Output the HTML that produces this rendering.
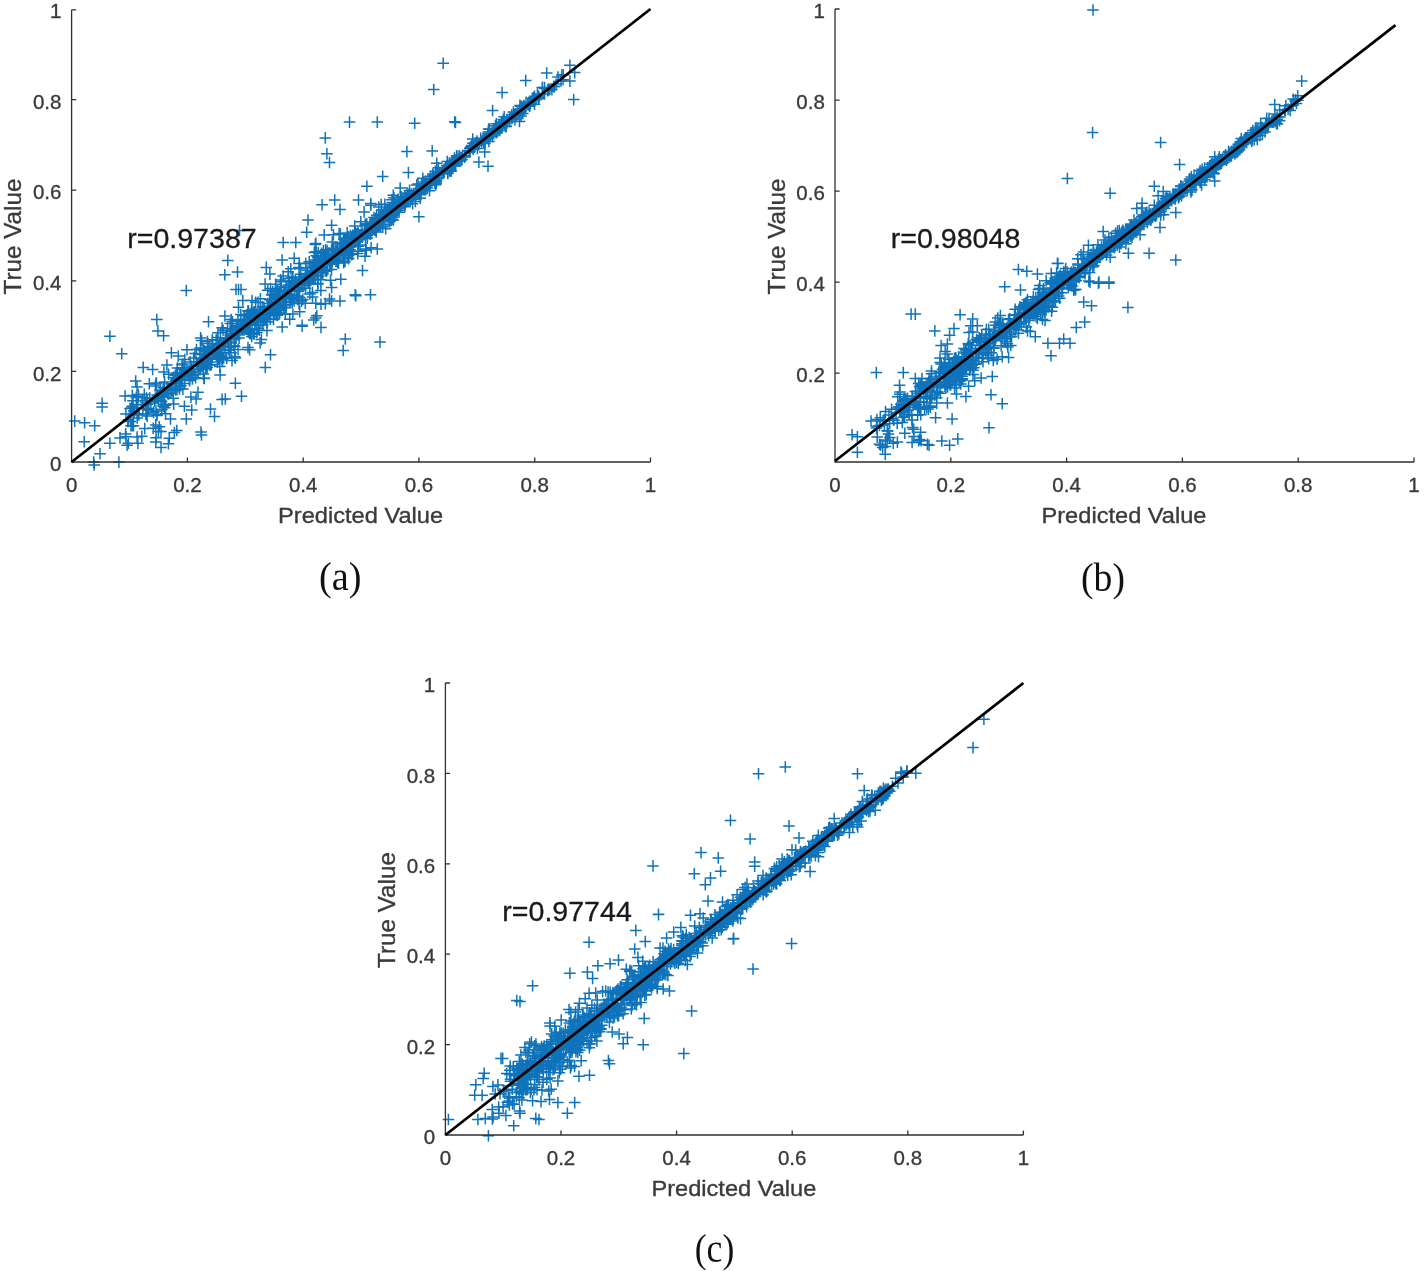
<!DOCTYPE html>
<html lang="en"><head><meta charset="utf-8"><title>Predicted vs True Value</title>
<style>
html,body{margin:0;padding:0;background:#fff}
body{width:1425px;height:1271px;overflow:hidden}
svg{display:block}
.t{font-family:"Liberation Sans",Arial,sans-serif;fill:#3a3a3a;stroke:#3a3a3a;stroke-width:0.35px}
.tk{font-size:20.5px}
.lb{font-size:22.6px}
.r{font-family:"Liberation Sans",Arial,sans-serif;font-size:28.5px;fill:#1a1a1a;stroke:#1a1a1a;stroke-width:0.3px}
.cap{font-family:"Liberation Serif","DejaVu Serif",serif;font-size:40px;fill:#111}
.ax{stroke:#303030;stroke-width:1.3;fill:none}
.mk{stroke:#0f73bb;stroke-width:1.5;fill:none}
.ln{stroke:#000;stroke-width:2.7;stroke-linecap:butt}
</style></head><body>
<svg width="1425" height="1271" viewBox="0 0 1425 1271">
<g id="plot-a">
<path class="mk" d="M192.2 392.3h11.6M198.0 386.5v11.6M328.0 248.2h11.6M333.8 242.4v11.6M344.7 247.1h11.6M350.5 241.3v11.6M122.0 421.4h11.6M127.8 415.6v11.6M213.2 352.6h11.6M219.0 346.8v11.6M479.4 139.1h11.6M485.2 133.3v11.6M182.2 372.3h11.6M188.0 366.5v11.6M185.5 372.4h11.6M191.3 366.6v11.6M479.2 143.4h11.6M485.0 137.6v11.6M337.2 244.1h11.6M343.0 238.3v11.6M285.1 294.9h11.6M290.9 289.1v11.6M310.3 251.7h11.6M316.1 245.9v11.6M385.6 212.2h11.6M391.4 206.4v11.6M225.2 352.7h11.6M231.0 346.9v11.6M237.6 324.0h11.6M243.4 318.2v11.6M465.3 146.9h11.6M471.1 141.1v11.6M393.2 212.3h11.6M399.0 206.5v11.6M270.8 304.0h11.6M276.6 298.2v11.6M451.1 156.5h11.6M456.9 150.7v11.6M386.0 219.1h11.6M391.8 213.3v11.6M555.2 80.9h11.6M561.0 75.1v11.6M222.2 338.7h11.6M228.0 332.9v11.6M342.9 258.8h11.6M348.7 253.0v11.6M295.6 301.1h11.6M301.4 295.3v11.6M288.3 301.0h11.6M294.1 295.2v11.6M359.4 230.1h11.6M365.2 224.3v11.6M248.9 313.1h11.6M254.7 307.3v11.6M446.8 162.1h11.6M452.6 156.3v11.6M448.8 161.1h11.6M454.6 155.3v11.6M177.1 389.1h11.6M182.9 383.3v11.6M272.5 294.6h11.6M278.3 288.8v11.6M197.2 348.5h11.6M203.0 342.7v11.6M165.1 393.0h11.6M170.9 387.2v11.6M520.2 102.4h11.6M526.0 96.6v11.6M307.7 275.1h11.6M313.5 269.3v11.6M248.2 317.8h11.6M254.0 312.0v11.6M375.3 218.0h11.6M381.1 212.2v11.6M247.6 333.6h11.6M253.4 327.8v11.6M528.7 96.2h11.6M534.5 90.4v11.6M242.7 331.9h11.6M248.5 326.1v11.6M142.9 408.5h11.6M148.7 402.7v11.6M260.7 318.5h11.6M266.5 312.7v11.6M314.1 264.1h11.6M319.9 258.3v11.6M319.1 257.6h11.6M324.9 251.8v11.6M475.6 141.0h11.6M481.4 135.2v11.6M334.6 234.0h11.6M340.4 228.2v11.6M326.8 255.6h11.6M332.6 249.8v11.6M124.8 421.4h11.6M130.6 415.6v11.6M214.3 374.9h11.6M220.1 369.1v11.6M532.9 97.5h11.6M538.7 91.7v11.6M306.7 276.9h11.6M312.5 271.1v11.6M334.2 257.3h11.6M340.0 251.5v11.6M183.8 379.7h11.6M189.6 373.9v11.6M126.5 406.6h11.6M132.3 400.8v11.6M453.3 155.9h11.6M459.1 150.1v11.6M395.4 196.7h11.6M401.2 190.9v11.6M241.1 314.7h11.6M246.9 308.9v11.6M222.6 346.8h11.6M228.4 341.0v11.6M175.8 375.3h11.6M181.6 369.5v11.6M252.6 328.4h11.6M258.4 322.6v11.6M138.5 394.4h11.6M144.3 388.6v11.6M419.1 184.3h11.6M424.9 178.5v11.6M263.1 313.0h11.6M268.9 307.2v11.6M187.6 368.9h11.6M193.4 363.1v11.6M444.9 165.9h11.6M450.7 160.1v11.6M197.6 366.3h11.6M203.4 360.5v11.6M172.4 356.1h11.6M178.2 350.3v11.6M373.0 207.1h11.6M378.8 201.3v11.6M488.0 129.4h11.6M493.8 123.6v11.6M143.5 383.7h11.6M149.3 377.9v11.6M418.2 185.6h11.6M424.0 179.8v11.6M203.2 364.8h11.6M209.0 359.0v11.6M161.1 365.0h11.6M166.9 359.2v11.6M127.7 425.8h11.6M133.5 420.0v11.6M254.6 309.1h11.6M260.4 303.3v11.6M377.7 218.2h11.6M383.5 212.4v11.6M271.1 296.3h11.6M276.9 290.5v11.6M428.9 177.9h11.6M434.7 172.1v11.6M200.3 351.7h11.6M206.1 345.9v11.6M242.2 347.5h11.6M248.0 341.7v11.6M252.6 317.0h11.6M258.4 311.2v11.6M531.6 94.1h11.6M537.4 88.3v11.6M500.0 126.6h11.6M505.8 120.8v11.6M279.6 305.1h11.6M285.4 299.3v11.6M282.4 271.7h11.6M288.2 265.9v11.6M245.0 316.6h11.6M250.8 310.8v11.6M469.4 143.3h11.6M475.2 137.5v11.6M159.8 413.7h11.6M165.6 407.9v11.6M172.0 378.6h11.6M177.8 372.8v11.6M284.2 301.3h11.6M290.0 295.5v11.6M197.5 374.1h11.6M203.3 368.3v11.6M443.4 164.2h11.6M449.2 158.4v11.6M412.3 184.0h11.6M418.1 178.2v11.6M379.9 228.7h11.6M385.7 222.9v11.6M384.0 221.7h11.6M389.8 215.9v11.6M342.0 252.3h11.6M347.8 246.5v11.6M443.0 167.1h11.6M448.8 161.3v11.6M483.1 141.4h11.6M488.9 135.6v11.6M246.2 300.6h11.6M252.0 294.8v11.6M352.0 234.5h11.6M357.8 228.7v11.6M241.0 328.6h11.6M246.8 322.8v11.6M307.6 279.4h11.6M313.4 273.6v11.6M441.5 161.5h11.6M447.3 155.7v11.6M483.7 129.2h11.6M489.5 123.4v11.6M459.5 156.1h11.6M465.3 150.3v11.6M128.1 410.7h11.6M133.9 404.9v11.6M316.2 256.9h11.6M322.0 251.1v11.6M226.2 360.6h11.6M232.0 354.8v11.6M541.9 90.8h11.6M547.7 85.0v11.6M242.7 311.6h11.6M248.5 305.8v11.6M216.8 359.8h11.6M222.6 354.0v11.6M315.7 269.3h11.6M321.5 263.5v11.6M167.5 398.2h11.6M173.3 392.4v11.6M453.0 161.0h11.6M458.8 155.2v11.6M380.5 212.7h11.6M386.3 206.9v11.6M258.8 318.5h11.6M264.6 312.7v11.6M291.0 296.0h11.6M296.8 290.2v11.6M163.0 394.1h11.6M168.8 388.2v11.6M401.2 192.9h11.6M407.0 187.1v11.6M229.0 333.9h11.6M234.8 328.1v11.6M166.2 390.8h11.6M172.0 385.0v11.6M179.3 373.0h11.6M185.1 367.2v11.6M349.5 237.4h11.6M355.3 231.6v11.6M398.6 201.0h11.6M404.4 195.2v11.6M315.0 279.8h11.6M320.8 274.0v11.6M377.2 216.9h11.6M383.0 211.1v11.6M282.9 293.9h11.6M288.7 288.1v11.6M184.3 361.9h11.6M190.1 356.1v11.6M257.0 324.9h11.6M262.8 319.1v11.6M317.6 250.9h11.6M323.4 245.1v11.6M523.8 105.5h11.6M529.6 99.7v11.6M151.1 415.4h11.6M156.9 409.6v11.6M181.2 349.7h11.6M187.0 343.9v11.6M392.3 210.3h11.6M398.1 204.5v11.6M498.6 122.4h11.6M504.4 116.6v11.6M475.7 141.7h11.6M481.5 135.9v11.6M369.8 218.9h11.6M375.6 213.1v11.6M158.1 372.1h11.6M163.9 366.3v11.6M403.8 190.4h11.6M409.6 184.6v11.6M397.1 200.0h11.6M402.9 194.2v11.6M251.0 332.4h11.6M256.8 326.6v11.6M306.7 297.0h11.6M312.5 291.2v11.6M181.5 372.8h11.6M187.3 367.0v11.6M448.2 165.3h11.6M454.0 159.5v11.6M364.2 226.1h11.6M370.0 220.3v11.6M410.0 192.1h11.6M415.8 186.3v11.6M421.6 188.1h11.6M427.4 182.3v11.6M228.3 345.8h11.6M234.1 340.0v11.6M442.0 173.4h11.6M447.8 167.6v11.6M214.1 356.0h11.6M219.9 350.2v11.6M202.0 358.9h11.6M207.8 353.1v11.6M286.4 284.0h11.6M292.2 278.2v11.6M275.5 286.9h11.6M281.3 281.1v11.6M257.8 321.0h11.6M263.6 315.2v11.6M347.4 244.9h11.6M353.2 239.1v11.6M359.5 224.0h11.6M365.3 218.2v11.6M230.8 325.3h11.6M236.6 319.5v11.6M349.6 238.6h11.6M355.4 232.8v11.6M297.0 299.4h11.6M302.8 293.6v11.6M370.5 228.4h11.6M376.3 222.6v11.6M196.6 359.5h11.6M202.4 353.7v11.6M467.4 149.3h11.6M473.2 143.5v11.6M300.0 263.5h11.6M305.8 257.7v11.6M342.2 245.1h11.6M348.0 239.3v11.6M400.3 199.2h11.6M406.1 193.4v11.6M274.3 308.5h11.6M280.1 302.7v11.6M243.7 333.3h11.6M249.5 327.5v11.6M542.9 90.2h11.6M548.7 84.4v11.6M158.8 407.8h11.6M164.6 402.0v11.6M289.0 289.4h11.6M294.8 283.6v11.6M365.5 223.8h11.6M371.3 218.0v11.6M128.6 411.9h11.6M134.4 406.1v11.6M210.3 340.1h11.6M216.1 334.3v11.6M430.4 180.7h11.6M436.2 174.9v11.6M431.8 174.9h11.6M437.6 169.1v11.6M379.9 215.2h11.6M385.7 209.4v11.6M482.5 131.9h11.6M488.3 126.1v11.6M404.7 197.6h11.6M410.5 191.8v11.6M251.1 314.7h11.6M256.9 308.9v11.6M336.9 255.1h11.6M342.7 249.3v11.6M306.5 267.8h11.6M312.3 262.0v11.6M439.7 167.4h11.6M445.5 161.6v11.6M330.4 259.2h11.6M336.2 253.4v11.6M206.4 357.8h11.6M212.2 352.0v11.6M522.4 104.9h11.6M528.2 99.1v11.6M341.1 239.7h11.6M346.9 233.9v11.6M413.5 193.9h11.6M419.3 188.1v11.6M377.5 214.2h11.6M383.3 208.4v11.6M413.1 191.4h11.6M418.9 185.6v11.6M303.4 261.7h11.6M309.2 255.9v11.6M379.0 204.2h11.6M384.8 198.4v11.6M152.6 400.2h11.6M158.4 394.4v11.6M387.0 215.7h11.6M392.8 209.9v11.6M431.0 163.3h11.6M436.8 157.5v11.6M399.2 198.7h11.6M405.0 192.9v11.6M402.4 196.5h11.6M408.2 190.7v11.6M268.1 311.9h11.6M273.9 306.1v11.6M506.9 117.4h11.6M512.7 111.6v11.6M158.8 382.1h11.6M164.6 376.3v11.6M494.4 125.1h11.6M500.2 119.3v11.6"/>
<path class="mk" d="M325.8 264.3h11.6M331.6 258.5v11.6M162.8 374.3h11.6M168.6 368.5v11.6M335.6 247.1h11.6M341.4 241.3v11.6M272.6 308.7h11.6M278.4 302.9v11.6M301.2 270.2h11.6M307.0 264.4v11.6M455.4 157.6h11.6M461.2 151.8v11.6M245.8 310.2h11.6M251.6 304.4v11.6M364.9 230.8h11.6M370.7 225.0v11.6M279.3 292.2h11.6M285.1 286.4v11.6M271.5 315.3h11.6M277.3 309.5v11.6M278.1 291.0h11.6M283.9 285.2v11.6M156.1 409.6h11.6M161.9 403.8v11.6M325.7 257.6h11.6M331.5 251.8v11.6M429.9 184.8h11.6M435.7 179.0v11.6M201.3 361.8h11.6M207.1 356.0v11.6M136.4 400.5h11.6M142.2 394.7v11.6M168.0 377.4h11.6M173.8 371.6v11.6M264.7 288.6h11.6M270.5 282.8v11.6M557.3 79.8h11.6M563.1 74.0v11.6M190.7 349.5h11.6M196.5 343.7v11.6M536.5 87.4h11.6M542.3 81.6v11.6M320.5 271.2h11.6M326.3 265.4v11.6M167.9 404.1h11.6M173.7 398.3v11.6M309.4 275.6h11.6M315.2 269.8v11.6M238.5 330.0h11.6M244.3 324.2v11.6M382.9 213.1h11.6M388.7 207.3v11.6M293.2 303.6h11.6M299.0 297.8v11.6M203.3 347.3h11.6M209.1 341.5v11.6M249.0 325.2h11.6M254.8 319.4v11.6M432.2 178.4h11.6M438.0 172.6v11.6M432.2 172.4h11.6M438.0 166.6v11.6M315.4 271.4h11.6M321.2 265.6v11.6M310.2 262.4h11.6M316.0 256.6v11.6M470.3 143.0h11.6M476.1 137.2v11.6M493.5 128.1h11.6M499.3 122.3v11.6M176.3 364.8h11.6M182.1 359.0v11.6M199.0 351.0h11.6M204.8 345.2v11.6M270.4 306.6h11.6M276.2 300.8v11.6M280.3 307.8h11.6M286.1 302.0v11.6M159.8 405.3h11.6M165.6 399.5v11.6M167.5 377.5h11.6M173.3 371.7v11.6M209.1 353.6h11.6M214.9 347.8v11.6M327.6 234.7h11.6M333.4 228.9v11.6M431.3 175.2h11.6M437.1 169.4v11.6M358.7 230.8h11.6M364.5 225.0v11.6M144.0 398.0h11.6M149.8 392.2v11.6M183.7 380.6h11.6M189.5 374.8v11.6M316.1 267.0h11.6M321.9 261.2v11.6M523.9 106.2h11.6M529.7 100.4v11.6M513.7 121.4h11.6M519.5 115.6v11.6M283.9 319.2h11.6M289.7 313.4v11.6M526.7 98.4h11.6M532.5 92.6v11.6M472.6 144.9h11.6M478.4 139.1v11.6M325.0 260.1h11.6M330.8 254.3v11.6M430.7 180.9h11.6M436.5 175.1v11.6M286.1 299.1h11.6M291.9 293.3v11.6M226.1 330.0h11.6M231.9 324.2v11.6M359.9 231.4h11.6M365.7 225.6v11.6M186.7 374.4h11.6M192.5 368.6v11.6M388.1 197.8h11.6M393.9 192.0v11.6M453.4 159.0h11.6M459.2 153.2v11.6M484.5 136.0h11.6M490.3 130.2v11.6M293.2 267.4h11.6M299.0 261.6v11.6M150.3 437.7h11.6M156.1 431.9v11.6M514.0 109.9h11.6M519.8 104.1v11.6M404.5 201.0h11.6M410.3 195.2v11.6M494.0 130.5h11.6M499.8 124.7v11.6M342.6 249.6h11.6M348.4 243.8v11.6M391.3 206.8h11.6M397.1 201.0v11.6M326.4 257.3h11.6M332.2 251.5v11.6M213.2 344.9h11.6M219.0 339.1v11.6M253.8 313.7h11.6M259.6 307.9v11.6M344.5 235.6h11.6M350.3 229.8v11.6M312.0 257.0h11.6M317.8 251.2v11.6M349.5 232.0h11.6M355.3 226.2v11.6M293.6 277.9h11.6M299.4 272.1v11.6M305.1 280.1h11.6M310.9 274.3v11.6M491.3 131.8h11.6M497.1 126.0v11.6M206.9 346.9h11.6M212.7 341.1v11.6M303.4 275.8h11.6M309.2 270.0v11.6M248.3 312.1h11.6M254.1 306.3v11.6M528.7 104.2h11.6M534.5 98.4v11.6M285.0 268.8h11.6M290.8 263.0v11.6M280.5 304.8h11.6M286.3 299.0v11.6M198.5 359.3h11.6M204.3 353.5v11.6M346.3 236.7h11.6M352.1 230.9v11.6M264.4 319.2h11.6M270.2 313.4v11.6M158.4 397.2h11.6M164.2 391.4v11.6M138.9 428.6h11.6M144.7 422.8v11.6M270.6 314.5h11.6M276.4 308.7v11.6M377.0 227.1h11.6M382.8 221.3v11.6M283.1 291.1h11.6M288.9 285.3v11.6M484.3 133.8h11.6M490.1 128.0v11.6M499.0 123.8h11.6M504.8 118.0v11.6M496.3 121.9h11.6M502.1 116.1v11.6M432.6 167.7h11.6M438.4 161.9v11.6M270.8 303.0h11.6M276.6 297.2v11.6M301.9 279.0h11.6M307.7 273.2v11.6M325.3 262.5h11.6M331.1 256.7v11.6M263.3 312.0h11.6M269.1 306.2v11.6M150.6 383.0h11.6M156.4 377.2v11.6M442.3 166.8h11.6M448.1 161.0v11.6M215.3 349.5h11.6M221.1 343.7v11.6M125.2 425.8h11.6M131.0 420.0v11.6M331.3 250.7h11.6M337.1 244.9v11.6M353.5 239.1h11.6M359.3 233.3v11.6M326.6 253.9h11.6M332.4 248.1v11.6M305.5 275.0h11.6M311.3 269.2v11.6M334.2 243.2h11.6M340.0 237.4v11.6M211.6 337.5h11.6M217.4 331.7v11.6M120.1 436.7h11.6M125.9 430.9v11.6M369.5 225.1h11.6M375.3 219.3v11.6M325.7 253.7h11.6M331.5 247.9v11.6M405.2 199.2h11.6M411.0 193.4v11.6M264.6 299.8h11.6M270.4 294.0v11.6M403.6 195.5h11.6M409.4 189.7v11.6M125.8 407.9h11.6M131.6 402.1v11.6M122.7 419.8h11.6M128.5 414.0v11.6M399.4 198.9h11.6M405.2 193.1v11.6M247.0 313.6h11.6M252.8 307.8v11.6M190.3 399.0h11.6M196.1 393.2v11.6M173.7 388.9h11.6M179.5 383.1v11.6M319.6 270.5h11.6M325.4 264.7v11.6M311.9 257.2h11.6M317.7 251.4v11.6M352.4 234.4h11.6M358.2 228.6v11.6M508.8 114.4h11.6M514.6 108.6v11.6M282.7 290.3h11.6M288.5 284.5v11.6M225.4 343.1h11.6M231.2 337.3v11.6M389.2 211.9h11.6M395.0 206.1v11.6M124.3 408.5h11.6M130.1 402.7v11.6M274.8 305.4h11.6M280.6 299.6v11.6M252.3 302.4h11.6M258.1 296.6v11.6M294.8 280.0h11.6M300.6 274.2v11.6M154.9 392.9h11.6M160.7 387.1v11.6M354.2 237.5h11.6M360.0 231.7v11.6M351.6 239.2h11.6M357.4 233.4v11.6M463.8 150.4h11.6M469.6 144.6v11.6M498.4 116.8h11.6M504.2 111.0v11.6M326.5 242.0h11.6M332.3 236.2v11.6M364.7 233.8h11.6M370.5 228.0v11.6M327.9 255.2h11.6M333.7 249.4v11.6M256.8 306.7h11.6M262.6 300.9v11.6M503.9 121.4h11.6M509.7 115.6v11.6M456.2 159.6h11.6M462.0 153.8v11.6M487.6 133.0h11.6M493.4 127.2v11.6M409.6 201.4h11.6M415.4 195.6v11.6M506.0 114.7h11.6M511.8 108.9v11.6M149.4 398.6h11.6M155.2 392.8v11.6M131.4 417.9h11.6M137.2 412.1v11.6M236.2 328.6h11.6M242.0 322.8v11.6M315.9 262.8h11.6M321.7 257.0v11.6M394.4 188.1h11.6M400.2 182.3v11.6M276.8 295.6h11.6M282.6 289.8v11.6M322.8 255.1h11.6M328.6 249.3v11.6M436.1 173.8h11.6M441.9 168.0v11.6M175.7 373.8h11.6M181.5 368.0v11.6M364.2 230.1h11.6M370.0 224.3v11.6M186.1 375.9h11.6M191.9 370.1v11.6M214.0 366.6h11.6M219.8 360.8v11.6M332.7 263.1h11.6M338.5 257.3v11.6M389.7 206.7h11.6M395.5 200.9v11.6M308.6 266.4h11.6M314.4 260.6v11.6M242.9 317.9h11.6M248.7 312.1v11.6M410.2 194.8h11.6M416.0 189.0v11.6M207.5 349.1h11.6M213.3 343.3v11.6M136.0 436.2h11.6M141.8 430.4v11.6M245.1 313.7h11.6M250.9 307.9v11.6M137.1 408.1h11.6M142.9 402.3v11.6M443.0 166.1h11.6M448.8 160.3v11.6M177.2 364.1h11.6M183.0 358.3v11.6M533.2 97.2h11.6M539.0 91.4v11.6M224.5 323.6h11.6M230.3 317.8v11.6M216.0 349.7h11.6M221.8 343.9v11.6M383.2 211.3h11.6M389.0 205.5v11.6M229.1 338.9h11.6M234.9 333.1v11.6M312.6 266.5h11.6M318.4 260.7v11.6M179.0 359.6h11.6M184.8 353.8v11.6M325.5 263.1h11.6M331.3 257.3v11.6M142.7 409.9h11.6M148.5 404.1v11.6M196.7 364.1h11.6M202.5 358.3v11.6M509.7 113.9h11.6M515.5 108.1v11.6M219.1 316.0h11.6M224.9 310.2v11.6M200.2 363.9h11.6M206.0 358.1v11.6M365.3 247.7h11.6M371.1 241.9v11.6M519.8 108.2h11.6M525.6 102.4v11.6M248.5 333.9h11.6M254.3 328.1v11.6M270.0 307.2h11.6M275.8 301.4v11.6M346.2 242.3h11.6M352.0 236.5v11.6M449.8 166.1h11.6M455.6 160.3v11.6M399.4 203.4h11.6M405.2 197.6v11.6M198.5 378.3h11.6M204.3 372.5v11.6M199.3 356.8h11.6M205.1 351.0v11.6M449.9 165.1h11.6M455.7 159.3v11.6M374.9 215.1h11.6M380.7 209.3v11.6M518.0 105.5h11.6M523.8 99.7v11.6M415.3 193.1h11.6M421.1 187.3v11.6M297.0 283.7h11.6M302.8 277.9v11.6M184.0 373.1h11.6M189.8 367.3v11.6M493.1 125.6h11.6M498.9 119.8v11.6M359.9 249.0h11.6M365.7 243.2v11.6"/>
<path class="mk" d="M334.4 252.3h11.6M340.2 246.5v11.6M387.5 195.3h11.6M393.3 189.5v11.6M293.7 284.2h11.6M299.5 278.4v11.6M288.9 285.5h11.6M294.7 279.7v11.6M377.6 217.8h11.6M383.4 212.0v11.6M321.9 269.7h11.6M327.7 263.9v11.6M392.3 199.2h11.6M398.1 193.4v11.6M490.8 128.0h11.6M496.6 122.2v11.6M443.8 165.6h11.6M449.6 159.8v11.6M289.5 280.9h11.6M295.3 275.1v11.6M320.9 256.6h11.6M326.7 250.8v11.6M517.0 113.5h11.6M522.8 107.7v11.6M308.6 264.8h11.6M314.4 259.0v11.6M458.8 157.1h11.6M464.6 151.3v11.6M170.5 379.6h11.6M176.3 373.8v11.6M302.3 282.0h11.6M308.1 276.2v11.6M273.9 313.1h11.6M279.7 307.3v11.6M450.8 155.8h11.6M456.6 150.0v11.6M487.7 131.8h11.6M493.5 126.0v11.6M232.2 335.0h11.6M238.0 329.2v11.6M332.2 255.1h11.6M338.0 249.3v11.6M359.7 231.3h11.6M365.5 225.5v11.6M235.9 329.4h11.6M241.7 323.6v11.6M445.4 171.3h11.6M451.2 165.5v11.6M371.2 226.8h11.6M377.0 221.0v11.6M485.6 133.9h11.6M491.4 128.1v11.6M238.6 315.7h11.6M244.4 309.9v11.6M308.5 252.4h11.6M314.3 246.6v11.6M303.6 282.5h11.6M309.4 276.7v11.6M358.3 211.9h11.6M364.1 206.1v11.6M342.7 244.4h11.6M348.5 238.6v11.6M301.3 273.6h11.6M307.1 267.8v11.6M266.2 309.7h11.6M272.0 303.9v11.6M326.2 261.9h11.6M332.0 256.1v11.6M287.1 276.9h11.6M292.9 271.1v11.6M487.4 132.8h11.6M493.2 127.0v11.6M293.9 284.1h11.6M299.7 278.3v11.6M269.9 284.2h11.6M275.7 278.4v11.6M254.6 298.8h11.6M260.4 293.0v11.6M261.2 322.1h11.6M267.0 316.3v11.6M518.7 107.9h11.6M524.5 102.1v11.6M233.0 331.4h11.6M238.8 325.6v11.6M466.9 139.1h11.6M472.7 133.3v11.6M355.0 221.8h11.6M360.8 216.0v11.6M542.4 89.0h11.6M548.2 83.2v11.6M205.1 348.6h11.6M210.9 342.8v11.6M495.6 123.2h11.6M501.4 117.4v11.6M466.0 145.6h11.6M471.8 139.8v11.6M378.2 218.6h11.6M384.0 212.8v11.6M370.0 219.5h11.6M375.8 213.7v11.6M369.3 230.3h11.6M375.1 224.5v11.6M306.7 292.6h11.6M312.5 286.8v11.6M374.5 226.3h11.6M380.3 220.5v11.6M224.6 335.7h11.6M230.4 329.9v11.6M132.7 396.6h11.6M138.5 390.8v11.6M339.2 261.5h11.6M345.0 255.7v11.6M293.4 297.3h11.6M299.2 291.5v11.6M510.1 114.1h11.6M515.9 108.3v11.6M208.7 416.4h11.6M214.5 410.6v11.6M420.8 182.0h11.6M426.6 176.2v11.6M552.2 77.1h11.6M558.0 71.3v11.6M478.9 152.0h11.6M484.7 146.2v11.6M482.3 133.8h11.6M488.1 128.0v11.6M250.0 321.4h11.6M255.8 315.6v11.6M201.6 341.5h11.6M207.4 335.7v11.6M214.1 343.2h11.6M219.9 337.4v11.6M325.8 260.0h11.6M331.6 254.2v11.6M165.9 384.0h11.6M171.7 378.2v11.6M249.9 302.3h11.6M255.7 296.5v11.6M140.0 402.1h11.6M145.8 396.3v11.6M472.2 143.5h11.6M478.0 137.7v11.6M277.9 307.3h11.6M283.7 301.5v11.6M395.4 201.7h11.6M401.2 195.9v11.6M285.0 289.4h11.6M290.8 283.6v11.6M429.6 171.4h11.6M435.4 165.6v11.6M466.5 147.8h11.6M472.3 142.0v11.6M270.3 302.5h11.6M276.1 296.7v11.6M330.1 261.3h11.6M335.9 255.5v11.6M176.8 367.7h11.6M182.6 361.9v11.6M236.8 329.6h11.6M242.6 323.8v11.6M193.2 369.5h11.6M199.0 363.7v11.6M237.0 300.6h11.6M242.8 294.8v11.6M319.8 249.8h11.6M325.6 244.0v11.6M359.5 233.8h11.6M365.3 228.0v11.6M267.7 319.4h11.6M273.5 313.6v11.6M271.8 290.3h11.6M277.6 284.5v11.6M406.9 199.2h11.6M412.7 193.4v11.6M129.9 381.1h11.6M135.7 375.3v11.6M141.6 404.2h11.6M147.4 398.4v11.6M149.6 386.0h11.6M155.4 380.2v11.6M429.8 183.2h11.6M435.6 177.4v11.6M359.9 231.2h11.6M365.7 225.4v11.6M359.8 225.5h11.6M365.6 219.7v11.6M501.5 119.6h11.6M507.3 113.8v11.6M230.3 337.9h11.6M236.1 332.1v11.6M482.8 129.0h11.6M488.6 123.2v11.6M248.3 311.7h11.6M254.1 305.9v11.6M298.5 281.0h11.6M304.3 275.2v11.6M356.5 236.9h11.6M362.3 231.1v11.6M468.5 147.2h11.6M474.3 141.4v11.6M242.2 310.8h11.6M248.0 305.0v11.6M274.0 304.7h11.6M279.8 298.9v11.6M191.7 364.7h11.6M197.5 358.9v11.6M233.3 338.1h11.6M239.1 332.3v11.6M538.8 88.6h11.6M544.6 82.8v11.6M484.7 134.2h11.6M490.5 128.4v11.6M336.8 243.5h11.6M342.6 237.7v11.6M418.5 182.1h11.6M424.3 176.3v11.6M487.8 133.8h11.6M493.6 128.0v11.6M286.5 276.9h11.6M292.3 271.1v11.6M557.5 74.7h11.6M563.3 68.9v11.6M303.8 283.2h11.6M309.6 277.4v11.6M206.5 339.8h11.6M212.3 334.0v11.6M288.4 258.2h11.6M294.2 252.4v11.6M362.1 230.8h11.6M367.9 225.0v11.6M337.9 239.6h11.6M343.7 233.8v11.6M364.6 234.1h11.6M370.4 228.3v11.6M170.4 372.9h11.6M176.2 367.1v11.6M395.3 205.8h11.6M401.1 200.0v11.6M496.1 122.9h11.6M501.9 117.1v11.6M379.9 215.3h11.6M385.7 209.5v11.6M548.6 86.6h11.6M554.4 80.8v11.6M274.8 279.9h11.6M280.6 274.1v11.6M441.0 168.7h11.6M446.8 162.9v11.6M224.4 347.3h11.6M230.2 341.5v11.6M480.5 137.0h11.6M486.3 131.2v11.6M264.3 314.3h11.6M270.1 308.5v11.6M528.7 98.5h11.6M534.5 92.7v11.6M268.9 302.7h11.6M274.7 296.9v11.6M393.7 206.3h11.6M399.5 200.5v11.6M427.0 175.0h11.6M432.8 169.2v11.6M337.8 262.7h11.6M343.6 256.9v11.6M399.1 196.9h11.6M404.9 191.1v11.6M509.2 119.6h11.6M515.0 113.8v11.6M165.6 352.8h11.6M171.4 347.0v11.6M185.6 366.3h11.6M191.4 360.5v11.6M381.2 215.6h11.6M387.0 209.8v11.6M495.1 127.6h11.6M500.9 121.8v11.6M381.9 211.6h11.6M387.7 205.8v11.6M244.4 323.0h11.6M250.2 317.2v11.6M154.8 394.2h11.6M160.6 388.4v11.6M312.4 252.8h11.6M318.2 247.0v11.6M326.3 260.1h11.6M332.1 254.3v11.6M310.4 271.2h11.6M316.2 265.4v11.6M387.6 207.8h11.6M393.4 202.0v11.6M261.9 290.2h11.6M267.7 284.4v11.6M517.1 108.8h11.6M522.9 103.0v11.6M225.8 334.8h11.6M231.6 329.0v11.6M172.9 377.7h11.6M178.7 371.9v11.6M315.9 259.8h11.6M321.7 254.0v11.6M507.6 112.1h11.6M513.4 106.3v11.6M198.1 378.5h11.6M203.9 372.7v11.6M197.3 360.3h11.6M203.1 354.5v11.6M486.8 132.3h11.6M492.6 126.5v11.6M319.5 258.2h11.6M325.3 252.4v11.6M417.0 178.2h11.6M422.8 172.4v11.6M161.6 387.2h11.6M167.4 381.4v11.6M518.7 106.7h11.6M524.5 100.9v11.6M202.1 343.5h11.6M207.9 337.7v11.6M212.6 359.3h11.6M218.4 353.5v11.6M419.4 188.7h11.6M425.2 182.9v11.6M530.3 99.7h11.6M536.1 93.9v11.6M514.0 110.9h11.6M519.8 105.1v11.6M423.8 179.8h11.6M429.6 174.0v11.6M494.6 128.0h11.6M500.4 122.2v11.6M538.6 87.6h11.6M544.4 81.8v11.6M336.7 253.6h11.6M342.5 247.8v11.6M251.9 319.4h11.6M257.7 313.6v11.6M410.9 184.9h11.6M416.7 179.1v11.6M282.5 285.0h11.6M288.3 279.2v11.6M243.2 322.7h11.6M249.0 316.9v11.6M286.8 284.9h11.6M292.6 279.1v11.6M132.5 394.6h11.6M138.3 388.8v11.6M127.5 413.9h11.6M133.3 408.1v11.6M232.1 320.7h11.6M237.9 314.9v11.6M354.2 244.9h11.6M360.0 239.1v11.6M433.3 173.8h11.6M439.1 168.0v11.6M471.6 148.4h11.6M477.4 142.6v11.6M402.6 201.2h11.6M408.4 195.4v11.6M500.4 126.3h11.6M506.2 120.5v11.6M388.8 203.6h11.6M394.6 197.8v11.6M401.4 200.5h11.6M407.2 194.7v11.6M387.9 208.2h11.6M393.7 202.4v11.6M171.2 389.7h11.6M177.0 383.9v11.6M176.7 377.6h11.6M182.5 371.8v11.6M448.2 163.2h11.6M454.0 157.4v11.6M243.9 330.1h11.6M249.7 324.3v11.6M470.5 142.7h11.6M476.3 136.9v11.6M286.5 301.9h11.6M292.3 296.1v11.6M130.8 404.4h11.6M136.6 398.6v11.6M386.2 199.8h11.6M392.0 194.0v11.6M277.6 302.4h11.6M283.4 296.6v11.6M151.3 395.0h11.6M157.1 389.2v11.6M255.6 339.4h11.6M261.4 333.6v11.6M194.3 361.9h11.6M200.1 356.1v11.6M324.7 280.3h11.6M330.5 274.5v11.6M395.7 201.0h11.6M401.5 195.2v11.6M204.7 365.1h11.6M210.5 359.3v11.6M315.1 290.5h11.6M320.9 284.7v11.6M352.2 251.3h11.6M358.0 245.5v11.6"/>
<path class="mk" d="M486.7 136.5h11.6M492.5 130.7v11.6M192.4 371.6h11.6M198.2 365.8v11.6M187.9 358.0h11.6M193.7 352.2v11.6M246.2 324.3h11.6M252.0 318.5v11.6M223.4 350.3h11.6M229.2 344.5v11.6M261.6 315.9h11.6M267.4 310.1v11.6M173.2 377.4h11.6M179.0 371.6v11.6M261.2 330.6h11.6M267.0 324.8v11.6M243.3 314.2h11.6M249.1 308.4v11.6M265.9 301.6h11.6M271.7 295.8v11.6M387.6 220.0h11.6M393.4 214.2v11.6M320.9 253.6h11.6M326.7 247.8v11.6M254.3 342.9h11.6M260.1 337.1v11.6M175.7 379.3h11.6M181.5 373.5v11.6M195.8 340.4h11.6M201.6 334.6v11.6M253.4 330.3h11.6M259.2 324.5v11.6M291.9 299.5h11.6M297.7 293.7v11.6M415.2 194.5h11.6M421.0 188.7v11.6M346.6 254.3h11.6M352.4 248.5v11.6M207.2 353.6h11.6M213.0 347.8v11.6M141.5 409.7h11.6M147.3 403.9v11.6M150.2 411.0h11.6M156.0 405.2v11.6M326.4 261.1h11.6M332.2 255.3v11.6M263.8 311.0h11.6M269.6 305.2v11.6M382.3 221.3h11.6M388.1 215.5v11.6M157.5 387.8h11.6M163.3 382.0v11.6M228.9 336.9h11.6M234.7 331.1v11.6M344.4 249.9h11.6M350.2 244.1v11.6M394.6 197.4h11.6M400.4 191.6v11.6M273.5 310.5h11.6M279.3 304.7v11.6M498.1 121.8h11.6M503.9 116.0v11.6M175.0 385.7h11.6M180.8 379.9v11.6M224.7 334.8h11.6M230.5 329.0v11.6M347.1 238.5h11.6M352.9 232.7v11.6M352.2 232.7h11.6M358.0 226.9v11.6M556.0 75.0h11.6M561.8 69.2v11.6M532.6 98.7h11.6M538.4 92.9v11.6M333.3 233.5h11.6M339.1 227.7v11.6M464.7 147.6h11.6M470.5 141.8v11.6M393.6 208.4h11.6M399.4 202.6v11.6M178.6 406.3h11.6M184.4 400.5v11.6M364.9 203.5h11.6M370.7 197.7v11.6M259.3 284.0h11.6M265.1 278.2v11.6M291.3 285.1h11.6M297.1 279.3v11.6M194.1 354.5h11.6M199.9 348.7v11.6M130.5 397.6h11.6M136.3 391.8v11.6M438.3 170.0h11.6M444.1 164.2v11.6M370.2 227.3h11.6M376.0 221.5v11.6M463.3 150.8h11.6M469.1 145.0v11.6M197.8 350.6h11.6M203.6 344.8v11.6M322.0 260.9h11.6M327.8 255.1v11.6M229.5 358.1h11.6M235.3 352.3v11.6M383.0 210.3h11.6M388.8 204.5v11.6M430.3 181.8h11.6M436.1 176.0v11.6M422.1 185.4h11.6M427.9 179.6v11.6M490.5 123.7h11.6M496.3 117.9v11.6M212.2 345.4h11.6M218.0 339.6v11.6M363.6 227.4h11.6M369.4 221.6v11.6M174.5 376.6h11.6M180.3 370.8v11.6M320.3 254.9h11.6M326.1 249.1v11.6M155.0 393.6h11.6M160.8 387.8v11.6M293.9 311.8h11.6M299.7 306.0v11.6M299.6 276.5h11.6M305.4 270.7v11.6M319.5 303.6h11.6M325.3 297.8v11.6M311.9 284.0h11.6M317.7 278.2v11.6M375.4 204.5h11.6M381.2 198.7v11.6M309.5 263.0h11.6M315.3 257.2v11.6M293.8 289.6h11.6M299.6 283.8v11.6M184.2 371.0h11.6M190.0 365.2v11.6M251.3 316.0h11.6M257.1 310.2v11.6M440.9 165.5h11.6M446.7 159.7v11.6M477.8 142.9h11.6M483.6 137.1v11.6M292.2 291.4h11.6M298.0 285.6v11.6M420.0 186.7h11.6M425.8 180.9v11.6M482.1 135.7h11.6M487.9 129.9v11.6M213.8 344.0h11.6M219.6 338.2v11.6M250.1 321.5h11.6M255.9 315.7v11.6M356.2 230.2h11.6M362.0 224.4v11.6M223.0 349.5h11.6M228.8 343.7v11.6M493.2 127.6h11.6M499.0 121.8v11.6M275.5 308.8h11.6M281.3 303.0v11.6M371.8 227.0h11.6M377.6 221.2v11.6M361.0 224.1h11.6M366.8 218.3v11.6M258.2 314.2h11.6M264.0 308.4v11.6M444.5 168.2h11.6M450.3 162.4v11.6M330.6 253.4h11.6M336.4 247.6v11.6M186.6 378.9h11.6M192.4 373.1v11.6M169.6 375.2h11.6M175.4 369.4v11.6M263.8 299.4h11.6M269.6 293.6v11.6M346.9 235.5h11.6M352.7 229.7v11.6M201.4 367.4h11.6M207.2 361.6v11.6M452.8 159.5h11.6M458.6 153.7v11.6M202.7 321.7h11.6M208.5 315.9v11.6M446.4 164.6h11.6M452.2 158.8v11.6M127.2 400.7h11.6M133.0 394.9v11.6M226.6 321.6h11.6M232.4 315.8v11.6M245.7 334.2h11.6M251.5 328.4v11.6M283.4 281.3h11.6M289.2 275.5v11.6M274.6 286.6h11.6M280.4 280.8v11.6M282.7 278.3h11.6M288.5 272.5v11.6M467.1 143.2h11.6M472.9 137.4v11.6M370.5 221.0h11.6M376.3 215.2v11.6M352.1 237.1h11.6M357.9 231.3v11.6M272.8 294.5h11.6M278.6 288.7v11.6M406.3 196.5h11.6M412.1 190.7v11.6M285.8 285.3h11.6M291.6 279.5v11.6M444.2 171.3h11.6M450.0 165.5v11.6M497.5 119.6h11.6M503.3 113.8v11.6M388.5 213.1h11.6M394.3 207.3v11.6M331.7 249.8h11.6M337.5 244.0v11.6M232.8 327.5h11.6M238.6 321.7v11.6M491.0 128.8h11.6M496.8 123.0v11.6M456.8 155.5h11.6M462.6 149.7v11.6M407.7 193.6h11.6M413.5 187.8v11.6M245.9 336.4h11.6M251.7 330.6v11.6M323.9 263.4h11.6M329.7 257.6v11.6M516.0 106.6h11.6M521.8 100.8v11.6M200.0 368.2h11.6M205.8 362.4v11.6M441.9 172.8h11.6M447.7 167.0v11.6M318.4 234.9h11.6M324.2 229.1v11.6M221.8 328.4h11.6M227.6 322.6v11.6M321.3 250.5h11.6M327.1 244.7v11.6M154.5 396.8h11.6M160.3 391.0v11.6M368.8 223.2h11.6M374.6 217.4v11.6M370.9 215.3h11.6M376.7 209.5v11.6M140.7 398.0h11.6M146.5 392.2v11.6M221.8 341.2h11.6M227.6 335.4v11.6M419.5 189.8h11.6M425.3 184.0v11.6M242.7 330.7h11.6M248.5 324.9v11.6M270.6 314.7h11.6M276.4 308.9v11.6M427.1 174.1h11.6M432.9 168.3v11.6M364.6 229.9h11.6M370.4 224.1v11.6M183.3 372.9h11.6M189.1 367.1v11.6M495.6 124.8h11.6M501.4 119.0v11.6M440.6 168.5h11.6M446.4 162.7v11.6M379.2 211.6h11.6M385.0 205.8v11.6M309.6 279.2h11.6M315.4 273.4v11.6M399.0 206.8h11.6M404.8 201.0v11.6M294.8 268.5h11.6M300.6 262.7v11.6M173.3 386.6h11.6M179.1 380.8v11.6M147.8 412.4h11.6M153.6 406.6v11.6M155.7 401.5h11.6M161.5 395.7v11.6M210.5 355.1h11.6M216.3 349.3v11.6M207.8 351.5h11.6M213.6 345.7v11.6M368.2 217.6h11.6M374.0 211.8v11.6M345.9 254.6h11.6M351.7 248.8v11.6M371.7 221.0h11.6M377.5 215.2v11.6M458.9 156.1h11.6M464.7 150.3v11.6M150.2 383.9h11.6M156.0 378.1v11.6M279.5 314.2h11.6M285.3 308.4v11.6M169.8 380.7h11.6M175.6 374.9v11.6M265.8 294.8h11.6M271.6 289.0v11.6M153.5 426.7h11.6M159.3 420.9v11.6M173.5 377.8h11.6M179.3 372.0v11.6M165.4 383.8h11.6M171.2 378.0v11.6M325.4 264.2h11.6M331.2 258.4v11.6M441.2 168.8h11.6M447.0 163.0v11.6M245.8 312.4h11.6M251.6 306.6v11.6M425.6 179.0h11.6M431.4 173.2v11.6M219.3 352.6h11.6M225.1 346.8v11.6M252.4 318.2h11.6M258.2 312.4v11.6M305.3 270.9h11.6M311.1 265.1v11.6M189.2 353.4h11.6M195.0 347.6v11.6M280.2 287.6h11.6M286.0 281.8v11.6M340.1 238.3h11.6M345.9 232.5v11.6M448.6 158.1h11.6M454.4 152.3v11.6M152.6 431.4h11.6M158.4 425.6v11.6M406.8 203.7h11.6M412.6 197.9v11.6M359.2 256.3h11.6M365.0 250.5v11.6M379.8 212.6h11.6M385.6 206.8v11.6M163.5 438.2h11.6M169.3 432.4v11.6M514.6 110.8h11.6M520.4 105.0v11.6M224.8 331.1h11.6M230.6 325.3v11.6M351.9 253.6h11.6M357.7 247.8v11.6M299.7 288.3h11.6M305.5 282.5v11.6M506.1 118.6h11.6M511.9 112.8v11.6M342.5 236.7h11.6M348.3 230.9v11.6M546.1 89.7h11.6M551.9 83.9v11.6M204.9 351.1h11.6M210.7 345.3v11.6M399.4 198.3h11.6M405.2 192.5v11.6M369.0 224.0h11.6M374.8 218.2v11.6M276.9 295.7h11.6M282.7 289.9v11.6M335.0 243.2h11.6M340.8 237.4v11.6M347.0 240.6h11.6M352.8 234.8v11.6M284.7 290.9h11.6M290.5 285.1v11.6M371.9 224.0h11.6M377.7 218.2v11.6M177.6 369.2h11.6M183.4 363.4v11.6M312.1 271.3h11.6M317.9 265.5v11.6M293.2 278.9h11.6M299.0 273.1v11.6M236.9 327.9h11.6M242.7 322.1v11.6M370.5 218.2h11.6M376.3 212.4v11.6M352.7 246.2h11.6M358.5 240.4v11.6M157.0 391.4h11.6M162.8 385.6v11.6M220.9 337.7h11.6M226.7 331.9v11.6M178.8 370.4h11.6M184.6 364.6v11.6M341.4 232.9h11.6M347.2 227.1v11.6M176.3 372.9h11.6M182.1 367.1v11.6M194.6 348.1h11.6M200.4 342.3v11.6M275.4 281.8h11.6M281.2 276.0v11.6M309.2 259.9h11.6M315.0 254.1v11.6"/>
<path class="mk" d="M141.3 416.1h11.6M147.1 410.3v11.6M515.4 116.1h11.6M521.2 110.3v11.6M240.6 319.7h11.6M246.4 313.9v11.6M349.8 241.9h11.6M355.6 236.1v11.6M261.8 306.5h11.6M267.6 300.7v11.6M373.8 221.7h11.6M379.6 215.9v11.6M325.8 249.5h11.6M331.6 243.7v11.6M327.7 249.0h11.6M333.5 243.2v11.6M279.2 304.6h11.6M285.0 298.8v11.6M399.5 199.0h11.6M405.3 193.2v11.6M337.7 251.1h11.6M343.5 245.3v11.6M376.4 224.8h11.6M382.2 219.0v11.6M211.0 340.2h11.6M216.8 334.4v11.6M151.2 398.4h11.6M157.0 392.6v11.6M232.7 326.6h11.6M238.5 320.8v11.6M277.4 276.0h11.6M283.2 270.2v11.6M386.7 205.5h11.6M392.5 199.7v11.6M294.7 274.3h11.6M300.5 268.5v11.6M211.9 352.9h11.6M217.7 347.1v11.6M147.4 428.2h11.6M153.2 422.4v11.6M380.1 210.7h11.6M385.9 204.9v11.6M176.3 380.3h11.6M182.1 374.5v11.6M318.5 263.9h11.6M324.3 258.1v11.6M358.7 234.8h11.6M364.5 229.0v11.6M395.7 203.5h11.6M401.5 197.7v11.6M194.8 337.9h11.6M200.6 332.1v11.6M326.5 260.1h11.6M332.3 254.3v11.6M515.3 110.9h11.6M521.1 105.1v11.6M151.6 396.1h11.6M157.4 390.3v11.6M400.7 198.1h11.6M406.5 192.3v11.6M268.9 313.8h11.6M274.7 308.0v11.6M384.3 220.1h11.6M390.1 214.3v11.6M279.6 304.5h11.6M285.4 298.7v11.6M178.9 383.4h11.6M184.7 377.6v11.6M390.2 211.2h11.6M396.0 205.4v11.6M121.3 445.3h11.6M127.1 439.5v11.6M424.1 184.6h11.6M429.9 178.8v11.6M463.7 151.6h11.6M469.5 145.8v11.6M295.8 283.1h11.6M301.6 277.3v11.6M273.3 313.9h11.6M279.1 308.1v11.6M268.6 308.5h11.6M274.4 302.7v11.6M532.5 96.0h11.6M538.3 90.2v11.6M151.8 397.9h11.6M157.6 392.1v11.6M217.9 357.6h11.6M223.7 351.8v11.6M316.6 270.8h11.6M322.4 265.0v11.6M433.1 174.8h11.6M438.9 169.0v11.6M338.9 239.4h11.6M344.7 233.6v11.6M287.1 314.0h11.6M292.9 308.2v11.6M131.9 404.7h11.6M137.7 398.9v11.6M363.2 231.7h11.6M369.0 225.9v11.6M307.2 271.8h11.6M313.0 266.0v11.6M178.3 368.7h11.6M184.1 362.9v11.6M384.0 216.7h11.6M389.8 210.9v11.6M299.8 285.2h11.6M305.6 279.4v11.6M195.2 363.6h11.6M201.0 357.8v11.6M246.6 314.9h11.6M252.4 309.1v11.6M317.0 273.1h11.6M322.8 267.3v11.6M243.8 349.8h11.6M249.6 344.0v11.6M293.0 290.0h11.6M298.8 284.2v11.6M522.4 103.9h11.6M528.2 98.1v11.6M269.3 293.5h11.6M275.1 287.7v11.6M244.6 333.8h11.6M250.4 328.0v11.6M304.1 278.3h11.6M309.9 272.5v11.6M511.6 114.1h11.6M517.4 108.3v11.6M406.3 196.2h11.6M412.1 190.4v11.6M399.4 204.7h11.6M405.2 198.9v11.6M472.8 144.8h11.6M478.6 139.0v11.6M413.8 188.7h11.6M419.6 182.9v11.6M368.0 225.3h11.6M373.8 219.5v11.6M302.4 277.1h11.6M308.2 271.3v11.6M205.5 364.5h11.6M211.3 358.7v11.6M352.1 241.3h11.6M357.9 235.5v11.6M395.7 206.7h11.6M401.5 200.9v11.6M489.6 125.8h11.6M495.4 120.0v11.6M293.5 263.4h11.6M299.3 257.6v11.6M477.5 138.5h11.6M483.3 132.7v11.6M232.7 307.3h11.6M238.5 301.5v11.6M511.6 114.5h11.6M517.4 108.7v11.6M550.3 84.1h11.6M556.1 78.3v11.6M157.6 406.2h11.6M163.4 400.4v11.6M288.3 285.5h11.6M294.1 279.7v11.6M547.9 86.6h11.6M553.7 80.8v11.6M527.4 100.6h11.6M533.2 94.8v11.6M385.6 210.0h11.6M391.4 204.2v11.6M157.0 395.3h11.6M162.8 389.5v11.6M119.8 433.9h11.6M125.6 428.1v11.6M216.0 346.5h11.6M221.8 340.7v11.6M501.7 121.2h11.6M507.5 115.4v11.6M420.4 184.5h11.6M426.2 178.7v11.6M317.5 260.6h11.6M323.3 254.8v11.6M419.4 186.7h11.6M425.2 180.9v11.6M478.2 140.1h11.6M484.0 134.3v11.6M235.0 314.6h11.6M240.8 308.8v11.6M515.0 106.2h11.6M520.8 100.4v11.6M207.4 353.7h11.6M213.2 347.9v11.6M285.8 297.7h11.6M291.6 291.9v11.6M158.9 404.3h11.6M164.7 398.5v11.6M195.2 358.7h11.6M201.0 352.9v11.6M379.5 213.0h11.6M385.3 207.2v11.6M119.3 396.0h11.6M125.1 390.2v11.6M374.6 221.5h11.6M380.4 215.7v11.6M236.7 327.9h11.6M242.5 322.1v11.6M438.4 172.4h11.6M444.2 166.6v11.6M148.8 401.2h11.6M154.6 395.4v11.6M195.8 365.8h11.6M201.6 360.0v11.6M228.9 356.7h11.6M234.7 350.9v11.6M366.2 222.0h11.6M372.0 216.2v11.6M402.7 197.7h11.6M408.5 191.9v11.6M402.3 194.1h11.6M408.1 188.3v11.6M455.3 159.7h11.6M461.1 153.9v11.6M354.6 234.6h11.6M360.4 228.8v11.6M312.4 260.3h11.6M318.2 254.5v11.6M276.4 327.0h11.6M282.2 321.2v11.6M211.6 362.1h11.6M217.4 356.3v11.6M464.0 148.5h11.6M469.8 142.7v11.6M276.3 296.7h11.6M282.1 290.9v11.6M360.5 250.3h11.6M366.3 244.5v11.6M169.9 389.9h11.6M175.7 384.1v11.6M312.1 283.4h11.6M317.9 277.6v11.6M161.7 393.7h11.6M167.5 387.9v11.6M307.7 261.4h11.6M313.5 255.6v11.6M347.6 244.8h11.6M353.4 239.0v11.6M310.0 243.4h11.6M315.8 237.6v11.6M333.5 254.0h11.6M339.3 248.2v11.6M155.5 401.2h11.6M161.3 395.4v11.6M266.9 291.6h11.6M272.7 285.8v11.6M269.7 288.8h11.6M275.5 283.0v11.6M314.6 257.5h11.6M320.4 251.7v11.6M225.4 319.5h11.6M231.2 313.7v11.6M386.5 202.6h11.6M392.3 196.8v11.6M527.5 97.8h11.6M533.3 92.0v11.6M414.5 198.2h11.6M420.3 192.4v11.6M140.1 414.1h11.6M145.9 408.3v11.6M330.1 249.4h11.6M335.9 243.6v11.6M284.1 289.5h11.6M289.9 283.7v11.6M337.5 244.8h11.6M343.3 239.0v11.6M168.2 388.2h11.6M174.0 382.4v11.6M369.8 218.7h11.6M375.6 212.9v11.6M310.4 255.8h11.6M316.2 250.0v11.6M504.1 117.5h11.6M509.9 111.7v11.6M126.6 406.6h11.6M132.4 400.8v11.6M273.9 294.9h11.6M279.7 289.1v11.6M286.2 281.9h11.6M292.0 276.1v11.6M434.2 173.0h11.6M440.0 167.2v11.6M414.5 190.7h11.6M420.3 184.9v11.6M213.9 344.9h11.6M219.7 339.1v11.6M254.6 313.7h11.6M260.4 307.9v11.6M361.5 238.1h11.6M367.3 232.3v11.6M271.3 299.1h11.6M277.1 293.3v11.6M239.4 326.3h11.6M245.2 320.5v11.6M491.6 127.7h11.6M497.4 121.9v11.6M437.3 172.7h11.6M443.1 166.9v11.6M289.9 282.6h11.6M295.7 276.8v11.6M340.1 243.3h11.6M345.9 237.5v11.6M513.7 114.2h11.6M519.5 108.4v11.6M232.7 328.9h11.6M238.5 323.1v11.6M528.3 98.2h11.6M534.1 92.4v11.6M471.3 141.0h11.6M477.1 135.2v11.6M372.2 226.3h11.6M378.0 220.5v11.6M361.7 235.5h11.6M367.5 229.7v11.6M362.3 229.7h11.6M368.1 223.9v11.6M312.8 275.9h11.6M318.6 270.1v11.6M348.9 226.1h11.6M354.7 220.3v11.6M220.9 358.3h11.6M226.7 352.5v11.6M341.4 255.3h11.6M347.2 249.5v11.6M371.5 219.7h11.6M377.3 213.9v11.6M293.0 287.8h11.6M298.8 282.0v11.6M335.0 279.3h11.6M340.8 273.5v11.6M278.6 296.8h11.6M284.4 291.0v11.6M429.0 182.9h11.6M434.8 177.1v11.6M369.0 229.7h11.6M374.8 223.9v11.6M151.1 414.2h11.6M156.9 408.4v11.6M444.6 170.1h11.6M450.4 164.3v11.6M249.9 320.1h11.6M255.7 314.3v11.6M162.2 389.2h11.6M168.0 383.4v11.6M149.9 424.9h11.6M155.7 419.1v11.6M272.8 306.6h11.6M278.6 300.8v11.6M315.7 272.7h11.6M321.5 266.9v11.6M299.6 278.3h11.6M305.4 272.5v11.6M202.6 358.1h11.6M208.4 352.3v11.6M413.2 194.5h11.6M419.0 188.7v11.6M320.5 255.0h11.6M326.3 249.2v11.6M510.3 115.9h11.6M516.1 110.1v11.6M241.5 322.2h11.6M247.3 316.4v11.6M341.8 257.2h11.6M347.6 251.4v11.6M331.5 252.5h11.6M337.3 246.7v11.6M419.2 186.0h11.6M425.0 180.2v11.6M356.7 234.4h11.6M362.5 228.6v11.6M348.4 238.4h11.6M354.2 232.6v11.6M190.5 362.1h11.6M196.3 356.3v11.6M445.4 164.7h11.6M451.2 158.9v11.6M301.1 277.1h11.6M306.9 271.3v11.6M430.3 183.6h11.6M436.1 177.8v11.6M451.4 160.6h11.6M457.2 154.8v11.6M168.6 432.6h11.6M174.4 426.8v11.6M131.3 437.1h11.6M137.1 431.3v11.6M412.1 192.2h11.6M417.9 186.4v11.6M518.7 108.3h11.6M524.5 102.5v11.6M474.9 138.2h11.6M480.7 132.4v11.6M325.7 254.6h11.6M331.5 248.8v11.6"/>
<path class="mk" d="M465.2 146.7h11.6M471.0 140.9v11.6M133.1 414.9h11.6M138.9 409.1v11.6M154.4 390.2h11.6M160.2 384.4v11.6M347.2 235.4h11.6M353.0 229.6v11.6M272.4 296.7h11.6M278.2 290.9v11.6M450.2 159.7h11.6M456.0 153.9v11.6M218.3 345.3h11.6M224.1 339.5v11.6M330.9 260.9h11.6M336.7 255.1v11.6M538.8 94.0h11.6M544.6 88.2v11.6M216.1 359.8h11.6M221.9 354.0v11.6M309.6 268.5h11.6M315.4 262.7v11.6M393.1 207.1h11.6M398.9 201.3v11.6M544.1 89.3h11.6M549.9 83.5v11.6M201.7 353.9h11.6M207.5 348.1v11.6M344.0 251.3h11.6M349.8 245.5v11.6M312.3 261.9h11.6M318.1 256.1v11.6M315.8 253.2h11.6M321.6 247.4v11.6M261.9 303.5h11.6M267.7 297.7v11.6M302.5 282.2h11.6M308.3 276.4v11.6M386.4 217.2h11.6M392.2 211.4v11.6M309.5 244.4h11.6M315.3 238.6v11.6M300.8 274.9h11.6M306.6 269.1v11.6M388.2 214.4h11.6M394.0 208.6v11.6M415.7 184.7h11.6M421.5 178.9v11.6M342.7 255.3h11.6M348.5 249.5v11.6M284.2 298.7h11.6M290.0 292.9v11.6M493.3 128.1h11.6M499.1 122.3v11.6M259.1 318.7h11.6M264.9 312.9v11.6M185.1 397.1h11.6M190.9 391.3v11.6M514.1 105.4h11.6M519.9 99.6v11.6M255.1 322.7h11.6M260.9 316.9v11.6M219.8 339.1h11.6M225.6 333.3v11.6M331.1 254.3h11.6M336.9 248.5v11.6M325.7 269.6h11.6M331.5 263.8v11.6M275.5 307.7h11.6M281.3 301.9v11.6M427.8 178.2h11.6M433.6 172.4v11.6M214.6 332.7h11.6M220.4 326.9v11.6M155.8 397.1h11.6M161.6 391.3v11.6M258.3 307.6h11.6M264.1 301.8v11.6M493.7 128.1h11.6M499.5 122.3v11.6M323.0 253.4h11.6M328.8 247.6v11.6M304.1 294.0h11.6M309.9 288.2v11.6M405.7 194.0h11.6M411.5 188.2v11.6M496.2 128.0h11.6M502.0 122.2v11.6M316.8 269.7h11.6M322.6 263.9v11.6M423.7 190.8h11.6M429.5 185.0v11.6M213.5 358.2h11.6M219.3 352.4v11.6M269.1 298.2h11.6M274.9 292.4v11.6M365.0 205.2h11.6M370.8 199.4v11.6M258.6 317.9h11.6M264.4 312.1v11.6M194.4 369.6h11.6M200.2 363.8v11.6M254.8 310.5h11.6M260.6 304.7v11.6M234.8 327.9h11.6M240.6 322.1v11.6M421.0 185.9h11.6M426.8 180.1v11.6M464.0 151.3h11.6M469.8 145.5v11.6M189.8 377.8h11.6M195.6 372.0v11.6M330.2 251.1h11.6M336.0 245.3v11.6M364.2 224.6h11.6M370.0 218.8v11.6M430.3 171.5h11.6M436.1 165.7v11.6M378.3 213.6h11.6M384.1 207.8v11.6M393.9 202.8h11.6M399.7 197.0v11.6M217.5 343.0h11.6M223.3 337.2v11.6M424.6 176.3h11.6M430.4 170.5v11.6M429.9 180.0h11.6M435.7 174.2v11.6M264.1 274.1h11.6M269.9 268.3v11.6M251.5 314.9h11.6M257.3 309.1v11.6M131.2 386.9h11.6M137.0 381.1v11.6M364.5 232.2h11.6M370.3 226.4v11.6M376.0 210.1h11.6M381.8 204.3v11.6M141.3 400.3h11.6M147.1 394.5v11.6M311.7 272.2h11.6M317.5 266.4v11.6M490.4 132.8h11.6M496.2 127.0v11.6M126.4 425.7h11.6M132.2 419.9v11.6M216.3 327.8h11.6M222.1 322.0v11.6M171.5 368.1h11.6M177.3 362.3v11.6M319.0 262.4h11.6M324.8 256.6v11.6M263.2 306.3h11.6M269.0 300.5v11.6M443.6 170.0h11.6M449.4 164.2v11.6M185.9 410.0h11.6M191.7 404.2v11.6M232.2 349.6h11.6M238.0 343.8v11.6M493.1 130.3h11.6M498.9 124.5v11.6M131.6 413.8h11.6M137.4 408.0v11.6M228.9 346.4h11.6M234.7 340.6v11.6M306.2 268.0h11.6M312.0 262.2v11.6M120.1 414.1h11.6M125.9 408.3v11.6M248.2 318.5h11.6M254.0 312.7v11.6M370.4 231.9h11.6M376.2 226.1v11.6M351.4 240.9h11.6M357.2 235.1v11.6M395.7 204.1h11.6M401.5 198.3v11.6M359.8 238.5h11.6M365.6 232.7v11.6M385.9 220.3h11.6M391.7 214.5v11.6M126.5 395.4h11.6M132.3 389.6v11.6M370.2 220.9h11.6M376.0 215.1v11.6M345.3 245.6h11.6M351.1 239.8v11.6M212.1 332.8h11.6M217.9 327.0v11.6M285.5 281.3h11.6M291.3 275.5v11.6M203.1 351.4h11.6M208.9 345.6v11.6M454.4 157.3h11.6M460.2 151.5v11.6M224.5 331.4h11.6M230.3 325.6v11.6M217.3 330.3h11.6M223.1 324.5v11.6M442.2 167.3h11.6M448.0 161.5v11.6M417.5 187.5h11.6M423.3 181.7v11.6M432.0 173.8h11.6M437.8 168.0v11.6M371.5 249.0h11.6M377.3 243.2v11.6M305.4 273.8h11.6M311.2 268.0v11.6M292.0 291.3h11.6M297.8 285.5v11.6M383.7 213.3h11.6M389.5 207.5v11.6M392.3 207.9h11.6M398.1 202.1v11.6M526.8 99.9h11.6M532.6 94.1v11.6M232.1 333.1h11.6M237.9 327.3v11.6M468.6 146.6h11.6M474.4 140.8v11.6M145.1 403.1h11.6M150.9 397.3v11.6M238.7 321.7h11.6M244.5 315.9v11.6M478.8 140.1h11.6M484.6 134.3v11.6M237.7 319.2h11.6M243.5 313.4v11.6M299.5 303.3h11.6M305.3 297.5v11.6M511.7 112.2h11.6M517.5 106.4v11.6M350.9 233.9h11.6M356.7 228.1v11.6M331.6 262.3h11.6M337.4 256.5v11.6M356.2 237.1h11.6M362.0 231.3v11.6M437.4 63.2h11.6M443.2 57.4v11.6M427.9 89.5h11.6M433.7 83.7v11.6M343.7 122.1h11.6M349.5 116.3v11.6M371.5 122.1h11.6M377.3 116.3v11.6M408.9 123.2h11.6M414.7 117.4v11.6M448.9 121.7h11.6M454.7 115.9v11.6M449.7 122.5h11.6M455.5 116.7v11.6M319.5 137.9h11.6M325.3 132.1v11.6M321.1 153.7h11.6M326.9 147.9v11.6M323.7 162.5h11.6M329.5 156.7v11.6M401.1 151.6h11.6M406.9 145.8v11.6M426.4 150.9h11.6M432.2 145.1v11.6M376.9 176.4h11.6M382.7 170.6v11.6M402.6 172.6h11.6M408.4 166.8v11.6M361.1 186.3h11.6M366.9 180.5v11.6M352.7 200.0h11.6M358.5 194.2v11.6M316.3 204.8h11.6M322.1 199.0v11.6M328.9 200.0h11.6M334.7 194.2v11.6M334.2 209.5h11.6M340.0 203.7v11.6M302.2 220.0h11.6M308.0 214.2v11.6M325.8 225.3h11.6M331.6 219.5v11.6M300.9 232.2h11.6M306.7 226.4v11.6M413.1 216.8h11.6M418.9 211.0v11.6M482.2 166.3h11.6M488.0 160.5v11.6M473.1 162.1h11.6M478.9 156.3v11.6M496.3 92.6h11.6M502.1 86.8v11.6M519.9 80.6h11.6M525.7 74.8v11.6M540.9 73.1h11.6M546.7 67.3v11.6M564.1 65.3h11.6M569.9 59.5v11.6M568.9 72.6h11.6M574.7 66.8v11.6M564.1 81.1h11.6M569.9 75.3v11.6M567.9 99.6h11.6M573.7 93.8v11.6M486.8 110.5h11.6M492.6 104.7v11.6M356.7 270.5h11.6M362.5 264.7v11.6M325.8 287.4h11.6M331.6 281.6v11.6M349.4 294.7h11.6M355.2 288.9v11.6M364.7 294.7h11.6M370.5 288.9v11.6M222.0 260.4h11.6M227.8 254.6v11.6M219.0 274.7h11.6M224.8 268.9v11.6M231.7 272.0h11.6M237.5 266.2v11.6M180.5 290.5h11.6M186.3 284.7v11.6M232.7 289.5h11.6M238.5 283.7v11.6M230.2 289.5h11.6M236.0 283.7v11.6M235.2 289.5h11.6M241.0 283.7v11.6M276.3 260.0h11.6M282.1 254.2v11.6M260.5 267.4h11.6M266.3 261.6v11.6M277.4 242.5h11.6M283.2 236.7v11.6M290.0 242.5h11.6M295.8 236.7v11.6M151.0 319.6h11.6M156.8 313.8v11.6M152.1 330.9h11.6M157.9 325.1v11.6M157.8 335.8h11.6M163.6 330.0v11.6M104.1 336.2h11.6M109.9 330.4v11.6M115.9 353.7h11.6M121.7 347.9v11.6M137.4 367.4h11.6M143.2 361.6v11.6M146.8 369.5h11.6M152.6 363.7v11.6M96.3 403.2h11.6M102.1 397.4v11.6M96.3 407.0h11.6M102.1 401.2v11.6M68.9 421.1h11.6M74.7 415.3v11.6M78.8 422.7h11.6M84.6 416.9v11.6M88.9 425.7h11.6M94.7 419.9v11.6M78.4 441.7h11.6M84.2 435.9v11.6M94.2 453.7h11.6M100.0 447.9v11.6M87.9 462.1h11.6M93.7 456.3v11.6M88.4 465.0h11.6M94.2 459.2v11.6M113.1 462.1h11.6M118.9 456.3v11.6M104.1 443.2h11.6M109.9 437.4v11.6M114.2 437.9h11.6M120.0 432.1v11.6M122.6 443.2h11.6M128.4 437.4v11.6M132.1 443.2h11.6M137.9 437.4v11.6M150.0 442.1h11.6M155.8 436.3v11.6M155.2 447.4h11.6M161.0 441.6v11.6M162.6 443.8h11.6M168.4 438.0v11.6M155.2 431.6h11.6M161.0 425.8v11.6M171.0 430.5h11.6M176.8 424.7v11.6M195.2 432.0h11.6M201.0 426.2v11.6M195.7 435.0h11.6M201.5 429.2v11.6M180.5 418.9h11.6M186.3 413.1v11.6M164.7 418.9h11.6M170.5 413.1v11.6M204.7 409.0h11.6M210.5 403.2v11.6M216.3 399.4h11.6M222.1 393.6v11.6"/>
<path class="mk" d="M219.5 399.0h11.6M225.3 393.2v11.6M235.7 396.2h11.6M241.5 390.4v11.6M229.6 383.2h11.6M235.4 377.4v11.6M259.5 367.4h11.6M265.3 361.6v11.6M264.7 354.7h11.6M270.5 348.9v11.6M296.3 325.3h11.6M302.1 319.5v11.6M315.2 327.4h11.6M321.0 321.6v11.6M310.0 317.9h11.6M315.8 312.1v11.6M339.5 339.0h11.6M345.3 333.2v11.6M337.4 350.5h11.6M343.2 344.7v11.6M350.0 295.8h11.6M355.8 290.0v11.6M334.2 301.0h11.6M340.0 295.2v11.6M325.8 301.0h11.6M331.6 295.2v11.6M323.7 299.0h11.6M329.5 293.2v11.6M310.0 303.2h11.6M315.8 297.4v11.6M315.2 304.2h11.6M321.0 298.4v11.6M311.0 315.8h11.6M316.8 310.0v11.6M307.9 320.0h11.6M313.7 314.2v11.6M296.3 326.3h11.6M302.1 320.5v11.6M374.2 342.1h11.6M380.0 336.3v11.6M233.7 230.5h11.6M239.5 224.7v11.6"/>
<path class="ax" d="M71.6 9.8V462.0H650.5M71.6 462.0v-4.6M71.6 462.0h4.6M187.4 462.0v-4.6M71.6 371.4h4.6M303.2 462.0v-4.6M71.6 280.8h4.6M418.9 462.0v-4.6M71.6 190.2h4.6M534.7 462.0v-4.6M71.6 99.6h4.6M650.5 462.0v-4.6M71.6 9.8h4.6"/>
<line class="ln" x1="71.6" y1="462.0" x2="650.5" y2="9.0"/>
<text class="t tk" text-anchor="middle" x="71.6" y="492.2">0</text>
<text class="t tk" text-anchor="end" x="61.4" y="471.2">0</text>
<text class="t tk" text-anchor="middle" x="187.4" y="492.2">0.2</text>
<text class="t tk" text-anchor="end" x="61.4" y="380.6">0.2</text>
<text class="t tk" text-anchor="middle" x="303.2" y="492.2">0.4</text>
<text class="t tk" text-anchor="end" x="61.4" y="290.0">0.4</text>
<text class="t tk" text-anchor="middle" x="418.9" y="492.2">0.6</text>
<text class="t tk" text-anchor="end" x="61.4" y="199.4">0.6</text>
<text class="t tk" text-anchor="middle" x="534.7" y="492.2">0.8</text>
<text class="t tk" text-anchor="end" x="61.4" y="108.8">0.8</text>
<text class="t tk" text-anchor="middle" x="650.5" y="492.2">1</text>
<text class="t tk" text-anchor="end" x="61.4" y="18.2">1</text>
<text class="t lb" text-anchor="middle" textLength="165" lengthAdjust="spacingAndGlyphs" x="360.6" y="523.3">Predicted Value</text>
<text class="t lb" text-anchor="middle" textLength="116" lengthAdjust="spacingAndGlyphs" style="font-size:24.5px" transform="translate(21.3 236.5) rotate(-90)">True Value</text>
<text class="r" textLength="129.5" lengthAdjust="spacingAndGlyphs" x="127.2" y="247.9">r=0.97387</text>
<text class="cap" text-anchor="middle" textLength="42.5" lengthAdjust="spacingAndGlyphs" x="340.3" y="589.9">(a)</text>
</g>
<g id="plot-b">
<path class="mk" d="M1149.6 214.6h11.6M1155.4 208.8v11.6M1158.7 208.5h11.6M1164.5 202.7v11.6M966.0 348.6h11.6M971.8 342.8v11.6M915.4 440.8h11.6M921.2 435.0v11.6M1125.8 225.0h11.6M1131.6 219.2v11.6M1204.0 171.1h11.6M1209.8 165.3v11.6M941.8 386.9h11.6M947.6 381.1v11.6M942.6 381.8h11.6M948.4 376.0v11.6M1133.5 223.8h11.6M1139.3 218.0v11.6M1053.7 287.4h11.6M1059.5 281.6v11.6M1027.7 315.6h11.6M1033.5 309.8v11.6M1018.5 308.1h11.6M1024.3 302.3v11.6M896.5 422.5h11.6M902.3 416.7v11.6M1001.5 343.8h11.6M1007.3 338.0v11.6M984.5 334.2h11.6M990.3 328.4v11.6M999.8 338.3h11.6M1005.6 332.5v11.6M1067.9 279.3h11.6M1073.7 273.5v11.6M1133.9 221.9h11.6M1139.7 216.1v11.6M1157.7 201.9h11.6M1163.5 196.1v11.6M1123.2 230.0h11.6M1129.0 224.2v11.6M890.9 408.1h11.6M896.7 402.3v11.6M1149.4 211.7h11.6M1155.2 205.9v11.6M1050.4 288.4h11.6M1056.2 282.6v11.6M1194.0 175.9h11.6M1199.8 170.1v11.6M1261.2 124.6h11.6M1267.0 118.8v11.6M879.7 411.6h11.6M885.5 405.8v11.6M1210.2 164.3h11.6M1216.0 158.5v11.6M930.1 376.9h11.6M935.9 371.1v11.6M1114.2 238.3h11.6M1120.0 232.5v11.6M1206.5 163.0h11.6M1212.3 157.2v11.6M1195.8 184.9h11.6M1201.6 179.1v11.6M1250.2 128.0h11.6M1256.0 122.2v11.6M1125.5 233.2h11.6M1131.3 227.4v11.6M1209.1 166.2h11.6M1214.9 160.4v11.6M1084.9 264.2h11.6M1090.7 258.4v11.6M935.4 363.9h11.6M941.2 358.1v11.6M950.8 380.0h11.6M956.6 374.2v11.6M1100.0 251.5h11.6M1105.8 245.7v11.6M1160.6 203.5h11.6M1166.4 197.7v11.6M1033.8 288.6h11.6M1039.6 282.8v11.6M1109.8 233.2h11.6M1115.6 227.4v11.6M930.7 391.5h11.6M936.5 385.7v11.6M1252.2 132.5h11.6M1258.0 126.7v11.6M1098.0 251.3h11.6M1103.8 245.5v11.6M1200.9 174.4h11.6M1206.7 168.6v11.6M1103.1 238.0h11.6M1108.9 232.2v11.6M1184.0 183.8h11.6M1189.8 178.0v11.6M975.3 378.0h11.6M981.1 372.2v11.6M918.1 397.2h11.6M923.9 391.4v11.6M998.4 330.7h11.6M1004.2 324.9v11.6M1004.3 334.7h11.6M1010.1 328.9v11.6M983.7 340.2h11.6M989.5 334.4v11.6M1289.4 101.1h11.6M1295.2 95.3v11.6M1003.4 328.1h11.6M1009.2 322.3v11.6M1197.8 176.2h11.6M1203.6 170.4v11.6M944.2 372.3h11.6M950.0 366.5v11.6M1047.6 300.9h11.6M1053.4 295.1v11.6M990.1 325.3h11.6M995.9 319.5v11.6M941.6 403.0h11.6M947.4 397.2v11.6M1014.5 316.7h11.6M1020.3 310.9v11.6M1248.3 135.3h11.6M1254.1 129.5v11.6M1067.7 271.3h11.6M1073.5 265.5v11.6M1088.9 261.4h11.6M1094.7 255.6v11.6M1209.7 163.7h11.6M1215.5 157.9v11.6M1069.9 289.6h11.6M1075.7 283.8v11.6M915.2 383.5h11.6M921.0 377.7v11.6M966.0 351.8h11.6M971.8 346.0v11.6M1125.0 224.7h11.6M1130.8 218.9v11.6M1072.3 277.3h11.6M1078.1 271.5v11.6M962.7 359.2h11.6M968.5 353.4v11.6M1230.8 149.6h11.6M1236.6 143.8v11.6M988.0 338.9h11.6M993.8 333.1v11.6M1181.6 189.9h11.6M1187.4 184.1v11.6M983.0 343.2h11.6M988.8 337.4v11.6M1120.1 243.8h11.6M1125.9 238.0v11.6M1044.4 282.8h11.6M1050.2 277.0v11.6M907.8 429.2h11.6M913.6 423.4v11.6M1157.3 202.8h11.6M1163.1 197.0v11.6M974.6 338.8h11.6M980.4 333.0v11.6M1014.5 313.2h11.6M1020.3 307.4v11.6M1150.0 214.8h11.6M1155.8 209.0v11.6M1285.2 105.4h11.6M1291.0 99.6v11.6M1011.9 315.0h11.6M1017.7 309.2v11.6M1102.4 245.3h11.6M1108.2 239.5v11.6M1091.5 255.3h11.6M1097.3 249.5v11.6M1137.5 220.6h11.6M1143.3 214.8v11.6M955.1 374.4h11.6M960.9 368.6v11.6M1282.3 109.1h11.6M1288.1 103.3v11.6M970.6 353.6h11.6M976.4 347.8v11.6M1109.9 242.7h11.6M1115.7 236.9v11.6M904.1 407.5h11.6M909.9 401.7v11.6M909.0 404.1h11.6M914.8 398.3v11.6M1213.0 161.6h11.6M1218.8 155.8v11.6M1118.5 238.4h11.6M1124.3 232.6v11.6M899.8 399.5h11.6M905.6 393.7v11.6M991.2 335.7h11.6M997.0 329.9v11.6M915.9 384.8h11.6M921.7 379.0v11.6M1262.5 126.1h11.6M1268.3 120.3v11.6M1188.8 183.7h11.6M1194.6 177.9v11.6M1196.2 176.9h11.6M1202.0 171.1v11.6M1117.1 237.2h11.6M1122.9 231.4v11.6M1157.6 205.3h11.6M1163.4 199.5v11.6M925.3 379.4h11.6M931.1 373.6v11.6M913.9 439.5h11.6M919.7 433.7v11.6M1019.0 312.6h11.6M1024.8 306.8v11.6M1052.9 296.0h11.6M1058.7 290.2v11.6M1195.3 178.8h11.6M1201.1 173.0v11.6M1040.3 298.4h11.6M1046.1 292.6v11.6M927.7 386.0h11.6M933.5 380.2v11.6M1143.3 212.1h11.6M1149.1 206.3v11.6M1245.4 137.7h11.6M1251.2 131.9v11.6M1058.1 271.6h11.6M1063.9 265.8v11.6M1050.6 283.4h11.6M1056.4 277.6v11.6M998.7 331.5h11.6M1004.5 325.7v11.6M1160.2 198.5h11.6M1166.0 192.7v11.6M944.8 385.3h11.6M950.6 379.5v11.6M1129.7 223.2h11.6M1135.5 217.4v11.6M962.5 343.7h11.6M968.3 337.9v11.6M1105.3 243.3h11.6M1111.1 237.5v11.6M1080.8 266.0h11.6M1086.6 260.2v11.6M1204.8 170.9h11.6M1210.6 165.1v11.6M1052.8 288.9h11.6M1058.6 283.1v11.6M1229.2 151.4h11.6M1235.0 145.6v11.6M983.0 329.3h11.6M988.8 323.5v11.6M871.1 419.5h11.6M876.9 413.7v11.6M1236.5 143.5h11.6M1242.3 137.7v11.6M1192.8 176.5h11.6M1198.6 170.7v11.6M1183.8 178.9h11.6M1189.6 173.1v11.6M1186.9 182.8h11.6M1192.7 177.0v11.6M944.2 375.9h11.6M950.0 370.1v11.6M1209.0 160.7h11.6M1214.8 154.9v11.6M924.9 381.6h11.6M930.7 375.8v11.6M977.6 354.3h11.6M983.4 348.5v11.6M939.3 371.5h11.6M945.1 365.7v11.6M1064.3 278.2h11.6M1070.1 272.4v11.6M954.8 366.6h11.6M960.6 360.8v11.6M943.8 384.0h11.6M949.6 378.2v11.6M1091.5 258.7h11.6M1097.3 252.9v11.6M931.8 384.3h11.6M937.6 378.5v11.6M1083.8 259.2h11.6M1089.6 253.4v11.6M1130.7 229.1h11.6M1136.5 223.3v11.6M877.3 420.9h11.6M883.1 415.1v11.6M1254.2 135.5h11.6M1260.0 129.7v11.6M1151.5 210.3h11.6M1157.3 204.5v11.6M1139.8 215.6h11.6M1145.6 209.8v11.6M1155.9 205.8h11.6M1161.7 200.0v11.6M1248.2 135.6h11.6M1254.0 129.8v11.6M964.2 345.3h11.6M970.0 339.5v11.6M906.4 396.2h11.6M912.2 390.4v11.6M1122.8 231.0h11.6M1128.6 225.2v11.6M883.2 414.9h11.6M889.0 409.1v11.6M1149.9 216.2h11.6M1155.7 210.4v11.6M1116.2 238.2h11.6M1122.0 232.4v11.6M1269.1 113.9h11.6M1274.9 108.1v11.6M922.4 383.0h11.6M928.2 377.2v11.6M1014.1 306.8h11.6M1019.9 301.0v11.6M1169.6 198.9h11.6M1175.4 193.1v11.6M1023.3 312.5h11.6M1029.1 306.7v11.6M993.5 323.6h11.6M999.3 317.8v11.6M960.6 352.5h11.6M966.4 346.7v11.6M884.0 437.6h11.6M889.8 431.8v11.6M1046.7 291.7h11.6M1052.5 285.9v11.6M898.0 417.3h11.6M903.8 411.5v11.6M1091.2 259.4h11.6M1097.0 253.6v11.6M1133.6 222.4h11.6M1139.4 216.6v11.6M1010.3 326.6h11.6M1016.1 320.8v11.6M1088.6 256.6h11.6M1094.4 250.8v11.6M1230.2 147.3h11.6M1236.0 141.5v11.6M957.0 368.5h11.6M962.8 362.7v11.6M1130.9 226.3h11.6M1136.7 220.5v11.6M1154.9 215.1h11.6M1160.7 209.3v11.6M1051.0 287.1h11.6M1056.8 281.3v11.6M1024.1 314.1h11.6M1029.9 308.3v11.6M956.7 378.8h11.6M962.5 373.0v11.6M1030.2 316.6h11.6M1036.0 310.8v11.6M1084.4 263.8h11.6M1090.2 258.0v11.6M1247.1 130.5h11.6M1252.9 124.7v11.6M992.2 335.3h11.6M998.0 329.5v11.6M1172.7 197.6h11.6M1178.5 191.8v11.6M1216.5 161.0h11.6M1222.3 155.2v11.6M986.5 376.5h11.6M992.3 370.7v11.6M1083.7 266.5h11.6M1089.5 260.7v11.6M903.3 414.5h11.6M909.1 408.7v11.6M1266.2 121.2h11.6M1272.0 115.4v11.6M1065.5 272.7h11.6M1071.3 266.9v11.6M956.3 376.2h11.6M962.1 370.4v11.6M1198.8 168.0h11.6M1204.6 162.2v11.6M1173.0 194.1h11.6M1178.8 188.3v11.6M1144.8 214.2h11.6M1150.6 208.4v11.6M1227.8 151.8h11.6M1233.6 146.0v11.6M1023.9 317.8h11.6M1029.7 312.0v11.6M1048.7 295.3h11.6M1054.5 289.5v11.6M983.4 347.0h11.6M989.2 341.2v11.6M1125.0 225.9h11.6M1130.8 220.1v11.6M1033.6 308.2h11.6M1039.4 302.4v11.6M1126.3 235.2h11.6M1132.1 229.4v11.6M1073.9 270.1h11.6M1079.7 264.3v11.6M1031.2 303.5h11.6M1037.0 297.7v11.6M1120.4 238.6h11.6M1126.2 232.8v11.6M1018.8 312.6h11.6M1024.6 306.8v11.6"/>
<path class="mk" d="M1031.4 305.2h11.6M1037.2 299.4v11.6M1284.4 110.4h11.6M1290.2 104.6v11.6M980.8 338.5h11.6M986.6 332.7v11.6M1023.1 320.3h11.6M1028.9 314.5v11.6M1271.6 119.3h11.6M1277.4 113.5v11.6M1245.4 135.7h11.6M1251.2 129.9v11.6M1246.1 141.1h11.6M1251.9 135.3v11.6M921.6 444.4h11.6M927.4 438.6v11.6M1213.0 165.0h11.6M1218.8 159.2v11.6M939.6 377.0h11.6M945.4 371.2v11.6M1150.3 211.3h11.6M1156.1 205.5v11.6M1177.1 191.9h11.6M1182.9 186.1v11.6M1141.6 222.5h11.6M1147.4 216.7v11.6M925.5 379.5h11.6M931.3 373.7v11.6M1077.6 264.3h11.6M1083.4 258.5v11.6M945.0 372.4h11.6M950.8 366.6v11.6M1215.2 159.5h11.6M1221.0 153.7v11.6M967.2 370.3h11.6M973.0 364.5v11.6M974.0 345.5h11.6M979.8 339.7v11.6M989.5 322.0h11.6M995.3 316.2v11.6M1059.7 278.5h11.6M1065.5 272.7v11.6M1223.0 152.2h11.6M1228.8 146.4v11.6M969.7 352.1h11.6M975.5 346.3v11.6M1198.3 173.4h11.6M1204.1 167.6v11.6M1020.4 327.1h11.6M1026.2 321.3v11.6M1290.7 103.5h11.6M1296.5 97.7v11.6M1111.9 239.6h11.6M1117.7 233.8v11.6M932.0 391.9h11.6M937.8 386.1v11.6M1065.4 285.2h11.6M1071.2 279.4v11.6M1104.5 249.5h11.6M1110.3 243.7v11.6M1173.3 196.8h11.6M1179.1 191.0v11.6M1054.4 275.2h11.6M1060.2 269.4v11.6M974.0 353.3h11.6M979.8 347.5v11.6M1124.6 231.6h11.6M1130.4 225.8v11.6M923.3 378.4h11.6M929.1 372.6v11.6M1150.7 214.2h11.6M1156.5 208.4v11.6M1002.4 325.7h11.6M1008.2 319.9v11.6M1139.4 214.4h11.6M1145.2 208.6v11.6M917.8 402.3h11.6M923.6 396.5v11.6M930.9 387.8h11.6M936.7 382.0v11.6M1018.5 303.9h11.6M1024.3 298.1v11.6M1014.8 307.9h11.6M1020.6 302.1v11.6M1269.1 120.3h11.6M1274.9 114.5v11.6M1207.7 168.3h11.6M1213.5 162.5v11.6M918.8 408.8h11.6M924.6 403.0v11.6M1079.2 273.8h11.6M1085.0 268.0v11.6M1234.2 142.7h11.6M1240.0 136.9v11.6M1210.8 165.0h11.6M1216.6 159.2v11.6M915.0 414.8h11.6M920.8 409.0v11.6M1152.5 211.6h11.6M1158.3 205.8v11.6M1186.9 180.0h11.6M1192.7 174.2v11.6M1271.6 124.0h11.6M1277.4 118.2v11.6M1093.5 257.2h11.6M1099.3 251.4v11.6M1025.6 307.6h11.6M1031.4 301.8v11.6M940.5 382.4h11.6M946.3 376.6v11.6M1053.9 298.2h11.6M1059.7 292.4v11.6M1020.3 310.1h11.6M1026.1 304.3v11.6M1001.1 327.7h11.6M1006.9 321.9v11.6M1077.8 252.1h11.6M1083.6 246.3v11.6M906.1 419.9h11.6M911.9 414.1v11.6M1100.2 248.5h11.6M1106.0 242.7v11.6M948.7 378.6h11.6M954.5 372.8v11.6M1083.0 258.6h11.6M1088.8 252.8v11.6M938.5 366.1h11.6M944.3 360.3v11.6M1140.9 214.7h11.6M1146.7 208.9v11.6M1167.4 194.5h11.6M1173.2 188.7v11.6M1156.3 202.5h11.6M1162.1 196.7v11.6M1237.1 142.3h11.6M1242.9 136.5v11.6M1233.1 146.7h11.6M1238.9 140.9v11.6M1091.5 253.2h11.6M1097.3 247.4v11.6M1130.4 224.5h11.6M1136.2 218.7v11.6M962.5 361.5h11.6M968.3 355.7v11.6M1074.9 270.2h11.6M1080.7 264.4v11.6M1235.1 144.6h11.6M1240.9 138.8v11.6M1111.7 231.1h11.6M1117.5 225.3v11.6M1237.2 143.3h11.6M1243.0 137.5v11.6M1027.8 307.9h11.6M1033.6 302.1v11.6M966.5 365.3h11.6M972.3 359.5v11.6M899.0 401.3h11.6M904.8 395.5v11.6M870.8 428.1h11.6M876.6 422.3v11.6M1088.8 258.2h11.6M1094.6 252.4v11.6M1120.8 233.0h11.6M1126.6 227.2v11.6M948.0 365.7h11.6M953.8 359.9v11.6M1259.3 132.0h11.6M1265.1 126.2v11.6M1013.7 323.9h11.6M1019.5 318.1v11.6M941.2 377.9h11.6M947.0 372.1v11.6M1107.7 241.1h11.6M1113.5 235.3v11.6M878.8 420.1h11.6M884.6 414.3v11.6M1089.9 254.5h11.6M1095.7 248.7v11.6M1138.3 217.8h11.6M1144.1 212.0v11.6M1091.3 254.6h11.6M1097.1 248.8v11.6M965.8 361.4h11.6M971.6 355.6v11.6M1189.4 182.2h11.6M1195.2 176.4v11.6M1087.1 261.9h11.6M1092.9 256.1v11.6M1091.7 257.8h11.6M1097.5 252.0v11.6M1019.6 309.3h11.6M1025.4 303.5v11.6M1234.3 145.6h11.6M1240.1 139.8v11.6M922.1 390.2h11.6M927.9 384.4v11.6M959.6 365.9h11.6M965.4 360.1v11.6M1148.5 205.3h11.6M1154.3 199.5v11.6M987.8 348.1h11.6M993.6 342.3v11.6M1127.0 226.8h11.6M1132.8 221.0v11.6M1160.4 204.6h11.6M1166.2 198.8v11.6M1040.9 294.8h11.6M1046.7 289.0v11.6M1211.2 161.7h11.6M1217.0 155.9v11.6M1117.0 237.5h11.6M1122.8 231.7v11.6M1144.8 218.4h11.6M1150.6 212.6v11.6M1093.1 254.3h11.6M1098.9 248.5v11.6M1087.1 259.5h11.6M1092.9 253.7v11.6M1239.0 142.7h11.6M1244.8 136.9v11.6M1175.6 191.3h11.6M1181.4 185.5v11.6M962.1 361.5h11.6M967.9 355.7v11.6M1235.5 138.5h11.6M1241.3 132.7v11.6M1067.9 277.5h11.6M1073.7 271.7v11.6M1045.8 311.2h11.6M1051.6 305.4v11.6M1062.6 287.5h11.6M1068.4 281.7v11.6M1101.3 246.5h11.6M1107.1 240.7v11.6M1048.1 300.5h11.6M1053.9 294.7v11.6M1260.3 124.1h11.6M1266.1 118.3v11.6M1107.3 246.4h11.6M1113.1 240.6v11.6M914.2 398.0h11.6M920.0 392.2v11.6M997.9 330.8h11.6M1003.7 325.0v11.6M1018.0 305.5h11.6M1023.8 299.7v11.6M1254.6 131.3h11.6M1260.4 125.5v11.6M1062.4 280.5h11.6M1068.2 274.7v11.6M1127.3 231.9h11.6M1133.1 226.1v11.6M1270.5 123.1h11.6M1276.3 117.3v11.6M1173.2 189.5h11.6M1179.0 183.7v11.6M969.6 364.3h11.6M975.4 358.5v11.6M948.2 366.3h11.6M954.0 360.5v11.6M1049.0 281.6h11.6M1054.8 275.8v11.6M1073.7 269.4h11.6M1079.5 263.6v11.6M881.5 430.8h11.6M887.3 425.0v11.6M1046.4 283.9h11.6M1052.2 278.1v11.6M1231.2 152.5h11.6M1237.0 146.7v11.6M1117.1 230.4h11.6M1122.9 224.6v11.6M952.8 356.8h11.6M958.6 351.0v11.6M1127.3 233.4h11.6M1133.1 227.6v11.6M951.6 360.9h11.6M957.4 355.1v11.6M1274.0 117.0h11.6M1279.8 111.2v11.6M1086.8 258.4h11.6M1092.6 252.6v11.6M1251.5 139.4h11.6M1257.3 133.6v11.6M1175.1 186.1h11.6M1180.9 180.3v11.6M1234.4 142.1h11.6M1240.2 136.3v11.6M1073.6 270.1h11.6M1079.4 264.3v11.6M1043.8 298.7h11.6M1049.6 292.9v11.6M913.0 383.5h11.6M918.8 377.7v11.6M1140.7 214.8h11.6M1146.5 209.0v11.6M946.7 367.2h11.6M952.5 361.4v11.6M941.8 377.6h11.6M947.6 371.8v11.6M1073.0 272.4h11.6M1078.8 266.6v11.6M1161.4 202.2h11.6M1167.2 196.4v11.6M959.6 366.8h11.6M965.4 361.0v11.6M1081.5 263.3h11.6M1087.3 257.5v11.6M891.9 396.7h11.6M897.7 390.9v11.6M893.2 406.7h11.6M899.0 400.9v11.6M1085.3 254.3h11.6M1091.1 248.5v11.6M1108.2 241.3h11.6M1114.0 235.5v11.6M994.6 315.6h11.6M1000.4 309.8v11.6M1130.4 227.4h11.6M1136.2 221.6v11.6M1199.8 177.2h11.6M1205.6 171.4v11.6M1046.6 307.2h11.6M1052.4 301.4v11.6M1247.5 136.2h11.6M1253.3 130.4v11.6M1066.6 274.2h11.6M1072.4 268.4v11.6M1208.9 161.8h11.6M1214.7 156.0v11.6M1149.0 215.8h11.6M1154.8 210.0v11.6M1148.0 213.8h11.6M1153.8 208.0v11.6M1072.2 264.1h11.6M1078.0 258.3v11.6M1201.2 176.7h11.6M1207.0 170.9v11.6M1107.9 246.7h11.6M1113.7 240.9v11.6M1192.5 178.5h11.6M1198.3 172.7v11.6M1176.1 193.4h11.6M1181.9 187.6v11.6M1136.9 220.8h11.6M1142.7 215.0v11.6M999.5 341.6h11.6M1005.3 335.8v11.6M1246.4 137.8h11.6M1252.2 132.0v11.6M1119.0 237.0h11.6M1124.8 231.2v11.6M1008.7 314.8h11.6M1014.5 309.0v11.6M1177.1 186.8h11.6M1182.9 181.0v11.6M940.8 370.2h11.6M946.6 364.4v11.6M891.4 423.3h11.6M897.2 417.5v11.6M1239.7 137.8h11.6M1245.5 132.0v11.6M938.1 379.1h11.6M943.9 373.3v11.6M992.0 318.1h11.6M997.8 312.3v11.6M1087.0 266.9h11.6M1092.8 261.1v11.6M926.1 397.2h11.6M931.9 391.4v11.6M1068.7 281.3h11.6M1074.5 275.5v11.6M1033.9 285.5h11.6M1039.7 279.7v11.6M912.3 407.6h11.6M918.1 401.8v11.6M1019.2 314.1h11.6M1025.0 308.3v11.6M1114.6 240.4h11.6M1120.4 234.6v11.6M1244.8 135.0h11.6M1250.6 129.2v11.6M1079.2 267.1h11.6M1085.0 261.3v11.6M1245.2 132.7h11.6M1251.0 126.9v11.6M1066.2 286.2h11.6M1072.0 280.4v11.6M1014.7 289.9h11.6M1020.5 284.1v11.6M1138.3 220.1h11.6M1144.1 214.3v11.6M1138.0 224.4h11.6M1143.8 218.6v11.6M1190.8 177.2h11.6M1196.6 171.4v11.6M1055.9 285.2h11.6M1061.7 279.4v11.6M1214.2 163.7h11.6M1220.0 157.9v11.6"/>
<path class="mk" d="M960.1 349.6h11.6M965.9 343.8v11.6M1000.2 332.0h11.6M1006.0 326.2v11.6M981.7 352.3h11.6M987.5 346.5v11.6M944.7 372.0h11.6M950.5 366.2v11.6M993.2 325.4h11.6M999.0 319.6v11.6M1036.8 292.2h11.6M1042.6 286.4v11.6M1194.4 182.4h11.6M1200.2 176.6v11.6M1095.7 247.1h11.6M1101.5 241.3v11.6M954.9 362.8h11.6M960.7 357.0v11.6M906.6 396.3h11.6M912.4 390.5v11.6M1200.1 175.4h11.6M1205.9 169.6v11.6M1109.2 246.1h11.6M1115.0 240.3v11.6M1135.9 224.3h11.6M1141.7 218.5v11.6M894.8 411.6h11.6M900.6 405.8v11.6M894.2 392.1h11.6M900.0 386.3v11.6M986.9 337.8h11.6M992.7 332.0v11.6M899.3 407.0h11.6M905.1 401.2v11.6M948.7 358.2h11.6M954.5 352.4v11.6M1254.8 123.2h11.6M1260.6 117.4v11.6M980.1 333.9h11.6M985.9 328.1v11.6M1158.7 205.7h11.6M1164.5 199.9v11.6M1273.8 120.8h11.6M1279.6 115.0v11.6M1049.7 302.0h11.6M1055.5 296.2v11.6M1186.8 183.6h11.6M1192.6 177.8v11.6M1068.4 278.4h11.6M1074.2 272.6v11.6M975.4 342.1h11.6M981.2 336.3v11.6M1194.3 170.8h11.6M1200.1 165.0v11.6M949.1 381.5h11.6M954.9 375.7v11.6M952.0 368.9h11.6M957.8 363.1v11.6M1070.5 273.2h11.6M1076.3 267.4v11.6M956.2 379.2h11.6M962.0 373.4v11.6M957.3 362.2h11.6M963.1 356.4v11.6M1090.9 253.2h11.6M1096.7 247.4v11.6M1152.3 195.7h11.6M1158.1 189.9v11.6M1032.3 311.3h11.6M1038.1 305.5v11.6M992.7 327.6h11.6M998.5 321.8v11.6M1057.9 274.2h11.6M1063.7 268.4v11.6M1040.1 310.3h11.6M1045.9 304.5v11.6M1003.5 329.0h11.6M1009.3 323.2v11.6M934.2 358.0h11.6M940.0 352.2v11.6M1129.8 228.4h11.6M1135.6 222.6v11.6M1085.2 262.4h11.6M1091.0 256.6v11.6M1210.8 161.3h11.6M1216.6 155.5v11.6M1099.2 240.1h11.6M1105.0 234.3v11.6M1197.5 172.3h11.6M1203.3 166.5v11.6M1161.2 202.9h11.6M1167.0 197.1v11.6M1061.6 272.0h11.6M1067.4 266.2v11.6M1111.4 245.3h11.6M1117.2 239.5v11.6M1108.6 247.8h11.6M1114.4 242.0v11.6M962.6 364.7h11.6M968.4 358.9v11.6M1010.6 320.6h11.6M1016.4 314.8v11.6M949.6 366.3h11.6M955.4 360.5v11.6M1125.7 228.5h11.6M1131.5 222.7v11.6M1091.0 258.7h11.6M1096.8 252.9v11.6M1186.2 190.1h11.6M1192.0 184.3v11.6M985.5 352.8h11.6M991.3 347.0v11.6M1175.5 191.7h11.6M1181.3 185.9v11.6M909.6 391.5h11.6M915.4 385.7v11.6M922.4 409.1h11.6M928.2 403.3v11.6M1039.8 300.0h11.6M1045.6 294.2v11.6M946.7 362.7h11.6M952.5 356.9v11.6M1074.1 275.9h11.6M1079.9 270.1v11.6M1033.0 297.9h11.6M1038.8 292.1v11.6M1132.3 226.0h11.6M1138.1 220.2v11.6M1176.5 191.7h11.6M1182.3 185.9v11.6M1181.5 184.3h11.6M1187.3 178.5v11.6M1168.3 198.4h11.6M1174.1 192.6v11.6M936.8 369.3h11.6M942.6 363.5v11.6M973.0 358.0h11.6M978.8 352.2v11.6M1219.9 158.9h11.6M1225.7 153.1v11.6M1244.6 138.7h11.6M1250.4 132.9v11.6M1240.2 138.7h11.6M1246.0 132.9v11.6M1223.2 157.3h11.6M1229.0 151.5v11.6M1045.2 289.8h11.6M1051.0 284.0v11.6M982.8 337.7h11.6M988.6 331.9v11.6M893.9 394.3h11.6M899.7 388.5v11.6M1093.5 257.2h11.6M1099.3 251.4v11.6M897.1 405.2h11.6M902.9 399.4v11.6M1059.5 276.9h11.6M1065.3 271.1v11.6M941.6 344.0h11.6M947.4 338.2v11.6M946.7 370.5h11.6M952.5 364.7v11.6M948.2 365.4h11.6M954.0 359.6v11.6M1072.4 270.6h11.6M1078.2 264.8v11.6M936.0 441.0h11.6M941.8 435.2v11.6M1009.2 320.5h11.6M1015.0 314.7v11.6M1262.8 123.8h11.6M1268.6 118.0v11.6M1018.1 322.0h11.6M1023.9 316.2v11.6M1214.4 163.7h11.6M1220.2 157.9v11.6M1032.4 304.6h11.6M1038.2 298.8v11.6M959.7 363.4h11.6M965.5 357.6v11.6M979.2 349.7h11.6M985.0 343.9v11.6M1204.0 170.7h11.6M1209.8 164.9v11.6M1057.7 283.8h11.6M1063.5 278.0v11.6M1027.6 296.8h11.6M1033.4 291.0v11.6M952.5 373.3h11.6M958.3 367.5v11.6M1160.6 196.4h11.6M1166.4 190.6v11.6M976.0 335.7h11.6M981.8 329.9v11.6M1167.2 194.4h11.6M1173.0 188.6v11.6M955.9 367.5h11.6M961.7 361.7v11.6M1267.3 120.5h11.6M1273.1 114.7v11.6M1185.2 191.9h11.6M1191.0 186.1v11.6M1215.5 161.0h11.6M1221.3 155.2v11.6M1087.5 261.8h11.6M1093.3 256.0v11.6M1132.5 229.0h11.6M1138.3 223.2v11.6M967.2 374.5h11.6M973.0 368.7v11.6M1090.3 254.8h11.6M1096.1 249.0v11.6M1057.5 278.6h11.6M1063.3 272.8v11.6M1036.7 305.2h11.6M1042.5 299.4v11.6M1054.2 278.9h11.6M1060.0 273.1v11.6M1223.8 155.2h11.6M1229.6 149.4v11.6M982.8 358.8h11.6M988.6 353.0v11.6M1020.0 314.4h11.6M1025.8 308.6v11.6M1024.4 313.4h11.6M1030.2 307.6v11.6M1237.5 144.4h11.6M1243.3 138.6v11.6M931.2 392.4h11.6M937.0 386.6v11.6M987.5 360.5h11.6M993.3 354.7v11.6M1122.6 238.8h11.6M1128.4 233.0v11.6M1009.6 315.2h11.6M1015.4 309.4v11.6M1097.5 251.9h11.6M1103.3 246.1v11.6M1239.6 140.7h11.6M1245.4 134.9v11.6M1010.0 329.6h11.6M1015.8 323.8v11.6M1002.0 346.9h11.6M1007.8 341.1v11.6M908.1 436.5h11.6M913.9 430.7v11.6M1124.2 227.0h11.6M1130.0 221.2v11.6M922.4 386.6h11.6M928.2 380.8v11.6M930.9 403.1h11.6M936.7 397.3v11.6M1124.4 234.1h11.6M1130.2 228.3v11.6M1073.4 277.5h11.6M1079.2 271.7v11.6M1199.0 173.3h11.6M1204.8 167.5v11.6M943.0 359.6h11.6M948.8 353.8v11.6M874.8 444.9h11.6M880.6 439.1v11.6M1216.8 158.3h11.6M1222.6 152.5v11.6M1196.5 175.8h11.6M1202.3 170.0v11.6M981.8 354.9h11.6M987.6 349.1v11.6M946.7 380.6h11.6M952.5 374.8v11.6M1137.0 223.7h11.6M1142.8 217.9v11.6M1045.5 287.9h11.6M1051.3 282.1v11.6M1056.5 280.9h11.6M1062.3 275.1v11.6M923.1 381.7h11.6M928.9 375.9v11.6M948.8 387.9h11.6M954.6 382.1v11.6M995.3 345.7h11.6M1001.1 339.9v11.6M990.2 337.8h11.6M996.0 332.0v11.6M1197.1 174.9h11.6M1202.9 169.1v11.6M960.5 368.0h11.6M966.3 362.2v11.6M1198.4 175.3h11.6M1204.2 169.5v11.6M970.8 339.5h11.6M976.6 333.7v11.6M1062.8 280.4h11.6M1068.6 274.6v11.6M1256.1 127.2h11.6M1261.9 121.4v11.6M898.0 400.6h11.6M903.8 394.8v11.6M1193.6 177.7h11.6M1199.4 171.9v11.6M1137.2 215.0h11.6M1143.0 209.2v11.6M1133.7 222.7h11.6M1139.5 216.9v11.6M1083.8 259.3h11.6M1089.6 253.5v11.6M907.4 405.5h11.6M913.2 399.7v11.6M1205.4 164.3h11.6M1211.2 158.5v11.6M1251.3 132.5h11.6M1257.1 126.7v11.6M901.7 398.6h11.6M907.5 392.8v11.6M1045.2 301.1h11.6M1051.0 295.3v11.6M966.7 359.9h11.6M972.5 354.1v11.6M1191.6 178.5h11.6M1197.4 172.7v11.6M951.6 360.8h11.6M957.4 355.0v11.6M998.7 339.1h11.6M1004.5 333.3v11.6M1151.8 209.3h11.6M1157.6 203.5v11.6M992.1 335.4h11.6M997.9 329.6v11.6M913.7 386.4h11.6M919.5 380.6v11.6M1038.5 311.7h11.6M1044.3 305.9v11.6M1036.7 319.5h11.6M1042.5 313.7v11.6M911.3 391.2h11.6M917.1 385.4v11.6M1179.9 186.7h11.6M1185.7 180.9v11.6M983.4 337.8h11.6M989.2 332.0v11.6M1004.2 325.0h11.6M1010.0 319.2v11.6M1142.6 215.6h11.6M1148.4 209.8v11.6M979.2 340.7h11.6M985.0 334.9v11.6M1094.6 250.5h11.6M1100.4 244.7v11.6M1145.0 220.2h11.6M1150.8 214.4v11.6M1061.4 284.4h11.6M1067.2 278.6v11.6M915.2 385.0h11.6M921.0 379.2v11.6M1235.9 141.2h11.6M1241.7 135.4v11.6M1262.3 126.3h11.6M1268.1 120.5v11.6M1045.4 273.6h11.6M1051.2 267.8v11.6M1027.3 300.9h11.6M1033.1 295.1v11.6M1159.6 198.7h11.6M1165.4 192.9v11.6M1021.3 313.3h11.6M1027.1 307.5v11.6M1026.1 313.3h11.6M1031.9 307.5v11.6M989.4 336.8h11.6M995.2 331.0v11.6M907.5 402.0h11.6M913.3 396.2v11.6M1220.7 160.2h11.6M1226.5 154.4v11.6M911.2 397.7h11.6M917.0 391.9v11.6M988.9 337.3h11.6M994.7 331.5v11.6M1198.9 179.5h11.6M1204.7 173.7v11.6M1184.6 186.7h11.6M1190.4 180.9v11.6M1167.5 197.8h11.6M1173.3 192.0v11.6M871.4 437.1h11.6M877.2 431.3v11.6M1033.1 298.8h11.6M1038.9 293.0v11.6M1076.1 258.9h11.6M1081.9 253.1v11.6M1130.0 230.3h11.6M1135.8 224.5v11.6M1012.9 317.3h11.6M1018.7 311.5v11.6M1058.3 280.9h11.6M1064.1 275.1v11.6M1241.7 137.5h11.6M1247.5 131.7v11.6M996.4 356.8h11.6M1002.2 351.0v11.6"/>
<path class="mk" d="M1190.2 183.7h11.6M1196.0 177.9v11.6M1088.2 256.8h11.6M1094.0 251.0v11.6M1239.4 138.6h11.6M1245.2 132.8v11.6M1123.5 230.6h11.6M1129.3 224.8v11.6M898.9 416.5h11.6M904.7 410.7v11.6M1151.3 208.6h11.6M1157.1 202.8v11.6M1146.8 216.4h11.6M1152.6 210.6v11.6M1210.4 168.5h11.6M1216.2 162.7v11.6M1072.1 271.4h11.6M1077.9 265.6v11.6M947.7 362.9h11.6M953.5 357.1v11.6M1238.3 139.8h11.6M1244.1 134.0v11.6M934.5 381.9h11.6M940.3 376.1v11.6M1020.0 317.9h11.6M1025.8 312.1v11.6M1037.1 306.6h11.6M1042.9 300.8v11.6M1003.9 318.8h11.6M1009.7 313.0v11.6M999.3 336.5h11.6M1005.1 330.7v11.6M980.4 342.6h11.6M986.2 336.8v11.6M1069.5 272.5h11.6M1075.3 266.7v11.6M1210.9 165.9h11.6M1216.7 160.1v11.6M1262.0 124.5h11.6M1267.8 118.7v11.6M1025.4 311.7h11.6M1031.2 305.9v11.6M1038.8 294.4h11.6M1044.6 288.6v11.6M953.4 381.5h11.6M959.2 375.7v11.6M1127.6 228.6h11.6M1133.4 222.8v11.6M1175.2 191.0h11.6M1181.0 185.2v11.6M1064.8 283.9h11.6M1070.6 278.1v11.6M1218.9 159.0h11.6M1224.7 153.2v11.6M1031.3 312.4h11.6M1037.1 306.6v11.6M1130.0 225.1h11.6M1135.8 219.3v11.6M914.5 406.9h11.6M920.3 401.1v11.6M1021.2 314.9h11.6M1027.0 309.1v11.6M1036.7 297.8h11.6M1042.5 292.0v11.6M1059.9 268.6h11.6M1065.7 262.8v11.6M1013.9 317.8h11.6M1019.7 312.0v11.6M1050.8 273.1h11.6M1056.6 267.3v11.6M1039.1 295.6h11.6M1044.9 289.8v11.6M950.6 362.6h11.6M956.4 356.8v11.6M941.9 381.1h11.6M947.7 375.3v11.6M944.6 378.0h11.6M950.4 372.2v11.6M1209.0 162.8h11.6M1214.8 157.0v11.6M1039.2 301.6h11.6M1045.0 295.8v11.6M973.4 337.7h11.6M979.2 331.9v11.6M1108.8 242.6h11.6M1114.6 236.8v11.6M1135.8 208.0h11.6M1141.6 202.2v11.6M1050.5 292.2h11.6M1056.3 286.4v11.6M1227.8 149.0h11.6M1233.6 143.2v11.6M1078.0 265.2h11.6M1083.8 259.4v11.6M1160.9 202.1h11.6M1166.7 196.3v11.6M1067.5 273.8h11.6M1073.3 268.0v11.6M924.6 407.2h11.6M930.4 401.4v11.6M988.7 337.3h11.6M994.5 331.5v11.6M1212.5 159.6h11.6M1218.3 153.8v11.6M1271.4 117.0h11.6M1277.2 111.2v11.6M1021.7 330.9h11.6M1027.5 325.1v11.6M963.6 361.1h11.6M969.4 355.3v11.6M1068.5 275.2h11.6M1074.3 269.4v11.6M1136.7 216.3h11.6M1142.5 210.5v11.6M1261.2 127.0h11.6M1267.0 121.2v11.6M958.1 348.5h11.6M963.9 342.7v11.6M1229.5 152.0h11.6M1235.3 146.2v11.6M1232.4 144.6h11.6M1238.2 138.8v11.6M1225.8 151.6h11.6M1231.6 145.8v11.6M935.3 345.6h11.6M941.1 339.8v11.6M1087.1 257.6h11.6M1092.9 251.8v11.6M980.6 329.5h11.6M986.4 323.7v11.6M1162.7 202.2h11.6M1168.5 196.4v11.6M960.1 396.6h11.6M965.9 390.8v11.6M1187.4 182.1h11.6M1193.2 176.3v11.6M958.8 361.4h11.6M964.6 355.6v11.6M921.3 397.8h11.6M927.1 392.0v11.6M896.2 411.3h11.6M902.0 405.5v11.6M924.2 405.9h11.6M930.0 400.1v11.6M1037.1 301.7h11.6M1042.9 295.9v11.6M1040.4 300.9h11.6M1046.2 295.1v11.6M1183.7 180.9h11.6M1189.5 175.1v11.6M1020.1 313.3h11.6M1025.9 307.5v11.6M1110.4 242.1h11.6M1116.2 236.3v11.6M947.6 371.2h11.6M953.4 365.4v11.6M1002.8 357.4h11.6M1008.6 351.6v11.6M1134.8 226.6h11.6M1140.6 220.8v11.6M944.1 363.8h11.6M949.9 358.0v11.6M1279.0 109.7h11.6M1284.8 103.9v11.6M962.8 386.2h11.6M968.6 380.4v11.6M1185.7 182.3h11.6M1191.5 176.5v11.6M1255.7 130.5h11.6M1261.5 124.7v11.6M1023.5 308.1h11.6M1029.3 302.3v11.6M1022.2 311.7h11.6M1028.0 305.9v11.6M1097.6 253.1h11.6M1103.4 247.3v11.6M1126.1 237.1h11.6M1131.9 231.3v11.6M1256.8 129.4h11.6M1262.6 123.6v11.6M955.5 372.5h11.6M961.3 366.7v11.6M1220.5 157.6h11.6M1226.3 151.8v11.6M1252.2 129.7h11.6M1258.0 123.9v11.6M895.1 409.5h11.6M900.9 403.7v11.6M957.9 359.2h11.6M963.7 353.4v11.6M989.2 331.2h11.6M995.0 325.4v11.6M1225.1 156.5h11.6M1230.9 150.7v11.6M906.0 415.3h11.6M911.8 409.5v11.6M1039.3 293.1h11.6M1045.1 287.3v11.6M1122.2 228.9h11.6M1128.0 223.1v11.6M1134.3 234.7h11.6M1140.1 228.9v11.6M1083.8 272.4h11.6M1089.6 266.6v11.6M1292.0 100.3h11.6M1297.8 94.5v11.6M1040.4 280.8h11.6M1046.2 275.0v11.6M956.3 370.8h11.6M962.1 365.0v11.6M984.1 344.0h11.6M989.9 338.2v11.6M902.3 409.9h11.6M908.1 404.1v11.6M901.4 398.5h11.6M907.2 392.7v11.6M1037.5 308.4h11.6M1043.3 302.6v11.6M1101.9 251.8h11.6M1107.7 246.0v11.6M911.8 415.2h11.6M917.6 409.4v11.6M1152.7 212.2h11.6M1158.5 206.4v11.6M1070.5 280.5h11.6M1076.3 274.7v11.6M1024.3 307.2h11.6M1030.1 301.4v11.6M1201.8 167.7h11.6M1207.6 161.9v11.6M1098.2 248.4h11.6M1104.0 242.6v11.6M883.9 423.5h11.6M889.7 417.7v11.6M1215.3 161.1h11.6M1221.1 155.3v11.6M1206.9 169.4h11.6M1212.7 163.6v11.6M934.5 393.2h11.6M940.3 387.4v11.6M1100.7 255.0h11.6M1106.5 249.2v11.6M1037.7 288.9h11.6M1043.5 283.1v11.6M1065.8 272.0h11.6M1071.6 266.2v11.6M1285.6 104.9h11.6M1291.4 99.1v11.6M1100.1 249.5h11.6M1105.9 243.7v11.6M887.0 418.7h11.6M892.8 412.9v11.6M956.3 361.1h11.6M962.1 355.3v11.6M1233.9 147.5h11.6M1239.7 141.7v11.6M1269.8 120.9h11.6M1275.6 115.1v11.6M1067.9 290.3h11.6M1073.7 284.5v11.6M1267.3 119.8h11.6M1273.1 114.0v11.6M899.0 433.3h11.6M904.8 427.5v11.6M1208.4 173.7h11.6M1214.2 167.9v11.6M1266.8 122.2h11.6M1272.6 116.4v11.6M1221.9 158.1h11.6M1227.7 152.3v11.6M1036.5 296.5h11.6M1042.3 290.7v11.6M1188.3 175.1h11.6M1194.1 169.3v11.6M1144.1 214.2h11.6M1149.9 208.4v11.6M1055.8 277.7h11.6M1061.6 271.9v11.6M1009.4 309.2h11.6M1015.2 303.4v11.6M1246.2 140.2h11.6M1252.0 134.4v11.6M1064.0 284.9h11.6M1069.8 279.1v11.6M908.5 401.6h11.6M914.3 395.8v11.6M1127.8 229.9h11.6M1133.6 224.1v11.6M1164.2 199.5h11.6M1170.0 193.7v11.6M939.0 368.1h11.6M944.8 362.3v11.6M1057.2 284.3h11.6M1063.0 278.5v11.6M1005.8 336.6h11.6M1011.6 330.8v11.6M948.2 328.6h11.6M954.0 322.8v11.6M906.7 427.4h11.6M912.5 421.6v11.6M914.0 409.0h11.6M919.8 403.2v11.6M925.7 373.7h11.6M931.5 367.9v11.6M1039.3 320.4h11.6M1045.1 314.6v11.6M1175.7 196.0h11.6M1181.5 190.2v11.6M958.2 366.9h11.6M964.0 361.1v11.6M1029.6 310.8h11.6M1035.4 305.0v11.6M973.9 348.9h11.6M979.7 343.1v11.6M1175.0 186.4h11.6M1180.8 180.6v11.6M1030.0 305.1h11.6M1035.8 299.3v11.6M951.0 371.7h11.6M956.8 365.9v11.6M1158.4 203.0h11.6M1164.2 197.2v11.6M1110.4 239.8h11.6M1116.2 234.0v11.6M1092.1 244.8h11.6M1097.9 239.0v11.6M881.9 431.0h11.6M887.7 425.2v11.6M993.4 325.2h11.6M999.2 319.4v11.6M972.8 353.1h11.6M978.6 347.3v11.6M930.6 381.9h11.6M936.4 376.1v11.6M1043.5 306.2h11.6M1049.3 300.4v11.6M1145.0 218.7h11.6M1150.8 212.9v11.6M940.1 387.7h11.6M945.9 381.9v11.6M920.8 407.7h11.6M926.6 401.9v11.6M1240.9 142.5h11.6M1246.7 136.7v11.6M1115.8 232.3h11.6M1121.6 226.5v11.6M1256.6 133.1h11.6M1262.4 127.3v11.6M1087.4 250.3h11.6M1093.2 244.5v11.6M1018.4 316.2h11.6M1024.2 310.4v11.6M1066.1 277.4h11.6M1071.9 271.6v11.6M1229.2 154.0h11.6M1235.0 148.2v11.6M893.9 411.7h11.6M899.7 405.9v11.6M972.3 340.7h11.6M978.1 334.9v11.6M1026.8 312.3h11.6M1032.6 306.5v11.6M878.6 424.8h11.6M884.4 419.0v11.6M1071.6 273.2h11.6M1077.4 267.4v11.6M952.6 371.3h11.6M958.4 365.5v11.6M1063.3 284.8h11.6M1069.1 279.0v11.6M885.8 409.2h11.6M891.6 403.4v11.6M1168.8 194.5h11.6M1174.6 188.7v11.6M1030.8 309.6h11.6M1036.6 303.8v11.6M959.0 352.9h11.6M964.8 347.1v11.6M1015.6 323.1h11.6M1021.4 317.3v11.6M914.8 401.7h11.6M920.6 395.9v11.6M1004.8 337.1h11.6M1010.6 331.3v11.6M1207.2 172.8h11.6M1213.0 167.0v11.6M1012.6 329.9h11.6M1018.4 324.1v11.6M1260.9 118.4h11.6M1266.7 112.6v11.6M1108.4 243.0h11.6M1114.2 237.2v11.6M1032.3 297.6h11.6M1038.1 291.8v11.6M966.7 342.2h11.6M972.5 336.4v11.6M1189.1 180.0h11.6M1194.9 174.2v11.6M1034.9 314.3h11.6M1040.7 308.5v11.6"/>
<path class="mk" d="M934.5 385.1h11.6M940.3 379.3v11.6M1245.3 138.8h11.6M1251.1 133.0v11.6M1219.7 154.7h11.6M1225.5 148.9v11.6M1024.9 313.4h11.6M1030.7 307.6v11.6M949.9 357.9h11.6M955.7 352.1v11.6M996.2 324.6h11.6M1002.0 318.8v11.6M1157.3 204.1h11.6M1163.1 198.3v11.6M994.4 333.1h11.6M1000.2 327.3v11.6M913.1 393.6h11.6M918.9 387.8v11.6M956.2 364.7h11.6M962.0 358.9v11.6M931.7 381.7h11.6M937.5 375.9v11.6M988.2 331.6h11.6M994.0 325.8v11.6M1143.7 218.8h11.6M1149.5 213.0v11.6M989.5 340.6h11.6M995.3 334.8v11.6M1101.0 250.8h11.6M1106.8 245.0v11.6M1157.8 214.7h11.6M1163.6 208.9v11.6M1099.8 245.2h11.6M1105.6 239.4v11.6M1173.7 193.8h11.6M1179.5 188.0v11.6M1019.3 304.5h11.6M1025.1 298.7v11.6M1113.7 247.1h11.6M1119.5 241.3v11.6M1012.7 333.2h11.6M1018.5 327.4v11.6M1246.1 137.7h11.6M1251.9 131.9v11.6M1048.1 291.0h11.6M1053.9 285.2v11.6M1097.8 245.2h11.6M1103.6 239.4v11.6M950.4 360.0h11.6M956.2 354.2v11.6M1128.2 220.1h11.6M1134.0 214.3v11.6M931.5 382.9h11.6M937.3 377.1v11.6M941.4 354.0h11.6M947.2 348.2v11.6M994.6 327.5h11.6M1000.4 321.7v11.6M1184.7 189.7h11.6M1190.5 183.9v11.6M959.2 368.4h11.6M965.0 362.6v11.6M1056.7 288.8h11.6M1062.5 283.0v11.6M1155.4 207.1h11.6M1161.2 201.3v11.6M956.0 380.5h11.6M961.8 374.7v11.6M1225.8 151.7h11.6M1231.6 145.9v11.6M1263.2 118.2h11.6M1269.0 112.4v11.6M1195.0 180.9h11.6M1200.8 175.1v11.6M1143.3 218.6h11.6M1149.1 212.8v11.6M939.4 351.4h11.6M945.2 345.6v11.6M1140.9 212.4h11.6M1146.7 206.6v11.6M925.7 371.1h11.6M931.5 365.3v11.6M919.9 390.1h11.6M925.7 384.3v11.6M1164.0 196.3h11.6M1169.8 190.5v11.6M923.2 386.1h11.6M929.0 380.3v11.6M914.8 432.2h11.6M920.6 426.4v11.6M967.7 360.3h11.6M973.5 354.5v11.6M1156.7 203.8h11.6M1162.5 198.0v11.6M981.3 346.1h11.6M987.1 340.3v11.6M1200.9 174.5h11.6M1206.7 168.7v11.6M913.6 406.9h11.6M919.4 401.1v11.6M896.4 408.2h11.6M902.2 402.4v11.6M1110.1 241.4h11.6M1115.9 235.6v11.6M1112.4 242.7h11.6M1118.2 236.9v11.6M1072.3 264.9h11.6M1078.1 259.1v11.6M1174.1 194.1h11.6M1179.9 188.3v11.6M1165.9 200.5h11.6M1171.7 194.7v11.6M1080.9 265.3h11.6M1086.7 259.5v11.6M1140.5 218.9h11.6M1146.3 213.1v11.6M1043.6 298.0h11.6M1049.4 292.2v11.6M912.8 440.7h11.6M918.6 434.9v11.6M1113.5 230.6h11.6M1119.3 224.8v11.6M1213.2 159.2h11.6M1219.0 153.4v11.6M931.5 382.1h11.6M937.3 376.3v11.6M1153.6 210.4h11.6M1159.4 204.6v11.6M1005.5 325.9h11.6M1011.3 320.1v11.6M1047.5 289.3h11.6M1053.3 283.5v11.6M1117.3 239.1h11.6M1123.1 233.3v11.6M964.9 350.6h11.6M970.7 344.8v11.6M1260.0 124.1h11.6M1265.8 118.3v11.6M888.1 420.3h11.6M893.9 414.5v11.6M1268.1 122.0h11.6M1273.9 116.2v11.6M1053.2 280.3h11.6M1059.0 274.5v11.6M1032.7 289.6h11.6M1038.5 283.8v11.6M1153.2 208.0h11.6M1159.0 202.2v11.6M1058.4 278.1h11.6M1064.2 272.3v11.6M975.9 349.5h11.6M981.7 343.7v11.6M1215.6 162.7h11.6M1221.4 156.9v11.6M898.6 398.4h11.6M904.4 392.6v11.6M897.5 412.8h11.6M903.3 407.0v11.6M965.0 325.8h11.6M970.8 320.0v11.6M1056.2 292.7h11.6M1062.0 286.9v11.6M930.8 397.7h11.6M936.6 391.9v11.6M890.2 412.8h11.6M896.0 407.0v11.6M1081.7 261.1h11.6M1087.5 255.3v11.6M1133.8 220.9h11.6M1139.6 215.1v11.6M1048.4 290.5h11.6M1054.2 284.7v11.6M950.7 393.9h11.6M956.5 388.1v11.6M1161.8 198.5h11.6M1167.6 192.7v11.6M1052.2 293.5h11.6M1058.0 287.7v11.6M1105.6 237.1h11.6M1111.4 231.3v11.6M910.7 404.8h11.6M916.5 399.0v11.6M1237.5 143.7h11.6M1243.3 137.9v11.6M1008.1 329.1h11.6M1013.9 323.3v11.6M1287.4 99.1h11.6M1293.2 93.3v11.6M1021.7 299.7h11.6M1027.5 293.9v11.6M920.2 388.6h11.6M926.0 382.8v11.6M1064.0 276.2h11.6M1069.8 270.4v11.6M879.6 446.6h11.6M885.4 440.8v11.6M1091.2 253.2h11.6M1097.0 247.4v11.6M1031.6 318.4h11.6M1037.4 312.6v11.6M1131.1 221.9h11.6M1136.9 216.1v11.6M914.2 393.6h11.6M920.0 387.8v11.6M1079.3 270.5h11.6M1085.1 264.7v11.6M874.5 417.8h11.6M880.3 412.0v11.6M1117.3 231.4h11.6M1123.1 225.6v11.6M971.5 325.7h11.6M977.3 319.9v11.6M1082.1 257.0h11.6M1087.9 251.2v11.6M1148.1 212.1h11.6M1153.9 206.3v11.6M940.2 373.7h11.6M946.0 367.9v11.6M1005.0 345.5h11.6M1010.8 339.7v11.6M937.9 371.4h11.6M943.7 365.6v11.6M1133.0 228.7h11.6M1138.8 222.9v11.6M1224.4 155.1h11.6M1230.2 149.3v11.6M969.0 380.8h11.6M974.8 375.0v11.6M1121.5 235.4h11.6M1127.3 229.6v11.6M941.4 371.4h11.6M947.2 365.6v11.6M1232.4 150.4h11.6M1238.2 144.6v11.6M1254.2 130.2h11.6M1260.0 124.4v11.6M957.0 373.8h11.6M962.8 368.0v11.6M949.7 365.3h11.6M955.5 359.5v11.6M1203.7 166.8h11.6M1209.5 161.0v11.6M1233.1 146.5h11.6M1238.9 140.7v11.6M1279.6 110.8h11.6M1285.4 105.0v11.6M1115.3 243.4h11.6M1121.1 237.6v11.6M1037.7 295.6h11.6M1043.5 289.8v11.6M916.2 378.6h11.6M922.0 372.8v11.6M1094.4 255.7h11.6M1100.2 249.9v11.6M1094.4 254.9h11.6M1100.2 249.1v11.6M1188.4 182.9h11.6M1194.2 177.1v11.6M1232.0 151.2h11.6M1237.8 145.4v11.6M1169.7 196.3h11.6M1175.5 190.5v11.6M1104.4 257.2h11.6M1110.2 251.4v11.6M1222.8 151.5h11.6M1228.6 145.7v11.6M1213.5 156.7h11.6M1219.3 150.9v11.6M934.9 372.9h11.6M940.7 367.1v11.6M961.1 357.5h11.6M966.9 351.7v11.6M1287.2 104.9h11.6M1293.0 99.1v11.6M1044.1 294.7h11.6M1049.9 288.9v11.6M988.2 347.9h11.6M994.0 342.1v11.6M982.3 342.8h11.6M988.1 337.0v11.6M958.5 361.6h11.6M964.3 355.8v11.6M933.7 376.0h11.6M939.5 370.2v11.6M1280.0 105.7h11.6M1285.8 99.9v11.6M873.7 425.5h11.6M879.5 419.7v11.6M1020.2 302.6h11.6M1026.0 296.8v11.6M1180.4 184.8h11.6M1186.2 179.0v11.6M880.0 439.9h11.6M885.8 434.1v11.6M922.4 383.6h11.6M928.2 377.8v11.6M902.0 404.8h11.6M907.8 399.0v11.6M895.0 404.3h11.6M900.8 398.5v11.6M942.2 369.2h11.6M948.0 363.4v11.6M1013.4 315.1h11.6M1019.2 309.3v11.6M1164.0 200.4h11.6M1169.8 194.6v11.6M1064.6 274.4h11.6M1070.4 268.6v11.6M1259.6 126.3h11.6M1265.4 120.5v11.6M1116.3 240.0h11.6M1122.1 234.2v11.6M987.9 337.4h11.6M993.7 331.6v11.6M964.9 367.7h11.6M970.7 361.9v11.6M1250.9 130.6h11.6M1256.7 124.8v11.6M1047.0 281.6h11.6M1052.8 275.8v11.6M1166.6 197.6h11.6M1172.4 191.8v11.6M1072.0 258.8h11.6M1077.8 253.0v11.6M1289.9 99.9h11.6M1295.7 94.1v11.6M1030.5 302.5h11.6M1036.3 296.7v11.6M1032.4 298.9h11.6M1038.2 293.1v11.6M1051.8 277.3h11.6M1057.6 271.5v11.6M1038.9 299.9h11.6M1044.7 294.1v11.6M1260.5 123.5h11.6M1266.3 117.7v11.6M1249.4 130.2h11.6M1255.2 124.4v11.6M961.0 354.4h11.6M966.8 348.6v11.6M1237.3 144.0h11.6M1243.1 138.2v11.6M1185.5 176.9h11.6M1191.3 171.1v11.6M1042.3 306.8h11.6M1048.1 301.0v11.6M1068.9 277.5h11.6M1074.7 271.7v11.6M1133.6 223.4h11.6M1139.4 217.6v11.6M966.9 332.1h11.6M972.7 326.3v11.6M991.3 359.3h11.6M997.1 353.5v11.6M939.1 386.2h11.6M944.9 380.4v11.6M987.8 357.5h11.6M993.6 351.7v11.6M1261.0 125.5h11.6M1266.8 119.7v11.6M996.4 337.2h11.6M1002.2 331.4v11.6M1193.6 180.4h11.6M1199.4 174.6v11.6M997.3 324.8h11.6M1003.1 319.0v11.6M1097.9 248.0h11.6M1103.7 242.2v11.6M1099.4 250.8h11.6M1105.2 245.0v11.6M982.1 348.5h11.6M987.9 342.7v11.6M1124.5 232.0h11.6M1130.3 226.2v11.6M1223.9 154.2h11.6M1229.7 148.4v11.6M934.4 362.5h11.6M940.2 356.7v11.6M928.7 395.1h11.6M934.5 389.3v11.6M1084.9 264.3h11.6M1090.7 258.5v11.6M1100.0 252.2h11.6M1105.8 246.4v11.6M971.3 353.3h11.6M977.1 347.5v11.6M1098.1 248.7h11.6M1103.9 242.9v11.6M949.3 381.0h11.6M955.1 375.2v11.6M944.3 382.3h11.6M950.1 376.5v11.6M1173.6 189.2h11.6M1179.4 183.4v11.6M1159.2 202.3h11.6M1165.0 196.5v11.6M1091.7 250.5h11.6M1097.5 244.7v11.6M1011.6 324.6h11.6M1017.4 318.8v11.6"/>
<path class="mk" d="M1024.5 331.4h11.6M1030.3 325.6v11.6M968.1 367.8h11.6M973.9 362.0v11.6M1094.6 257.3h11.6M1100.4 251.5v11.6M1099.8 245.7h11.6M1105.6 239.9v11.6M1088.1 265.8h11.6M1093.9 260.0v11.6M1159.4 202.9h11.6M1165.2 197.1v11.6M1053.4 279.8h11.6M1059.2 274.0v11.6M1278.9 110.3h11.6M1284.7 104.5v11.6M1174.3 193.3h11.6M1180.1 187.5v11.6M1155.5 207.8h11.6M1161.3 202.0v11.6M1068.7 273.2h11.6M1074.5 267.4v11.6M1206.8 165.0h11.6M1212.6 159.2v11.6M941.1 384.5h11.6M946.9 378.7v11.6M1248.4 139.8h11.6M1254.2 134.0v11.6M1046.7 283.7h11.6M1052.5 277.9v11.6M963.7 370.1h11.6M969.5 364.3v11.6M1256.4 129.3h11.6M1262.2 123.5v11.6M954.9 383.9h11.6M960.7 378.1v11.6M1196.3 169.2h11.6M1202.1 163.4v11.6M1033.0 301.6h11.6M1038.8 295.8v11.6M1291.9 95.8h11.6M1297.7 90.0v11.6M1112.4 235.5h11.6M1118.2 229.7v11.6M944.7 378.8h11.6M950.5 373.0v11.6M962.3 359.7h11.6M968.1 353.9v11.6M929.8 417.7h11.6M935.6 411.9v11.6M926.2 392.1h11.6M932.0 386.3v11.6M1210.8 161.7h11.6M1216.6 155.9v11.6M1068.7 272.7h11.6M1074.5 266.9v11.6M1247.2 134.6h11.6M1253.0 128.8v11.6M950.5 371.8h11.6M956.3 366.0v11.6M882.6 433.9h11.6M888.4 428.1v11.6M1030.0 297.9h11.6M1035.8 292.1v11.6M1144.1 215.1h11.6M1149.9 209.3v11.6M1048.5 291.7h11.6M1054.3 285.9v11.6M1125.0 226.8h11.6M1130.8 221.0v11.6M1034.4 308.2h11.6M1040.2 302.4v11.6M1273.8 110.1h11.6M1279.6 104.3v11.6M951.3 375.1h11.6M957.1 369.3v11.6M939.1 362.6h11.6M944.9 356.8v11.6M1004.6 323.8h11.6M1010.4 318.0v11.6M976.2 358.1h11.6M982.0 352.3v11.6M1036.5 303.6h11.6M1042.3 297.8v11.6M1102.8 242.6h11.6M1108.6 236.8v11.6M978.2 342.1h11.6M984.0 336.3v11.6M1101.9 246.0h11.6M1107.7 240.2v11.6M963.8 357.1h11.6M969.6 351.3v11.6M1048.1 292.1h11.6M1053.9 286.3v11.6M921.0 396.5h11.6M926.8 390.7v11.6M1269.8 120.0h11.6M1275.6 114.2v11.6M959.8 362.8h11.6M965.6 357.0v11.6M977.2 361.7h11.6M983.0 355.9v11.6M1026.1 306.9h11.6M1031.9 301.1v11.6M1121.0 233.4h11.6M1126.8 227.6v11.6M1052.9 287.9h11.6M1058.7 282.1v11.6M1141.4 220.7h11.6M1147.2 214.9v11.6M1003.0 326.7h11.6M1008.8 320.9v11.6M1002.7 319.5h11.6M1008.5 313.7v11.6M980.0 352.9h11.6M985.8 347.1v11.6M1233.8 149.8h11.6M1239.6 144.0v11.6M1197.4 175.3h11.6M1203.2 169.5v11.6M909.4 401.3h11.6M915.2 395.5v11.6M924.9 398.9h11.6M930.7 393.1v11.6M918.2 387.4h11.6M924.0 381.6v11.6M950.7 384.8h11.6M956.5 379.0v11.6M1088.0 252.8h11.6M1093.8 247.0v11.6M970.4 363.7h11.6M976.2 357.9v11.6M1121.5 237.2h11.6M1127.3 231.4v11.6M1001.6 332.2h11.6M1007.4 326.4v11.6M1124.4 236.0h11.6M1130.2 230.2v11.6M924.1 398.2h11.6M929.9 392.4v11.6M881.3 440.9h11.6M887.1 435.1v11.6M1120.2 228.9h11.6M1126.0 223.1v11.6M993.5 334.3h11.6M999.3 328.5v11.6M959.9 351.0h11.6M965.7 345.2v11.6M1091.5 256.3h11.6M1097.3 250.5v11.6M933.1 372.0h11.6M938.9 366.2v11.6M871.2 426.3h11.6M877.0 420.5v11.6M1155.1 211.6h11.6M1160.9 205.8v11.6M964.0 360.8h11.6M969.8 355.0v11.6M1154.0 205.7h11.6M1159.8 199.9v11.6M905.3 314.1h11.6M911.1 308.3v11.6M909.5 314.1h11.6M915.3 308.3v11.6M954.3 314.7h11.6M960.1 308.9v11.6M966.9 318.9h11.6M972.7 313.1v11.6M998.9 286.7h11.6M1004.7 280.9v11.6M1012.6 269.5h11.6M1018.4 263.7v11.6M1021.0 271.2h11.6M1026.8 265.4v11.6M1031.6 274.1h11.6M1037.4 268.3v11.6M1051.6 263.6h11.6M1057.4 257.8v11.6M929.0 330.9h11.6M934.8 325.1v11.6M943.8 335.2h11.6M949.6 329.4v11.6M963.2 332.6h11.6M969.0 326.8v11.6M870.5 372.6h11.6M876.3 366.8v11.6M897.5 372.6h11.6M903.3 366.8v11.6M909.5 378.5h11.6M915.3 372.7v11.6M893.7 385.3h11.6M899.5 379.5v11.6M985.2 394.7h11.6M991.0 388.9v11.6M996.4 403.8h11.6M1002.2 398.0v11.6M1045.2 355.8h11.6M1051.0 350.0v11.6M1042.1 343.2h11.6M1047.9 337.4v11.6M1029.5 336.8h11.6M1035.3 331.0v11.6M1057.9 339.0h11.6M1063.7 333.2v11.6M1064.2 343.2h11.6M1070.0 337.4v11.6M1053.7 343.2h11.6M1059.5 337.4v11.6M1070.5 327.4h11.6M1076.3 321.6v11.6M1078.9 322.1h11.6M1084.7 316.3v11.6M1077.9 302.1h11.6M1083.7 296.3v11.6M1085.7 305.7h11.6M1091.5 299.9v11.6M1084.2 282.1h11.6M1090.0 276.3v11.6M1092.6 283.2h11.6M1098.4 277.4v11.6M1103.2 283.2h11.6M1109.0 277.4v11.6M1122.1 307.4h11.6M1127.9 301.6v11.6M983.2 427.8h11.6M989.0 422.0v11.6M946.3 418.9h11.6M952.1 413.1v11.6M952.0 438.9h11.6M957.8 433.1v11.6M943.8 445.3h11.6M949.6 439.5v11.6M923.2 445.3h11.6M929.0 439.5v11.6M906.3 442.5h11.6M912.1 436.7v11.6M879.4 454.3h11.6M885.2 448.5v11.6M851.6 452.2h11.6M857.4 446.4v11.6M846.3 434.7h11.6M852.1 428.9v11.6M851.6 436.8h11.6M857.4 431.0v11.6M865.2 421.0h11.6M871.0 415.2v11.6M873.7 444.2h11.6M879.5 438.4v11.6M876.8 447.4h11.6M882.6 441.6v11.6M887.4 443.2h11.6M893.2 437.4v11.6M891.6 442.1h11.6M897.4 436.3v11.6M1295.9 81.1h11.6M1301.7 75.3v11.6M1268.9 104.6h11.6M1274.7 98.8v11.6M1086.8 132.6h11.6M1092.6 126.8v11.6M1154.8 142.5h11.6M1160.6 136.7v11.6M1061.6 178.5h11.6M1067.4 172.7v11.6M1104.3 193.3h11.6M1110.1 187.5v11.6M1173.8 164.6h11.6M1179.6 158.8v11.6M1148.5 186.3h11.6M1154.3 180.5v11.6M1157.4 191.6h11.6M1163.2 185.8v11.6M1136.3 203.2h11.6M1142.1 197.4v11.6M1131.0 208.4h11.6M1136.8 202.6v11.6M1208.9 156.8h11.6M1214.7 151.0v11.6M1208.9 181.1h11.6M1214.7 175.3v11.6M1170.0 212.6h11.6M1175.8 206.8v11.6M1154.2 227.4h11.6M1160.0 221.6v11.6M1097.4 231.6h11.6M1103.2 225.8v11.6M1122.6 253.3h11.6M1128.4 247.5v11.6M1143.3 253.3h11.6M1149.1 247.5v11.6M1170.0 260.0h11.6M1175.8 254.2v11.6M1052.1 263.2h11.6M1057.9 257.4v11.6M1082.6 245.3h11.6M1088.4 239.5v11.6M1075.2 254.7h11.6M1081.0 248.9v11.6M1083.0 281.0h11.6M1088.8 275.2v11.6M1093.2 282.1h11.6M1099.0 276.3v11.6M1103.2 282.1h11.6M1109.0 276.3v11.6M1068.9 289.5h11.6M1074.7 283.7v11.6M1087.2 10.0h11.6M1093.0 4.2v11.6"/>
<path class="ax" d="M835.0 9.0V462.0H1414.0M835.0 462.0v-4.6M950.8 462.0v-4.6M835.0 373.2h4.6M1066.6 462.0v-4.6M835.0 282.2h4.6M1182.4 462.0v-4.6M835.0 191.1h4.6M1298.2 462.0v-4.6M835.0 100.1h4.6M1414.0 462.0v-4.6M835.0 9.0h4.6"/>
<line class="ln" x1="835.0" y1="461.0" x2="1395.5" y2="25.1"/>
<text class="t tk" text-anchor="middle" x="835.0" y="492.2">0</text>
<text class="t tk" text-anchor="middle" x="950.8" y="492.2">0.2</text>
<text class="t tk" text-anchor="end" x="824.8" y="382.4">0.2</text>
<text class="t tk" text-anchor="middle" x="1066.6" y="492.2">0.4</text>
<text class="t tk" text-anchor="end" x="824.8" y="291.4">0.4</text>
<text class="t tk" text-anchor="middle" x="1182.4" y="492.2">0.6</text>
<text class="t tk" text-anchor="end" x="824.8" y="200.3">0.6</text>
<text class="t tk" text-anchor="middle" x="1298.2" y="492.2">0.8</text>
<text class="t tk" text-anchor="end" x="824.8" y="109.3">0.8</text>
<text class="t tk" text-anchor="middle" x="1414.0" y="492.2">1</text>
<text class="t tk" text-anchor="end" x="824.8" y="18.2">1</text>
<text class="t lb" text-anchor="middle" textLength="165" lengthAdjust="spacingAndGlyphs" x="1124.0" y="523.3">Predicted Value</text>
<text class="t lb" text-anchor="middle" textLength="116" lengthAdjust="spacingAndGlyphs" style="font-size:24.5px" transform="translate(784.7 236.5) rotate(-90)">True Value</text>
<text class="r" textLength="129.5" lengthAdjust="spacingAndGlyphs" x="890.8" y="247.9">r=0.98048</text>
<text class="cap" text-anchor="middle" textLength="43.8" lengthAdjust="spacingAndGlyphs" x="1103.0" y="590.5">(b)</text>
</g>
<g id="plot-c">
<path class="mk" d="M762.9 879.8h11.6M768.7 874.0v11.6M724.1 915.2h11.6M729.9 909.4v11.6M522.1 1077.6h11.6M527.9 1071.8v11.6M706.1 928.0h11.6M711.9 922.2v11.6M589.8 1027.4h11.6M595.6 1021.6v11.6M591.2 1027.1h11.6M597.0 1021.3v11.6M860.7 810.4h11.6M866.5 804.6v11.6M523.5 1074.3h11.6M529.3 1068.5v11.6M568.5 1046.2h11.6M574.3 1040.4v11.6M516.4 1072.2h11.6M522.2 1066.4v11.6M794.7 851.5h11.6M800.5 845.7v11.6M712.1 918.0h11.6M717.9 912.2v11.6M551.8 1055.5h11.6M557.6 1049.7v11.6M565.0 1021.1h11.6M570.8 1015.3v11.6M762.0 885.6h11.6M767.8 879.8v11.6M568.4 1022.0h11.6M574.2 1016.2v11.6M556.6 1066.6h11.6M562.4 1060.8v11.6M740.3 900.5h11.6M746.1 894.7v11.6M519.1 1047.4h11.6M524.9 1041.6v11.6M630.5 986.1h11.6M636.3 980.3v11.6M654.0 969.0h11.6M659.8 963.2v11.6M647.9 968.0h11.6M653.7 962.2v11.6M611.6 1014.6h11.6M617.4 1008.8v11.6M901.1 771.0h11.6M906.9 765.2v11.6M819.8 840.3h11.6M825.6 834.5v11.6M486.4 1109.6h11.6M492.2 1103.8v11.6M596.8 991.6h11.6M602.6 985.8v11.6M504.7 1079.3h11.6M510.5 1073.5v11.6M807.4 850.3h11.6M813.2 844.5v11.6M537.2 1066.5h11.6M543.0 1060.7v11.6M611.2 1004.6h11.6M617.0 998.8v11.6M763.3 883.4h11.6M769.1 877.6v11.6M600.7 1008.5h11.6M606.5 1002.7v11.6M522.1 1060.8h11.6M527.9 1055.0v11.6M554.0 1066.1h11.6M559.8 1060.3v11.6M629.1 987.7h11.6M634.9 981.9v11.6M644.9 971.0h11.6M650.7 965.2v11.6M731.3 902.7h11.6M737.1 896.9v11.6M684.0 949.3h11.6M689.8 943.5v11.6M487.3 1117.0h11.6M493.1 1111.2v11.6M782.0 865.9h11.6M787.8 860.1v11.6M628.0 976.4h11.6M633.8 970.6v11.6M704.5 925.3h11.6M710.3 919.5v11.6M575.5 1033.1h11.6M581.3 1027.3v11.6M513.8 1091.1h11.6M519.6 1085.3v11.6M607.0 993.1h11.6M612.8 987.3v11.6M817.4 845.0h11.6M823.2 839.2v11.6M838.9 822.9h11.6M844.7 817.1v11.6M642.7 967.0h11.6M648.5 961.2v11.6M765.9 879.0h11.6M771.7 873.2v11.6M720.0 914.9h11.6M725.8 909.1v11.6M512.1 1068.9h11.6M517.9 1063.1v11.6M571.4 1047.7h11.6M577.2 1041.9v11.6M574.9 1044.2h11.6M580.7 1038.4v11.6M702.9 933.2h11.6M708.7 927.4v11.6M535.7 1050.6h11.6M541.5 1044.8v11.6M620.2 984.2h11.6M626.0 978.4v11.6M565.9 1041.3h11.6M571.7 1035.5v11.6M861.7 798.9h11.6M867.5 793.1v11.6M822.5 832.4h11.6M828.3 826.6v11.6M661.7 963.6h11.6M667.5 957.8v11.6M554.2 1054.4h11.6M560.0 1048.6v11.6M661.8 954.9h11.6M667.6 949.1v11.6M622.8 985.9h11.6M628.6 980.1v11.6M655.4 965.9h11.6M661.2 960.1v11.6M811.3 844.3h11.6M817.1 838.5v11.6M676.5 943.8h11.6M682.3 938.0v11.6M569.0 1035.7h11.6M574.8 1029.9v11.6M516.2 1063.7h11.6M522.0 1057.9v11.6M606.5 999.7h11.6M612.3 993.9v11.6M543.5 1066.6h11.6M549.3 1060.8v11.6M571.5 1047.0h11.6M577.3 1041.2v11.6M553.2 1057.8h11.6M559.0 1052.0v11.6M581.2 1041.2h11.6M587.0 1035.4v11.6M624.7 996.7h11.6M630.5 990.9v11.6M583.1 1015.4h11.6M588.9 1009.6v11.6M821.7 841.3h11.6M827.5 835.5v11.6M648.3 974.4h11.6M654.1 968.6v11.6M570.3 1036.4h11.6M576.1 1030.6v11.6M676.1 943.7h11.6M681.9 937.9v11.6M526.5 1070.9h11.6M532.3 1065.1v11.6M849.6 817.0h11.6M855.4 811.2v11.6M802.8 853.9h11.6M808.6 848.1v11.6M645.9 976.3h11.6M651.7 970.5v11.6M691.0 935.7h11.6M696.8 929.9v11.6M534.9 1058.2h11.6M540.7 1052.4v11.6M621.8 989.9h11.6M627.6 984.1v11.6M540.4 1052.7h11.6M546.2 1046.9v11.6M760.6 882.4h11.6M766.4 876.6v11.6M685.9 945.7h11.6M691.7 939.9v11.6M830.3 828.2h11.6M836.1 822.4v11.6M879.4 790.4h11.6M885.2 784.6v11.6M882.5 791.3h11.6M888.3 785.5v11.6M569.1 1047.9h11.6M574.9 1042.1v11.6M567.2 1042.2h11.6M573.0 1036.4v11.6M743.3 901.0h11.6M749.1 895.2v11.6M708.9 931.1h11.6M714.7 925.3v11.6M715.4 929.7h11.6M721.2 923.9v11.6M641.9 978.3h11.6M647.7 972.5v11.6M573.1 1026.1h11.6M578.9 1020.3v11.6M789.6 861.4h11.6M795.4 855.6v11.6M557.2 1043.7h11.6M563.0 1037.9v11.6M631.1 993.9h11.6M636.9 988.1v11.6M630.1 986.5h11.6M635.9 980.7v11.6M642.0 972.0h11.6M647.8 966.2v11.6M565.4 1038.9h11.6M571.2 1033.1v11.6M704.4 932.0h11.6M710.2 926.2v11.6M524.7 1062.3h11.6M530.5 1056.5v11.6M831.0 831.7h11.6M836.8 825.9v11.6M763.2 882.6h11.6M769.0 876.8v11.6M778.2 874.6h11.6M784.0 868.8v11.6M803.4 850.1h11.6M809.2 844.3v11.6M798.0 853.5h11.6M803.8 847.7v11.6M882.6 789.2h11.6M888.4 783.4v11.6M548.3 1069.0h11.6M554.1 1063.2v11.6M530.1 1070.8h11.6M535.9 1065.0v11.6M571.3 1034.1h11.6M577.1 1028.3v11.6M615.1 999.4h11.6M620.9 993.6v11.6M575.1 1038.0h11.6M580.9 1032.2v11.6M555.4 1020.0h11.6M561.2 1014.2v11.6M572.3 1009.8h11.6M578.1 1004.0v11.6M583.8 1022.6h11.6M589.6 1016.8v11.6M565.1 1029.6h11.6M570.9 1023.8v11.6M657.6 965.5h11.6M663.4 959.7v11.6M776.8 865.7h11.6M782.6 859.9v11.6M783.1 860.3h11.6M788.9 854.5v11.6M518.7 1073.1h11.6M524.5 1067.3v11.6M557.7 1047.7h11.6M563.5 1041.9v11.6M628.5 986.4h11.6M634.3 980.6v11.6M543.5 1051.7h11.6M549.3 1045.9v11.6M598.7 1014.5h11.6M604.5 1008.7v11.6M846.5 817.9h11.6M852.3 812.1v11.6M638.9 985.3h11.6M644.7 979.5v11.6M619.5 989.4h11.6M625.3 983.6v11.6M706.6 922.5h11.6M712.4 916.7v11.6M817.2 842.6h11.6M823.0 836.8v11.6M542.5 1053.5h11.6M548.3 1047.7v11.6M853.6 807.0h11.6M859.4 801.2v11.6M578.0 1040.8h11.6M583.8 1035.0v11.6M901.2 772.2h11.6M907.0 766.4v11.6M560.5 1042.5h11.6M566.3 1036.7v11.6M785.4 862.9h11.6M791.2 857.1v11.6M649.6 975.0h11.6M655.4 969.2v11.6M865.9 795.1h11.6M871.7 789.3v11.6M544.7 1068.6h11.6M550.5 1062.8v11.6M659.4 956.1h11.6M665.2 950.3v11.6M560.1 1049.8h11.6M565.9 1044.0v11.6M566.5 1048.4h11.6M572.3 1042.6v11.6M797.7 855.3h11.6M803.5 849.5v11.6M876.3 796.8h11.6M882.1 791.0v11.6M608.7 1015.4h11.6M614.5 1009.6v11.6M863.8 806.5h11.6M869.6 800.7v11.6M644.5 979.1h11.6M650.3 973.3v11.6M739.0 896.5h11.6M744.8 890.7v11.6M689.1 938.9h11.6M694.9 933.1v11.6M724.6 910.9h11.6M730.4 905.1v11.6M585.5 1017.8h11.6M591.3 1012.0v11.6M654.3 963.7h11.6M660.1 957.9v11.6M566.8 1026.8h11.6M572.6 1021.0v11.6M595.8 1009.6h11.6M601.6 1003.8v11.6M564.7 1068.0h11.6M570.5 1062.2v11.6M563.3 1049.5h11.6M569.1 1043.7v11.6M714.3 916.8h11.6M720.1 911.0v11.6M550.4 1032.3h11.6M556.2 1026.5v11.6M657.5 964.8h11.6M663.3 959.0v11.6M853.6 811.3h11.6M859.4 805.5v11.6M598.7 1013.8h11.6M604.5 1008.0v11.6M821.5 834.1h11.6M827.3 828.3v11.6M557.4 1033.3h11.6M563.2 1027.5v11.6M693.8 936.1h11.6M699.6 930.3v11.6M739.2 898.7h11.6M745.0 892.9v11.6M630.6 991.9h11.6M636.4 986.1v11.6M551.4 1058.1h11.6M557.2 1052.3v11.6M536.6 1056.5h11.6M542.4 1050.7v11.6M538.7 1048.1h11.6M544.5 1042.3v11.6M880.6 792.2h11.6M886.4 786.4v11.6M594.2 1017.6h11.6M600.0 1011.8v11.6M586.6 1020.8h11.6M592.4 1015.0v11.6M512.8 1083.2h11.6M518.6 1077.4v11.6M685.9 945.7h11.6M691.7 939.9v11.6M611.2 990.7h11.6M617.0 984.9v11.6M779.2 864.2h11.6M785.0 858.4v11.6M748.6 890.6h11.6M754.4 884.8v11.6M723.3 914.5h11.6M729.1 908.7v11.6M639.5 971.6h11.6M645.3 965.8v11.6M721.4 911.2h11.6M727.2 905.4v11.6M628.7 1002.9h11.6M634.5 997.1v11.6M710.7 919.3h11.6M716.5 913.5v11.6M528.9 1056.5h11.6M534.7 1050.7v11.6M568.6 1033.8h11.6M574.4 1028.0v11.6M579.4 998.7h11.6M585.2 992.9v11.6M676.1 940.8h11.6M681.9 935.0v11.6M565.7 1029.5h11.6M571.5 1023.7v11.6M743.9 895.6h11.6M749.7 889.8v11.6M653.3 961.9h11.6M659.1 956.1v11.6M623.6 999.0h11.6M629.4 993.2v11.6M583.6 1047.7h11.6M589.4 1041.9v11.6M601.1 1003.2h11.6M606.9 997.4v11.6M721.4 923.8h11.6M727.2 918.0v11.6M591.8 1008.6h11.6M597.6 1002.8v11.6"/>
<path class="mk" d="M589.1 1025.3h11.6M594.9 1019.5v11.6M533.8 1054.7h11.6M539.6 1048.9v11.6M696.5 942.9h11.6M702.3 937.1v11.6M865.0 805.1h11.6M870.8 799.3v11.6M621.7 983.7h11.6M627.5 977.9v11.6M823.9 827.4h11.6M829.7 821.6v11.6M588.8 1008.2h11.6M594.6 1002.4v11.6M727.8 907.1h11.6M733.6 901.3v11.6M536.2 1090.0h11.6M542.0 1084.2v11.6M629.2 982.6h11.6M635.0 976.8v11.6M616.5 999.0h11.6M622.3 993.2v11.6M758.0 887.4h11.6M763.8 881.6v11.6M642.4 979.2h11.6M648.2 973.4v11.6M604.4 992.3h11.6M610.2 986.5v11.6M637.3 968.7h11.6M643.1 962.9v11.6M516.8 1083.0h11.6M522.6 1077.2v11.6M617.1 995.4h11.6M622.9 989.6v11.6M563.9 1044.1h11.6M569.7 1038.3v11.6M607.5 1012.8h11.6M613.3 1007.0v11.6M703.7 928.8h11.6M709.5 923.0v11.6M492.1 1084.9h11.6M497.9 1079.1v11.6M875.6 800.4h11.6M881.4 794.6v11.6M671.3 957.0h11.6M677.1 951.2v11.6M586.1 1005.2h11.6M591.9 999.4v11.6M813.1 841.3h11.6M818.9 835.5v11.6M787.0 869.2h11.6M792.8 863.4v11.6M543.6 1047.8h11.6M549.4 1042.0v11.6M624.3 970.2h11.6M630.1 964.4v11.6M715.1 920.5h11.6M720.9 914.7v11.6M673.7 960.0h11.6M679.5 954.2v11.6M536.2 1057.1h11.6M542.0 1051.3v11.6M771.6 871.3h11.6M777.4 865.5v11.6M629.9 988.3h11.6M635.7 982.5v11.6M722.1 915.4h11.6M727.9 909.6v11.6M591.1 1041.1h11.6M596.9 1035.3v11.6M770.9 883.9h11.6M776.7 878.1v11.6M630.7 1004.6h11.6M636.5 998.8v11.6M815.5 840.9h11.6M821.3 835.1v11.6M693.5 927.5h11.6M699.3 921.7v11.6M810.0 843.0h11.6M815.8 837.2v11.6M545.9 1043.9h11.6M551.7 1038.1v11.6M513.5 1097.7h11.6M519.3 1091.9v11.6M604.8 1011.0h11.6M610.6 1005.2v11.6M555.0 1057.1h11.6M560.8 1051.3v11.6M746.5 898.5h11.6M752.3 892.7v11.6M640.3 971.1h11.6M646.1 965.3v11.6M575.1 1029.2h11.6M580.9 1023.4v11.6M875.5 797.7h11.6M881.3 791.9v11.6M694.7 941.6h11.6M700.5 935.8v11.6M619.6 989.2h11.6M625.4 983.4v11.6M713.8 912.4h11.6M719.6 906.6v11.6M515.6 1065.8h11.6M521.4 1060.0v11.6M531.0 1077.1h11.6M536.8 1071.3v11.6M807.0 841.3h11.6M812.8 835.5v11.6M510.2 1074.6h11.6M516.0 1068.8v11.6M843.3 822.4h11.6M849.1 816.6v11.6M542.2 1061.7h11.6M548.0 1055.9v11.6M622.4 982.7h11.6M628.2 976.9v11.6M615.6 986.5h11.6M621.4 980.7v11.6M773.1 877.2h11.6M778.9 871.4v11.6M605.0 1015.8h11.6M610.8 1010.0v11.6M856.9 811.5h11.6M862.7 805.7v11.6M632.9 981.0h11.6M638.7 975.2v11.6M649.0 980.4h11.6M654.8 974.6v11.6M597.0 1010.7h11.6M602.8 1004.9v11.6M639.9 967.1h11.6M645.7 961.3v11.6M538.4 1050.7h11.6M544.2 1044.9v11.6M657.8 961.4h11.6M663.6 955.6v11.6M826.7 835.1h11.6M832.5 829.3v11.6M591.4 1000.1h11.6M597.2 994.3v11.6M727.1 920.9h11.6M732.9 915.1v11.6M583.8 1027.7h11.6M589.6 1021.9v11.6M848.8 813.8h11.6M854.6 808.0v11.6M513.5 1061.6h11.6M519.3 1055.8v11.6M506.7 1103.9h11.6M512.5 1098.1v11.6M533.3 1079.6h11.6M539.1 1073.8v11.6M520.6 1079.3h11.6M526.4 1073.5v11.6M583.3 993.3h11.6M589.1 987.5v11.6M566.6 1037.8h11.6M572.4 1032.0v11.6M776.9 869.1h11.6M782.7 863.3v11.6M866.3 795.6h11.6M872.1 789.8v11.6M565.4 1065.4h11.6M571.2 1059.6v11.6M519.4 1079.3h11.6M525.2 1073.5v11.6M754.3 888.3h11.6M760.1 882.5v11.6M605.7 999.1h11.6M611.5 993.3v11.6M522.2 1070.0h11.6M528.0 1064.2v11.6M566.2 1052.1h11.6M572.0 1046.3v11.6M573.2 1038.4h11.6M579.0 1032.6v11.6M830.3 828.8h11.6M836.1 823.0v11.6M694.0 941.7h11.6M699.8 935.9v11.6M819.1 838.4h11.6M824.9 832.6v11.6M828.7 834.9h11.6M834.5 829.1v11.6M607.5 1009.0h11.6M613.3 1003.2v11.6M851.3 824.5h11.6M857.1 818.7v11.6M815.5 840.6h11.6M821.3 834.8v11.6M537.5 1069.1h11.6M543.3 1063.3v11.6M822.2 836.4h11.6M828.0 830.6v11.6M651.3 979.8h11.6M657.1 974.0v11.6M652.6 977.6h11.6M658.4 971.8v11.6M518.4 1084.1h11.6M524.2 1078.3v11.6M516.9 1082.5h11.6M522.7 1076.7v11.6M632.5 984.8h11.6M638.3 979.0v11.6M563.2 1040.9h11.6M569.0 1035.1v11.6M748.9 895.5h11.6M754.7 889.7v11.6M650.7 970.6h11.6M656.5 964.8v11.6M584.1 1025.9h11.6M589.9 1020.1v11.6M722.4 913.6h11.6M728.2 907.8v11.6M578.6 1017.8h11.6M584.4 1012.0v11.6M639.9 979.1h11.6M645.7 973.3v11.6M627.5 986.7h11.6M633.3 980.9v11.6M533.4 1065.9h11.6M539.2 1060.1v11.6M577.0 1033.5h11.6M582.8 1027.7v11.6M672.0 956.1h11.6M677.8 950.3v11.6M611.4 1007.7h11.6M617.2 1001.9v11.6M553.6 1072.8h11.6M559.4 1067.0v11.6M675.8 948.4h11.6M681.6 942.6v11.6M704.8 929.3h11.6M710.6 923.5v11.6M846.5 818.3h11.6M852.3 812.5v11.6M628.9 979.3h11.6M634.7 973.5v11.6M520.6 1064.4h11.6M526.4 1058.6v11.6M642.8 971.4h11.6M648.6 965.6v11.6M727.2 900.2h11.6M733.0 894.4v11.6M561.8 1037.8h11.6M567.6 1032.0v11.6M607.4 1018.0h11.6M613.2 1012.2v11.6M823.3 832.2h11.6M829.1 826.4v11.6M695.4 931.5h11.6M701.2 925.7v11.6M661.0 954.2h11.6M666.8 948.4v11.6M783.9 866.4h11.6M789.7 860.6v11.6M620.6 989.0h11.6M626.4 983.2v11.6M757.4 894.8h11.6M763.2 889.0v11.6M720.8 912.3h11.6M726.6 906.5v11.6M555.5 1039.6h11.6M561.3 1033.8v11.6M760.5 878.0h11.6M766.3 872.2v11.6M529.0 1045.7h11.6M534.8 1039.9v11.6M674.5 949.1h11.6M680.3 943.3v11.6M784.0 861.0h11.6M789.8 855.2v11.6M733.1 903.0h11.6M738.9 897.2v11.6M543.4 1052.6h11.6M549.2 1046.8v11.6M599.9 991.0h11.6M605.7 985.2v11.6M674.2 947.9h11.6M680.0 942.1v11.6M550.1 1041.2h11.6M555.9 1035.4v11.6M697.6 934.3h11.6M703.4 928.5v11.6M688.7 942.4h11.6M694.5 936.6v11.6M635.0 975.5h11.6M640.8 969.7v11.6M574.0 1039.1h11.6M579.8 1033.3v11.6M776.3 859.1h11.6M782.1 853.3v11.6M657.2 948.0h11.6M663.0 942.2v11.6M568.6 1048.2h11.6M574.4 1042.4v11.6M503.9 1070.2h11.6M509.7 1064.4v11.6M595.9 1025.3h11.6M601.7 1019.5v11.6M734.0 906.2h11.6M739.8 900.4v11.6M549.7 1044.0h11.6M555.5 1038.2v11.6M712.4 923.4h11.6M718.2 917.6v11.6M681.1 940.4h11.6M686.9 934.6v11.6M542.6 1058.1h11.6M548.4 1052.3v11.6M486.6 1119.0h11.6M492.4 1113.2v11.6M562.2 1031.5h11.6M568.0 1025.7v11.6M636.4 984.9h11.6M642.2 979.1v11.6M768.6 868.4h11.6M774.4 862.6v11.6M838.7 824.7h11.6M844.5 818.9v11.6M851.3 817.5h11.6M857.1 811.7v11.6M750.3 893.3h11.6M756.1 887.5v11.6M706.1 922.7h11.6M711.9 916.9v11.6M864.2 810.9h11.6M870.0 805.1v11.6M523.9 1043.7h11.6M529.7 1037.9v11.6M617.8 999.4h11.6M623.6 993.6v11.6M689.2 936.3h11.6M695.0 930.5v11.6M661.0 960.7h11.6M666.8 954.9v11.6M623.9 971.6h11.6M629.7 965.8v11.6M823.0 835.1h11.6M828.8 829.3v11.6M639.0 995.1h11.6M644.8 989.3v11.6M828.9 828.2h11.6M834.7 822.4v11.6M718.7 915.0h11.6M724.5 909.2v11.6M667.8 955.8h11.6M673.6 950.0v11.6M769.3 882.1h11.6M775.1 876.3v11.6M574.5 1022.0h11.6M580.3 1016.2v11.6M551.0 1058.6h11.6M556.8 1052.8v11.6M788.7 857.7h11.6M794.5 851.9v11.6M625.9 971.4h11.6M631.7 965.6v11.6M519.4 1070.7h11.6M525.2 1064.9v11.6M531.0 1061.8h11.6M536.8 1056.0v11.6M694.3 935.4h11.6M700.1 929.6v11.6M741.1 884.0h11.6M746.9 878.2v11.6M611.8 1005.2h11.6M617.6 999.4v11.6M555.3 1032.9h11.6M561.1 1027.1v11.6M644.1 984.3h11.6M649.9 978.5v11.6M790.4 865.8h11.6M796.2 860.0v11.6M770.1 883.8h11.6M775.9 878.0v11.6M792.4 859.0h11.6M798.2 853.2v11.6M553.7 1062.8h11.6M559.5 1057.0v11.6M565.8 1032.5h11.6M571.6 1026.7v11.6M536.8 1056.4h11.6M542.6 1050.6v11.6M638.5 987.5h11.6M644.3 981.7v11.6M749.8 896.6h11.6M755.6 890.8v11.6M549.7 1060.8h11.6M555.5 1055.0v11.6M631.8 988.9h11.6M637.6 983.1v11.6M844.8 816.7h11.6M850.6 810.9v11.6M545.9 1063.0h11.6M551.7 1057.2v11.6M581.2 1033.1h11.6M587.0 1027.3v11.6M511.7 1084.2h11.6M517.5 1078.4v11.6"/>
<path class="mk" d="M853.7 821.1h11.6M859.5 815.3v11.6M834.0 827.9h11.6M839.8 822.1v11.6M721.3 915.7h11.6M727.1 909.9v11.6M844.0 824.5h11.6M849.8 818.7v11.6M829.9 830.3h11.6M835.7 824.5v11.6M648.3 973.0h11.6M654.1 967.2v11.6M856.9 806.1h11.6M862.7 800.3v11.6M637.7 988.8h11.6M643.5 983.0v11.6M613.1 1008.1h11.6M618.9 1002.3v11.6M583.6 1014.2h11.6M589.4 1008.4v11.6M613.6 991.5h11.6M619.4 985.7v11.6M717.4 917.1h11.6M723.2 911.3v11.6M554.7 1055.4h11.6M560.5 1049.6v11.6M549.4 1066.9h11.6M555.2 1061.1v11.6M705.9 924.1h11.6M711.7 918.3v11.6M678.9 955.5h11.6M684.7 949.7v11.6M770.4 869.2h11.6M776.2 863.4v11.6M640.6 978.0h11.6M646.4 972.2v11.6M803.8 854.4h11.6M809.6 848.6v11.6M602.3 992.0h11.6M608.1 986.2v11.6M722.8 905.8h11.6M728.6 900.0v11.6M578.9 1024.8h11.6M584.7 1019.0v11.6M575.3 1032.6h11.6M581.1 1026.8v11.6M551.8 1050.7h11.6M557.6 1044.9v11.6M549.2 1054.5h11.6M555.0 1048.7v11.6M649.0 971.2h11.6M654.8 965.4v11.6M694.6 931.5h11.6M700.4 925.7v11.6M879.1 791.0h11.6M884.9 785.2v11.6M575.6 1034.7h11.6M581.4 1028.9v11.6M676.8 941.3h11.6M682.6 935.5v11.6M683.4 947.2h11.6M689.2 941.4v11.6M573.6 1003.2h11.6M579.4 997.4v11.6M618.4 1003.9h11.6M624.2 998.1v11.6M714.5 912.3h11.6M720.3 906.5v11.6M704.0 928.3h11.6M709.8 922.5v11.6M857.0 806.0h11.6M862.8 800.2v11.6M625.7 994.6h11.6M631.5 988.8v11.6M540.5 1068.3h11.6M546.3 1062.5v11.6M855.5 821.1h11.6M861.3 815.3v11.6M677.7 955.6h11.6M683.5 949.8v11.6M778.4 869.6h11.6M784.2 863.8v11.6M601.2 1017.5h11.6M607.0 1011.7v11.6M574.5 1027.0h11.6M580.3 1021.2v11.6M553.0 1037.4h11.6M558.8 1031.6v11.6M794.5 854.4h11.6M800.3 848.6v11.6M886.6 786.3h11.6M892.4 780.5v11.6M706.4 938.0h11.6M712.2 932.2v11.6M843.0 817.9h11.6M848.8 812.1v11.6M560.0 1047.5h11.6M565.8 1041.7v11.6M870.0 801.7h11.6M875.8 795.9v11.6M549.9 1058.4h11.6M555.7 1052.6v11.6M643.7 972.3h11.6M649.5 966.5v11.6M595.9 1011.7h11.6M601.7 1005.9v11.6M532.9 1065.0h11.6M538.7 1059.2v11.6M508.3 1104.2h11.6M514.1 1098.4v11.6M524.6 1092.5h11.6M530.4 1086.7v11.6M649.0 967.4h11.6M654.8 961.6v11.6M557.6 1041.8h11.6M563.4 1036.0v11.6M634.6 986.1h11.6M640.4 980.3v11.6M760.3 892.0h11.6M766.1 886.2v11.6M592.1 1031.6h11.6M597.9 1025.8v11.6M799.2 853.4h11.6M805.0 847.6v11.6M544.6 1041.8h11.6M550.4 1036.0v11.6M845.1 818.1h11.6M850.9 812.3v11.6M563.6 1060.5h11.6M569.4 1054.7v11.6M704.9 919.6h11.6M710.7 913.8v11.6M843.7 826.5h11.6M849.5 820.7v11.6M594.7 1029.4h11.6M600.5 1023.6v11.6M543.0 1072.5h11.6M548.8 1066.7v11.6M680.0 946.1h11.6M685.8 940.3v11.6M763.1 885.0h11.6M768.9 879.2v11.6M537.3 1082.3h11.6M543.1 1076.5v11.6M508.0 1073.8h11.6M513.8 1068.0v11.6M674.5 957.4h11.6M680.3 951.6v11.6M763.7 880.5h11.6M769.5 874.7v11.6M627.0 995.1h11.6M632.8 989.3v11.6M874.1 791.2h11.6M879.9 785.4v11.6M795.5 862.9h11.6M801.3 857.1v11.6M545.9 1033.9h11.6M551.7 1028.1v11.6M724.2 917.8h11.6M730.0 912.0v11.6M660.8 938.0h11.6M666.6 932.2v11.6M654.0 960.0h11.6M659.8 954.2v11.6M544.1 1022.9h11.6M549.9 1017.1v11.6M709.2 914.6h11.6M715.0 908.9v11.6M738.7 902.3h11.6M744.5 896.5v11.6M574.7 1039.4h11.6M580.5 1033.6v11.6M734.6 897.3h11.6M740.4 891.5v11.6M581.3 1021.5h11.6M587.1 1015.7v11.6M864.5 807.5h11.6M870.3 801.7v11.6M552.1 1080.9h11.6M557.9 1075.1v11.6M604.6 1016.2h11.6M610.4 1010.4v11.6M725.0 907.8h11.6M730.8 902.0v11.6M612.0 1011.3h11.6M617.8 1005.5v11.6M810.8 850.0h11.6M816.6 844.2v11.6M836.1 823.0h11.6M841.9 817.2v11.6M828.0 835.4h11.6M833.8 829.6v11.6M628.6 989.8h11.6M634.4 984.0v11.6M567.4 1024.1h11.6M573.2 1018.3v11.6M564.7 1052.4h11.6M570.5 1046.6v11.6M659.9 955.1h11.6M665.7 949.3v11.6M746.5 893.8h11.6M752.3 888.0v11.6M571.6 1021.1h11.6M577.4 1015.3v11.6M734.7 918.6h11.6M740.5 912.8v11.6M705.4 919.3h11.6M711.2 913.5v11.6M780.9 871.1h11.6M786.7 865.3v11.6M553.6 1057.0h11.6M559.4 1051.2v11.6M611.0 1000.0h11.6M616.8 994.2v11.6M664.2 951.1h11.6M670.0 945.3v11.6M514.2 1077.8h11.6M520.0 1072.0v11.6M528.9 1084.4h11.6M534.7 1078.6v11.6M644.0 965.3h11.6M649.8 959.5v11.6M775.1 872.1h11.6M780.9 866.3v11.6M554.2 1036.8h11.6M560.0 1031.0v11.6M487.1 1086.5h11.6M492.9 1080.7v11.6M688.4 944.2h11.6M694.2 938.4v11.6M679.6 960.5h11.6M685.4 954.7v11.6M522.0 1069.2h11.6M527.8 1063.4v11.6M796.2 852.9h11.6M802.0 847.1v11.6M849.9 813.1h11.6M855.7 807.3v11.6M639.9 984.4h11.6M645.7 978.6v11.6M577.4 1016.8h11.6M583.2 1011.0v11.6M882.2 789.4h11.6M888.0 783.6v11.6M599.9 1009.3h11.6M605.7 1003.5v11.6M530.1 1044.0h11.6M535.9 1038.2v11.6M524.0 1063.7h11.6M529.8 1057.9v11.6M549.9 1041.6h11.6M555.7 1035.8v11.6M591.8 1025.8h11.6M597.6 1020.0v11.6M872.2 798.8h11.6M878.0 793.0v11.6M809.6 855.8h11.6M815.4 850.0v11.6M569.1 1020.0h11.6M574.9 1014.2v11.6M606.4 1032.0h11.6M612.2 1026.2v11.6M554.8 1036.0h11.6M560.6 1030.2v11.6M548.8 1065.0h11.6M554.6 1059.2v11.6M636.7 975.8h11.6M642.5 970.0v11.6M653.3 963.0h11.6M659.1 957.2v11.6M704.8 921.6h11.6M710.6 915.8v11.6M718.1 920.3h11.6M723.9 914.5v11.6M555.3 1054.6h11.6M561.1 1048.8v11.6M782.8 862.8h11.6M788.6 857.0v11.6M805.1 851.6h11.6M810.9 845.8v11.6M676.1 945.3h11.6M681.9 939.5v11.6M583.1 1043.9h11.6M588.9 1038.1v11.6M573.8 1040.9h11.6M579.6 1035.1v11.6M895.8 773.3h11.6M901.6 767.5v11.6M563.2 1009.5h11.6M569.0 1003.7v11.6M756.2 881.2h11.6M762.0 875.4v11.6M752.6 893.1h11.6M758.4 887.3v11.6M566.4 1049.8h11.6M572.2 1044.0v11.6M634.6 971.9h11.6M640.4 966.1v11.6M675.3 947.5h11.6M681.1 941.7v11.6M552.1 1050.7h11.6M557.9 1044.9v11.6M515.9 1077.1h11.6M521.7 1071.3v11.6M676.6 935.8h11.6M682.4 930.0v11.6M737.8 898.4h11.6M743.6 892.6v11.6M633.4 984.1h11.6M639.2 978.3v11.6M840.3 824.9h11.6M846.1 819.1v11.6M528.7 1075.3h11.6M534.5 1069.5v11.6M593.3 1027.1h11.6M599.1 1021.3v11.6M845.1 814.2h11.6M850.9 808.4v11.6M579.4 1027.2h11.6M585.2 1021.4v11.6M626.2 1002.7h11.6M632.0 996.9v11.6M575.4 1037.8h11.6M581.2 1032.0v11.6M767.1 880.8h11.6M772.9 875.0v11.6M705.9 926.6h11.6M711.7 920.8v11.6M665.3 948.5h11.6M671.1 942.8v11.6M683.7 950.9h11.6M689.5 945.1v11.6M502.4 1096.9h11.6M508.2 1091.1v11.6M576.5 1038.2h11.6M582.3 1032.4v11.6M498.3 1090.5h11.6M504.1 1084.7v11.6M539.3 1060.5h11.6M545.1 1054.7v11.6M526.8 1100.8h11.6M532.6 1095.0v11.6M715.9 920.2h11.6M721.7 914.4v11.6M533.6 1069.4h11.6M539.4 1063.6v11.6M674.6 954.0h11.6M680.4 948.2v11.6M816.1 843.5h11.6M821.9 837.7v11.6M667.4 953.0h11.6M673.2 947.2v11.6M614.0 1009.4h11.6M619.8 1003.6v11.6M562.9 1039.4h11.6M568.7 1033.6v11.6M596.1 1019.8h11.6M601.9 1014.0v11.6M607.9 993.3h11.6M613.7 987.5v11.6M651.5 986.4h11.6M657.3 980.6v11.6M619.0 997.2h11.6M624.8 991.4v11.6M628.6 976.0h11.6M634.4 970.2v11.6M571.4 1029.4h11.6M577.2 1023.6v11.6M827.9 832.1h11.6M833.7 826.3v11.6M624.6 993.3h11.6M630.4 987.5v11.6M876.9 798.7h11.6M882.7 792.9v11.6M841.5 822.8h11.6M847.3 817.0v11.6M517.0 1091.4h11.6M522.8 1085.6v11.6M804.5 850.6h11.6M810.3 844.8v11.6M516.9 1079.9h11.6M522.7 1074.1v11.6M716.7 914.8h11.6M722.5 909.0v11.6M500.2 1090.8h11.6M506.0 1085.0v11.6M713.0 930.2h11.6M718.8 924.4v11.6M827.1 829.0h11.6M832.9 823.2v11.6M547.5 1055.5h11.6M553.3 1049.7v11.6M619.4 988.5h11.6M625.2 982.7v11.6M554.6 1037.4h11.6M560.4 1031.6v11.6M507.5 1066.8h11.6M513.3 1061.0v11.6M848.9 811.7h11.6M854.7 805.9v11.6"/>
<path class="mk" d="M773.1 879.0h11.6M778.9 873.2v11.6M660.9 966.7h11.6M666.7 960.9v11.6M823.6 833.9h11.6M829.4 828.1v11.6M681.6 947.0h11.6M687.4 941.2v11.6M821.1 834.9h11.6M826.9 829.1v11.6M697.0 945.7h11.6M702.8 939.9v11.6M648.0 969.8h11.6M653.8 964.0v11.6M735.8 909.2h11.6M741.6 903.4v11.6M865.6 798.6h11.6M871.4 792.8v11.6M814.1 843.3h11.6M819.9 837.5v11.6M607.3 999.8h11.6M613.1 994.0v11.6M782.4 871.1h11.6M788.2 865.3v11.6M752.1 880.9h11.6M757.9 875.1v11.6M494.2 1093.7h11.6M500.0 1087.9v11.6M716.5 927.2h11.6M722.3 921.4v11.6M529.2 1058.8h11.6M535.0 1053.0v11.6M877.6 788.0h11.6M883.4 782.2v11.6M604.6 1011.5h11.6M610.4 1005.7v11.6M722.1 904.6h11.6M727.9 898.8v11.6M855.6 812.8h11.6M861.4 807.0v11.6M672.2 952.6h11.6M678.0 946.8v11.6M550.1 1054.4h11.6M555.9 1048.6v11.6M796.3 853.7h11.6M802.1 847.9v11.6M683.4 937.6h11.6M689.2 931.8v11.6M528.1 1089.7h11.6M533.9 1083.9v11.6M729.1 907.6h11.6M734.9 901.8v11.6M883.9 791.3h11.6M889.7 785.5v11.6M676.9 945.4h11.6M682.7 939.6v11.6M802.8 856.9h11.6M808.6 851.1v11.6M541.0 1079.4h11.6M546.8 1073.6v11.6M701.7 929.4h11.6M707.5 923.6v11.6M879.9 792.7h11.6M885.7 786.9v11.6M658.1 972.0h11.6M663.9 966.2v11.6M555.0 1069.3h11.6M560.8 1063.5v11.6M497.3 1106.8h11.6M503.1 1101.0v11.6M658.4 974.0h11.6M664.2 968.2v11.6M599.6 1004.8h11.6M605.4 999.0v11.6M876.0 799.1h11.6M881.8 793.3v11.6M674.6 951.1h11.6M680.4 945.3v11.6M812.6 852.4h11.6M818.4 846.6v11.6M845.6 818.7h11.6M851.4 812.9v11.6M651.2 970.3h11.6M657.0 964.5v11.6M712.5 921.6h11.6M718.3 915.8v11.6M692.9 939.8h11.6M698.7 934.0v11.6M579.2 1024.4h11.6M585.0 1018.6v11.6M812.7 856.7h11.6M818.5 850.9v11.6M838.2 826.3h11.6M844.0 820.5v11.6M861.2 801.2h11.6M867.0 795.4v11.6M682.0 947.1h11.6M687.8 941.3v11.6M506.8 1085.3h11.6M512.6 1079.5v11.6M786.2 849.7h11.6M792.0 843.9v11.6M737.1 889.6h11.6M742.9 883.8v11.6M508.6 1075.8h11.6M514.4 1070.0v11.6M596.2 1015.0h11.6M602.0 1009.2v11.6M548.9 1057.9h11.6M554.7 1052.1v11.6M615.4 997.8h11.6M621.2 992.0v11.6M656.8 974.5h11.6M662.6 968.7v11.6M570.5 1032.8h11.6M576.3 1027.0v11.6M585.1 1028.2h11.6M590.9 1022.4v11.6M748.6 893.5h11.6M754.4 887.7v11.6M536.3 1068.5h11.6M542.1 1062.7v11.6M562.7 1046.5h11.6M568.5 1040.7v11.6M774.3 873.9h11.6M780.1 868.1v11.6M783.0 871.2h11.6M788.8 865.4v11.6M567.2 1038.1h11.6M573.0 1032.3v11.6M833.0 833.9h11.6M838.8 828.1v11.6M576.0 1033.9h11.6M581.8 1028.1v11.6M625.0 992.9h11.6M630.8 987.1v11.6M690.6 946.8h11.6M696.4 941.0v11.6M654.2 965.0h11.6M660.0 959.2v11.6M574.0 1029.3h11.6M579.8 1023.5v11.6M736.2 907.1h11.6M742.0 901.3v11.6M615.2 1007.4h11.6M621.0 1001.6v11.6M639.0 974.7h11.6M644.8 968.9v11.6M581.2 1008.1h11.6M587.0 1002.3v11.6M851.2 817.5h11.6M857.0 811.7v11.6M497.5 1090.4h11.6M503.3 1084.6v11.6M821.1 831.8h11.6M826.9 826.0v11.6M755.4 884.1h11.6M761.2 878.3v11.6M632.9 965.8h11.6M638.7 960.0v11.6M833.2 831.7h11.6M839.0 825.9v11.6M814.3 844.6h11.6M820.1 838.8v11.6M626.6 998.5h11.6M632.4 992.7v11.6M851.9 813.0h11.6M857.7 807.2v11.6M810.6 840.3h11.6M816.4 834.5v11.6M685.3 954.1h11.6M691.1 948.3v11.6M726.8 910.0h11.6M732.6 904.2v11.6M587.4 1024.5h11.6M593.2 1018.7v11.6M611.9 1015.7h11.6M617.7 1009.9v11.6M870.0 801.3h11.6M875.8 795.5v11.6M681.6 949.4h11.6M687.4 943.6v11.6M503.6 1104.9h11.6M509.4 1099.1v11.6M575.0 1035.7h11.6M580.8 1029.9v11.6M535.4 1066.0h11.6M541.2 1060.2v11.6M680.6 954.2h11.6M686.4 948.4v11.6M524.2 1075.4h11.6M530.0 1069.6v11.6M740.3 895.8h11.6M746.1 890.0v11.6M709.0 929.5h11.6M714.8 923.7v11.6M555.8 1044.6h11.6M561.6 1038.8v11.6M690.6 933.4h11.6M696.4 927.6v11.6M670.9 962.1h11.6M676.7 956.3v11.6M621.3 979.8h11.6M627.1 974.0v11.6M593.8 1031.8h11.6M599.6 1026.0v11.6M560.3 1046.0h11.6M566.1 1040.2v11.6M727.0 906.2h11.6M732.8 900.4v11.6M636.9 984.2h11.6M642.7 978.4v11.6M618.5 998.1h11.6M624.3 992.3v11.6M572.8 1019.3h11.6M578.6 1013.5v11.6M741.0 894.2h11.6M746.8 888.4v11.6M712.4 926.6h11.6M718.2 920.8v11.6M501.7 1102.2h11.6M507.5 1096.4v11.6M720.5 905.9h11.6M726.3 900.1v11.6M880.2 789.1h11.6M886.0 783.3v11.6M851.9 811.9h11.6M857.7 806.1v11.6M511.2 1068.3h11.6M517.0 1062.5v11.6M608.5 1007.1h11.6M614.3 1001.3v11.6M510.4 1092.6h11.6M516.2 1086.8v11.6M563.3 1040.6h11.6M569.1 1034.8v11.6M679.8 938.6h11.6M685.6 932.8v11.6M598.5 1006.3h11.6M604.3 1000.5v11.6M521.1 1089.6h11.6M526.9 1083.8v11.6M547.1 1039.7h11.6M552.9 1033.9v11.6M809.9 847.6h11.6M815.7 841.8v11.6M589.9 993.0h11.6M595.7 987.2v11.6M631.9 988.2h11.6M637.7 982.4v11.6M563.1 1031.8h11.6M568.9 1026.0v11.6M528.8 1087.4h11.6M534.6 1081.6v11.6M686.7 944.5h11.6M692.5 938.7v11.6M651.5 988.4h11.6M657.3 982.6v11.6M718.5 922.4h11.6M724.3 916.6v11.6M854.3 808.9h11.6M860.1 803.1v11.6M716.5 926.8h11.6M722.3 921.0v11.6M875.4 791.6h11.6M881.2 785.8v11.6M868.9 797.4h11.6M874.7 791.6v11.6M551.0 1057.3h11.6M556.8 1051.5v11.6M647.0 969.3h11.6M652.8 963.5v11.6M675.0 954.9h11.6M680.8 949.1v11.6M775.4 868.2h11.6M781.2 862.4v11.6M726.4 909.7h11.6M732.2 903.9v11.6M872.6 794.4h11.6M878.4 788.6v11.6M544.3 1078.0h11.6M550.1 1072.2v11.6M626.2 1005.4h11.6M632.0 999.6v11.6M739.9 897.6h11.6M745.7 891.8v11.6M686.6 944.2h11.6M692.4 938.4v11.6M774.5 880.4h11.6M780.3 874.6v11.6M647.3 961.7h11.6M653.1 955.9v11.6M590.2 1036.0h11.6M596.0 1030.2v11.6M773.4 865.8h11.6M779.2 860.0v11.6M742.5 890.7h11.6M748.3 884.9v11.6M746.5 897.0h11.6M752.3 891.2v11.6M752.6 883.4h11.6M758.4 877.6v11.6M558.6 1039.4h11.6M564.4 1033.6v11.6M654.7 973.0h11.6M660.5 967.2v11.6M577.0 1029.6h11.6M582.8 1023.8v11.6M545.4 1089.2h11.6M551.2 1083.4v11.6M553.1 1043.6h11.6M558.9 1037.8v11.6M765.8 884.6h11.6M771.6 878.8v11.6M785.6 862.6h11.6M791.4 856.8v11.6M590.2 1028.0h11.6M596.0 1022.2v11.6M825.8 835.1h11.6M831.6 829.3v11.6M552.0 1048.3h11.6M557.8 1042.5v11.6M655.4 959.1h11.6M661.2 953.3v11.6M562.0 1041.1h11.6M567.8 1035.3v11.6M799.9 851.1h11.6M805.7 845.3v11.6M732.0 918.0h11.6M737.8 912.2v11.6M516.9 1094.1h11.6M522.7 1088.3v11.6M757.2 875.6h11.6M763.0 869.8v11.6M644.8 986.3h11.6M650.6 980.5v11.6M603.6 1022.1h11.6M609.4 1016.3v11.6M621.1 1000.0h11.6M626.9 994.2v11.6M763.4 885.5h11.6M769.2 879.7v11.6M688.9 926.0h11.6M694.7 920.2v11.6M770.9 866.8h11.6M776.7 861.0v11.6M590.9 1025.2h11.6M596.7 1019.4v11.6M710.7 926.0h11.6M716.5 920.2v11.6M530.2 1071.2h11.6M536.0 1065.4v11.6M611.0 990.6h11.6M616.8 984.8v11.6M852.5 816.9h11.6M858.3 811.1v11.6M722.4 921.9h11.6M728.2 916.1v11.6M510.6 1096.7h11.6M516.4 1090.9v11.6M689.1 942.1h11.6M694.9 936.3v11.6M803.2 846.7h11.6M809.0 840.9v11.6M692.7 946.6h11.6M698.5 940.8v11.6M657.1 957.9h11.6M662.9 952.1v11.6M610.4 1006.9h11.6M616.2 1001.1v11.6M571.6 1036.4h11.6M577.4 1030.6v11.6M862.5 805.9h11.6M868.3 800.1v11.6M670.7 955.6h11.6M676.5 949.8v11.6M613.3 1034.0h11.6M619.1 1028.2v11.6M569.8 1012.1h11.6M575.6 1006.3v11.6M672.8 954.7h11.6M678.6 948.9v11.6M803.7 855.3h11.6M809.5 849.5v11.6M740.8 906.6h11.6M746.6 900.8v11.6M578.1 1028.6h11.6M583.9 1022.8v11.6M622.7 992.6h11.6M628.5 986.8v11.6M641.0 981.5h11.6M646.8 975.7v11.6M517.3 1085.0h11.6M523.1 1079.2v11.6M549.0 1026.2h11.6M554.8 1020.4v11.6M690.6 942.2h11.6M696.4 936.4v11.6M854.7 809.4h11.6M860.5 803.6v11.6"/>
<path class="mk" d="M530.8 1072.9h11.6M536.6 1067.1v11.6M842.4 823.6h11.6M848.2 817.8v11.6M741.2 902.0h11.6M747.0 896.2v11.6M612.3 989.1h11.6M618.1 983.3v11.6M672.5 963.4h11.6M678.3 957.6v11.6M589.7 1024.3h11.6M595.5 1018.5v11.6M714.2 926.4h11.6M720.0 920.6v11.6M500.9 1073.5h11.6M506.7 1067.7v11.6M738.7 897.0h11.6M744.5 891.2v11.6M765.6 879.8h11.6M771.4 874.0v11.6M851.3 811.7h11.6M857.1 805.9v11.6M847.0 826.9h11.6M852.8 821.1v11.6M815.6 837.4h11.6M821.4 831.6v11.6M517.3 1065.3h11.6M523.1 1059.5v11.6M539.0 1049.6h11.6M544.8 1043.8v11.6M784.1 870.9h11.6M789.9 865.1v11.6M554.0 1033.4h11.6M559.8 1027.6v11.6M877.1 794.1h11.6M882.9 788.3v11.6M851.9 826.9h11.6M857.7 821.1v11.6M764.9 874.2h11.6M770.7 868.4v11.6M636.6 976.8h11.6M642.4 971.0v11.6M557.6 1059.5h11.6M563.4 1053.7v11.6M812.6 835.4h11.6M818.4 829.6v11.6M610.2 993.8h11.6M616.0 988.0v11.6M811.0 841.7h11.6M816.8 835.9v11.6M706.7 924.7h11.6M712.5 918.9v11.6M639.0 967.0h11.6M644.8 961.2v11.6M662.1 975.4h11.6M667.9 969.6v11.6M806.2 850.9h11.6M812.0 845.1v11.6M542.7 1062.5h11.6M548.5 1056.7v11.6M529.9 1061.8h11.6M535.7 1056.0v11.6M654.2 948.1h11.6M660.0 942.3v11.6M571.2 1045.1h11.6M577.0 1039.3v11.6M610.3 999.0h11.6M616.1 993.2v11.6M586.6 1031.3h11.6M592.4 1025.5v11.6M681.8 951.3h11.6M687.6 945.5v11.6M824.0 830.8h11.6M829.8 825.0v11.6M749.5 892.0h11.6M755.3 886.2v11.6M702.7 935.8h11.6M708.5 930.0v11.6M612.8 1015.8h11.6M618.6 1010.0v11.6M596.4 1015.9h11.6M602.2 1010.1v11.6M617.3 1013.8h11.6M623.1 1008.0v11.6M892.2 783.0h11.6M898.0 777.2v11.6M640.7 986.5h11.6M646.5 980.7v11.6M636.6 989.6h11.6M642.4 983.8v11.6M651.4 972.4h11.6M657.2 966.6v11.6M881.6 790.3h11.6M887.4 784.5v11.6M718.9 909.4h11.6M724.7 903.6v11.6M595.1 1028.8h11.6M600.9 1023.0v11.6M699.4 925.6h11.6M705.2 919.8v11.6M561.7 1062.1h11.6M567.5 1056.3v11.6M804.4 849.5h11.6M810.2 843.7v11.6M543.0 1091.0h11.6M548.8 1085.2v11.6M684.5 950.0h11.6M690.3 944.2v11.6M722.8 911.2h11.6M728.6 905.4v11.6M625.7 989.7h11.6M631.5 983.9v11.6M711.2 924.9h11.6M717.0 919.1v11.6M632.7 977.4h11.6M638.5 971.6v11.6M585.9 1037.4h11.6M591.7 1031.6v11.6M643.9 977.8h11.6M649.7 972.0v11.6M662.7 949.1h11.6M668.5 943.3v11.6M715.1 923.5h11.6M720.9 917.7v11.6M772.1 876.2h11.6M777.9 870.4v11.6M664.4 951.7h11.6M670.2 945.9v11.6M631.2 997.3h11.6M637.0 991.5v11.6M563.6 1022.9h11.6M569.4 1017.1v11.6M644.4 974.7h11.6M650.2 968.9v11.6M771.7 877.0h11.6M777.5 871.2v11.6M881.5 792.9h11.6M887.3 787.1v11.6M693.2 933.3h11.6M699.0 927.5v11.6M824.2 828.7h11.6M830.0 822.9v11.6M640.4 994.6h11.6M646.2 988.8v11.6M525.6 1042.1h11.6M531.4 1036.3v11.6M582.3 1028.2h11.6M588.1 1022.4v11.6M722.4 914.4h11.6M728.2 908.6v11.6M542.1 1064.7h11.6M547.9 1058.9v11.6M649.0 980.0h11.6M654.8 974.2v11.6M701.1 927.2h11.6M706.9 921.4v11.6M547.2 1069.7h11.6M553.0 1063.9v11.6M834.4 825.8h11.6M840.2 820.0v11.6M574.7 1038.3h11.6M580.5 1032.5v11.6M762.4 883.0h11.6M768.2 877.2v11.6M705.8 930.3h11.6M711.6 924.5v11.6M591.3 1011.6h11.6M597.1 1005.8v11.6M538.4 1046.1h11.6M544.2 1040.3v11.6M583.0 1021.8h11.6M588.8 1016.0v11.6M867.3 804.6h11.6M873.1 798.8v11.6M582.2 1030.3h11.6M588.0 1024.5v11.6M626.4 1000.0h11.6M632.2 994.2v11.6M625.5 1009.0h11.6M631.3 1003.2v11.6M799.8 853.0h11.6M805.6 847.2v11.6M625.7 987.2h11.6M631.5 981.4v11.6M674.8 956.9h11.6M680.6 951.1v11.6M698.9 932.7h11.6M704.7 926.9v11.6M689.6 940.0h11.6M695.4 934.2v11.6M811.3 850.3h11.6M817.1 844.5v11.6M831.8 835.2h11.6M837.6 829.4v11.6M639.7 979.9h11.6M645.5 974.1v11.6M660.8 958.4h11.6M666.6 952.6v11.6M901.0 771.4h11.6M906.8 765.6v11.6M649.8 968.2h11.6M655.6 962.4v11.6M542.3 1049.0h11.6M548.1 1043.2v11.6M684.3 952.1h11.6M690.1 946.3v11.6M674.9 959.6h11.6M680.7 953.8v11.6M771.8 871.0h11.6M777.6 865.2v11.6M684.3 956.4h11.6M690.1 950.6v11.6M675.3 955.0h11.6M681.1 949.2v11.6M577.3 1026.3h11.6M583.1 1020.5v11.6M598.5 1004.6h11.6M604.3 998.8v11.6M794.8 853.9h11.6M800.6 848.1v11.6M706.2 928.7h11.6M712.0 922.9v11.6M563.0 1035.7h11.6M568.8 1029.9v11.6M677.3 936.9h11.6M683.1 931.1v11.6M588.5 1018.0h11.6M594.3 1012.2v11.6M662.7 953.8h11.6M668.5 948.0v11.6M747.3 898.9h11.6M753.1 893.1v11.6M805.3 856.4h11.6M811.1 850.6v11.6M889.9 778.3h11.6M895.7 772.5v11.6M512.7 1074.2h11.6M518.5 1068.4v11.6M826.1 830.1h11.6M831.9 824.3v11.6M568.8 1066.4h11.6M574.6 1060.6v11.6M691.7 953.0h11.6M697.5 947.2v11.6M587.5 1020.6h11.6M593.3 1014.8v11.6M882.6 790.6h11.6M888.4 784.8v11.6M550.9 1057.7h11.6M556.7 1051.9v11.6M699.9 934.8h11.6M705.7 929.0v11.6M635.2 974.6h11.6M641.0 968.8v11.6M840.2 820.7h11.6M846.0 814.9v11.6M659.4 951.4h11.6M665.2 945.6v11.6M782.5 870.4h11.6M788.3 864.6v11.6M610.9 1008.9h11.6M616.7 1003.1v11.6M561.0 1047.8h11.6M566.8 1042.0v11.6M592.8 1020.3h11.6M598.6 1014.5v11.6M789.9 850.0h11.6M795.7 844.2v11.6M559.6 1030.1h11.6M565.4 1024.3v11.6M792.3 857.2h11.6M798.1 851.4v11.6M879.1 793.8h11.6M884.9 788.0v11.6M855.0 814.0h11.6M860.8 808.2v11.6M843.6 832.6h11.6M849.4 826.8v11.6M513.8 1111.1h11.6M519.6 1105.3v11.6M614.5 987.1h11.6M620.3 981.3v11.6M520.8 1077.8h11.6M526.6 1072.0v11.6M708.5 922.9h11.6M714.3 917.1v11.6M789.2 858.3h11.6M795.0 852.5v11.6M793.5 866.8h11.6M799.3 861.0v11.6M728.1 907.0h11.6M733.9 901.2v11.6M854.5 807.3h11.6M860.3 801.5v11.6M650.0 979.7h11.6M655.8 973.9v11.6M531.4 1071.3h11.6M537.2 1065.5v11.6M785.4 874.7h11.6M791.2 868.9v11.6M573.8 1050.2h11.6M579.6 1044.4v11.6M574.0 1031.5h11.6M579.8 1025.7v11.6M856.7 813.1h11.6M862.5 807.3v11.6M574.3 1022.0h11.6M580.1 1016.2v11.6M680.0 941.1h11.6M685.8 935.3v11.6M577.8 1034.9h11.6M583.6 1029.1v11.6M667.8 949.5h11.6M673.6 943.7v11.6M872.5 794.9h11.6M878.3 789.1v11.6M739.6 892.8h11.6M745.4 887.0v11.6M527.9 1052.6h11.6M533.7 1046.8v11.6M770.9 878.4h11.6M776.7 872.6v11.6M620.5 969.2h11.6M626.3 963.4v11.6M602.8 1001.0h11.6M608.6 995.2v11.6M744.6 902.1h11.6M750.4 896.3v11.6M681.6 964.5h11.6M687.4 958.7v11.6M489.4 1094.0h11.6M495.2 1088.2v11.6M688.9 938.9h11.6M694.7 933.1v11.6M669.1 963.1h11.6M674.9 957.3v11.6M528.6 1063.8h11.6M534.4 1058.0v11.6M895.1 772.0h11.6M900.9 766.2v11.6M765.8 876.1h11.6M771.6 870.3v11.6M589.0 1036.0h11.6M594.8 1030.2v11.6M669.6 958.4h11.6M675.4 952.6v11.6M784.3 866.6h11.6M790.1 860.8v11.6M585.5 1033.3h11.6M591.3 1027.5v11.6M633.6 986.2h11.6M639.4 980.4v11.6M846.6 818.6h11.6M852.4 812.8v11.6M584.7 1014.0h11.6M590.5 1008.2v11.6M639.8 984.1h11.6M645.6 978.3v11.6M761.1 884.3h11.6M766.9 878.5v11.6M669.1 961.1h11.6M674.9 955.3v11.6M832.3 832.6h11.6M838.1 826.8v11.6M709.5 931.0h11.6M715.3 925.2v11.6M668.2 961.8h11.6M674.0 956.0v11.6M545.7 1053.4h11.6M551.5 1047.6v11.6M791.2 860.9h11.6M797.0 855.1v11.6M520.1 1052.3h11.6M525.9 1046.5v11.6M815.5 839.0h11.6M821.3 833.2v11.6M767.7 883.9h11.6M773.5 878.1v11.6M675.0 927.4h11.6M680.8 921.6v11.6M522.1 1053.1h11.6M527.9 1047.3v11.6M730.9 912.8h11.6M736.7 907.0v11.6M504.4 1066.0h11.6M510.2 1060.2v11.6M759.1 889.9h11.6M764.9 884.1v11.6M517.1 1076.4h11.6M522.9 1070.6v11.6M541.7 1053.5h11.6M547.5 1047.7v11.6M645.7 969.7h11.6M651.5 963.9v11.6M550.3 1055.6h11.6M556.1 1049.8v11.6M578.3 1023.5h11.6M584.1 1017.7v11.6M669.3 952.8h11.6M675.1 947.0v11.6"/>
<path class="mk" d="M572.2 1035.8h11.6M578.0 1030.0v11.6M666.8 955.1h11.6M672.6 949.3v11.6M649.4 969.1h11.6M655.2 963.3v11.6M829.9 829.6h11.6M835.7 823.8v11.6M585.0 1030.0h11.6M590.8 1024.2v11.6M731.1 912.7h11.6M736.9 906.9v11.6M665.5 959.4h11.6M671.3 953.6v11.6M772.2 871.0h11.6M778.0 865.2v11.6M811.9 840.4h11.6M817.7 834.6v11.6M515.1 1055.0h11.6M520.9 1049.2v11.6M856.6 801.5h11.6M862.4 795.7v11.6M493.0 1107.1h11.6M498.8 1101.3v11.6M775.1 877.5h11.6M780.9 871.7v11.6M503.9 1097.9h11.6M509.7 1092.1v11.6M569.9 1031.1h11.6M575.7 1025.3v11.6M639.9 991.0h11.6M645.7 985.2v11.6M590.8 1011.0h11.6M596.6 1005.2v11.6M503.5 1100.9h11.6M509.3 1095.1v11.6M744.8 898.0h11.6M750.6 892.2v11.6M552.2 1055.2h11.6M558.0 1049.4v11.6M638.8 990.8h11.6M644.6 985.0v11.6M512.8 1069.4h11.6M518.6 1063.6v11.6M682.0 942.9h11.6M687.8 937.1v11.6M709.4 930.1h11.6M715.2 924.3v11.6M862.9 811.6h11.6M868.7 805.8v11.6M526.8 1055.4h11.6M532.6 1049.6v11.6M771.9 875.0h11.6M777.7 869.2v11.6M750.4 892.0h11.6M756.2 886.2v11.6M849.2 816.2h11.6M855.0 810.4v11.6M728.5 912.8h11.6M734.3 907.0v11.6M544.2 1026.1h11.6M550.0 1020.3v11.6M615.4 994.3h11.6M621.2 988.5v11.6M688.5 944.5h11.6M694.3 938.7v11.6M860.3 804.5h11.6M866.1 798.7v11.6M638.2 978.3h11.6M644.0 972.5v11.6M825.6 833.6h11.6M831.4 827.8v11.6M555.4 1047.8h11.6M561.2 1042.0v11.6M514.9 1084.0h11.6M520.7 1078.2v11.6M666.0 961.1h11.6M671.8 955.3v11.6M634.3 996.3h11.6M640.1 990.5v11.6M739.2 887.6h11.6M745.0 881.8v11.6M781.4 859.0h11.6M787.2 853.2v11.6M541.0 1044.9h11.6M546.8 1039.1v11.6M611.6 1009.8h11.6M617.4 1004.0v11.6M564.4 1045.2h11.6M570.2 1039.4v11.6M531.2 1049.8h11.6M537.0 1044.0v11.6M602.6 999.6h11.6M608.4 993.8v11.6M504.7 1081.3h11.6M510.5 1075.5v11.6M657.7 972.1h11.6M663.5 966.3v11.6M773.9 880.5h11.6M779.7 874.7v11.6M775.8 867.1h11.6M781.6 861.3v11.6M800.8 852.3h11.6M806.6 846.5v11.6M565.3 1047.2h11.6M571.1 1041.4v11.6M572.0 1052.4h11.6M577.8 1046.6v11.6M576.9 1015.1h11.6M582.7 1009.3v11.6M537.4 1064.4h11.6M543.2 1058.6v11.6M500.1 1115.5h11.6M505.9 1109.7v11.6M529.1 1067.3h11.6M534.9 1061.5v11.6M794.4 866.1h11.6M800.2 860.3v11.6M781.9 864.1h11.6M787.7 858.3v11.6M577.3 1040.5h11.6M583.1 1034.7v11.6M644.8 978.8h11.6M650.6 973.0v11.6M819.0 846.6h11.6M824.8 840.8v11.6M610.9 1006.3h11.6M616.7 1000.5v11.6M537.5 1071.7h11.6M543.3 1065.9v11.6M814.0 845.4h11.6M819.8 839.6v11.6M538.0 1047.8h11.6M543.8 1042.0v11.6M639.4 968.8h11.6M645.2 963.0v11.6M514.7 1074.5h11.6M520.5 1068.7v11.6M680.5 934.5h11.6M686.3 928.7v11.6M664.6 964.0h11.6M670.4 958.2v11.6M629.4 994.7h11.6M635.2 988.9v11.6M536.8 1049.0h11.6M542.6 1043.2v11.6M587.5 1020.9h11.6M593.3 1015.1v11.6M647.1 985.3h11.6M652.9 979.5v11.6M619.1 1009.8h11.6M624.9 1004.0v11.6M597.0 1015.7h11.6M602.8 1009.9v11.6M565.0 1012.4h11.6M570.8 1006.6v11.6M526.5 1069.4h11.6M532.3 1063.6v11.6M525.4 1089.1h11.6M531.2 1083.3v11.6M782.0 864.7h11.6M787.8 858.9v11.6M684.3 938.2h11.6M690.1 932.4v11.6M778.5 862.7h11.6M784.3 856.9v11.6M571.7 1049.4h11.6M577.5 1043.6v11.6M716.7 902.0h11.6M722.5 896.2v11.6M572.2 1032.9h11.6M578.0 1027.1v11.6M851.0 812.0h11.6M856.8 806.2v11.6M667.9 932.1h11.6M673.7 926.3v11.6M802.9 847.1h11.6M808.7 841.3v11.6M610.6 1003.5h11.6M616.4 997.7v11.6M516.0 1073.7h11.6M521.8 1067.9v11.6M672.2 956.1h11.6M678.0 950.3v11.6M517.2 1087.1h11.6M523.0 1081.3v11.6M519.8 1089.8h11.6M525.6 1084.0v11.6M877.6 798.0h11.6M883.4 792.2v11.6M555.5 1053.6h11.6M561.3 1047.8v11.6M761.1 891.2h11.6M766.9 885.4v11.6M729.9 911.7h11.6M735.7 905.9v11.6M523.2 1050.1h11.6M529.0 1044.3v11.6M726.9 908.8h11.6M732.7 903.0v11.6M531.2 1089.7h11.6M537.0 1083.9v11.6M743.6 900.1h11.6M749.4 894.3v11.6M732.3 905.3h11.6M738.1 899.5v11.6M876.0 793.2h11.6M881.8 787.4v11.6M537.0 1054.2h11.6M542.8 1048.4v11.6M521.8 1088.3h11.6M527.6 1082.5v11.6M580.3 1023.7h11.6M586.1 1017.9v11.6M545.5 1048.2h11.6M551.3 1042.4v11.6M567.7 1038.7h11.6M573.5 1032.9v11.6M775.8 872.3h11.6M781.6 866.5v11.6M577.9 1031.9h11.6M583.7 1026.1v11.6M531.8 1077.3h11.6M537.6 1071.5v11.6M782.8 865.7h11.6M788.6 859.9v11.6M790.3 861.4h11.6M796.1 855.6v11.6M861.6 808.6h11.6M867.4 802.8v11.6M719.4 924.3h11.6M725.2 918.5v11.6M781.9 875.2h11.6M787.7 869.4v11.6M715.6 915.6h11.6M721.4 909.8v11.6M514.2 1066.1h11.6M520.0 1060.3v11.6M520.2 1087.8h11.6M526.0 1082.0v11.6M548.6 1035.7h11.6M554.4 1029.9v11.6M733.5 900.2h11.6M739.3 894.4v11.6M745.0 896.5h11.6M750.8 890.7v11.6M629.0 1002.7h11.6M634.8 996.9v11.6M685.7 945.0h11.6M691.5 939.2v11.6M645.8 987.6h11.6M651.6 981.8v11.6M593.2 1015.7h11.6M599.0 1009.9v11.6M530.2 1062.9h11.6M536.0 1057.1v11.6M534.0 1064.5h11.6M539.8 1058.7v11.6M825.9 828.7h11.6M831.7 822.9v11.6M516.1 1100.0h11.6M521.9 1094.2v11.6M727.7 918.6h11.6M733.5 912.8v11.6M627.0 987.8h11.6M632.8 982.0v11.6M660.1 974.6h11.6M665.9 968.8v11.6M535.7 1046.7h11.6M541.5 1040.9v11.6M797.1 856.8h11.6M802.9 851.0v11.6M654.1 963.8h11.6M659.9 958.0v11.6M736.3 902.8h11.6M742.1 897.0v11.6M754.3 888.9h11.6M760.1 883.1v11.6M548.7 1061.1h11.6M554.5 1055.3v11.6M799.3 862.9h11.6M805.1 857.1v11.6M870.8 799.1h11.6M876.6 793.3v11.6M634.2 988.7h11.6M640.0 982.9v11.6M599.0 1005.2h11.6M604.8 999.4v11.6M628.5 987.4h11.6M634.3 981.6v11.6M828.4 818.5h11.6M834.2 812.7v11.6M552.0 1039.5h11.6M557.8 1033.7v11.6M575.4 1060.7h11.6M581.2 1054.9v11.6M545.8 1050.2h11.6M551.6 1044.4v11.6M642.1 977.3h11.6M647.9 971.5v11.6M731.3 894.7h11.6M737.1 888.9v11.6M649.5 972.0h11.6M655.3 966.2v11.6M768.2 879.3h11.6M774.0 873.5v11.6M639.5 987.3h11.6M645.3 981.5v11.6M897.4 777.0h11.6M903.2 771.2v11.6M830.3 828.6h11.6M836.1 822.8v11.6M825.9 830.8h11.6M831.7 825.0v11.6M798.9 855.8h11.6M804.7 850.0v11.6M570.1 1051.8h11.6M575.9 1046.0v11.6M778.5 861.7h11.6M784.3 855.9v11.6M727.0 911.4h11.6M732.8 905.6v11.6M524.8 1079.5h11.6M530.6 1073.7v11.6M695.4 931.6h11.6M701.2 925.8v11.6M636.9 961.2h11.6M642.7 955.4v11.6M643.7 980.1h11.6M649.5 974.3v11.6M641.0 974.6h11.6M646.8 968.8v11.6M618.7 992.2h11.6M624.5 986.4v11.6M584.8 1043.8h11.6M590.6 1038.0v11.6M595.4 1008.2h11.6M601.2 1002.4v11.6M737.0 908.6h11.6M742.8 902.8v11.6M746.2 899.8h11.6M752.0 894.0v11.6M685.1 940.3h11.6M690.9 934.5v11.6M547.6 1051.8h11.6M553.4 1046.0v11.6M697.4 918.0h11.6M703.2 912.2v11.6M553.4 1055.0h11.6M559.2 1049.2v11.6M503.9 1074.5h11.6M509.7 1068.7v11.6M726.2 919.5h11.6M732.0 913.7v11.6M838.7 827.1h11.6M844.5 821.3v11.6M654.3 973.0h11.6M660.1 967.2v11.6M614.7 987.4h11.6M620.5 981.6v11.6M823.3 833.6h11.6M829.1 827.8v11.6M625.3 989.9h11.6M631.1 984.1v11.6M792.2 860.9h11.6M798.0 855.1v11.6M529.5 1070.8h11.6M535.3 1065.0v11.6M567.6 1033.6h11.6M573.4 1027.8v11.6M572.7 1035.0h11.6M578.5 1029.2v11.6M626.9 978.0h11.6M632.7 972.2v11.6M773.8 870.6h11.6M779.6 864.8v11.6M658.3 953.7h11.6M664.1 947.9v11.6M542.4 1046.8h11.6M548.2 1041.0v11.6M572.9 1039.8h11.6M578.7 1034.0v11.6M719.4 918.7h11.6M725.2 912.9v11.6M729.1 913.5h11.6M734.9 907.7v11.6M747.6 887.7h11.6M753.4 881.9v11.6M822.9 828.1h11.6M828.7 822.3v11.6M869.4 810.3h11.6M875.2 804.5v11.6M841.7 819.6h11.6M847.5 813.8v11.6M808.8 844.4h11.6M814.6 838.6v11.6M600.7 1012.1h11.6M606.5 1006.3v11.6M506.5 1089.2h11.6M512.3 1083.4v11.6"/>
<path class="mk" d="M442.6 1119.5h11.6M448.4 1113.7v11.6M482.6 1135.7h11.6M488.4 1129.9v11.6M507.9 1125.8h11.6M513.7 1120.0v11.6M530.0 1118.4h11.6M535.8 1112.6v11.6M533.2 1119.5h11.6M539.0 1113.7v11.6M561.6 1113.2h11.6M567.4 1107.4v11.6M568.9 1102.6h11.6M574.7 1096.8v11.6M552.1 1102.6h11.6M557.9 1096.8v11.6M543.7 1099.5h11.6M549.5 1093.7v11.6M535.2 1101.6h11.6M541.0 1095.8v11.6M472.1 1119.5h11.6M477.9 1113.7v11.6M479.5 1118.4h11.6M485.3 1112.6v11.6M493.2 1113.2h11.6M499.0 1107.4v11.6M514.2 1113.2h11.6M520.0 1107.4v11.6M478.4 1073.2h11.6M484.2 1067.4v11.6M477.4 1078.4h11.6M483.2 1072.6v11.6M470.0 1084.7h11.6M475.8 1078.9v11.6M468.9 1095.3h11.6M474.7 1089.5v11.6M476.3 1095.3h11.6M482.1 1089.5v11.6M495.2 1058.4h11.6M501.0 1052.6v11.6M496.9 1058.4h11.6M502.7 1052.6v11.6M511.0 1000.5h11.6M516.8 994.7v11.6M514.2 1001.6h11.6M520.0 995.8v11.6M526.8 985.8h11.6M532.6 980.0v11.6M564.1 973.2h11.6M569.9 967.4v11.6M581.6 972.1h11.6M587.4 966.3v11.6M586.8 978.4h11.6M592.6 972.6v11.6M592.1 965.8h11.6M597.9 960.0v11.6M604.3 963.7h11.6M610.1 957.9v11.6M612.7 960.1h11.6M618.5 954.3v11.6M583.2 942.2h11.6M589.0 936.4v11.6M630.0 930.4h11.6M635.8 924.6v11.6M652.7 914.6h11.6M658.5 908.8v11.6M628.9 949.0h11.6M634.7 943.2v11.6M632.1 957.4h11.6M637.9 951.6v11.6M639.5 941.6h11.6M645.3 935.8v11.6M685.8 1011.0h11.6M691.6 1005.2v11.6M678.0 1053.6h11.6M683.8 1047.8v11.6M637.4 1044.7h11.6M643.2 1038.9v11.6M638.4 1018.4h11.6M644.2 1012.6v11.6M635.2 1002.6h11.6M641.0 996.8v11.6M621.6 1037.4h11.6M627.4 1031.6v11.6M617.4 1043.7h11.6M623.2 1037.9v11.6M602.6 1060.5h11.6M608.4 1054.7v11.6M603.7 1063.7h11.6M609.5 1057.9v11.6M583.7 1075.3h11.6M589.5 1069.5v11.6M573.2 1076.3h11.6M579.0 1070.5v11.6M663.7 991.0h11.6M669.5 985.2v11.6M657.4 989.0h11.6M663.2 983.2v11.6M727.9 938.4h11.6M733.7 932.6v11.6M752.7 773.7h11.6M758.5 767.9v11.6M779.5 767.0h11.6M785.3 761.2v11.6M851.7 773.7h11.6M857.5 767.9v11.6M910.0 773.3h11.6M915.8 767.5v11.6M724.7 820.4h11.6M730.5 814.6v11.6M783.2 825.9h11.6M789.0 820.1v11.6M744.3 839.0h11.6M750.1 833.2v11.6M793.2 837.9h11.6M799.0 832.1v11.6M695.2 852.6h11.6M701.0 846.8v11.6M712.5 857.9h11.6M718.3 852.1v11.6M647.2 865.9h11.6M653.0 860.1v11.6M688.5 873.7h11.6M694.3 867.9v11.6M714.8 871.2h11.6M720.6 865.4v11.6M704.7 877.9h11.6M710.5 872.1v11.6M699.5 884.8h11.6M705.3 879.0v11.6M702.2 901.0h11.6M708.0 895.2v11.6M652.7 914.3h11.6M658.5 908.5v11.6M684.7 915.2h11.6M690.5 909.4v11.6M694.2 913.7h11.6M700.0 907.9v11.6M748.9 862.1h11.6M754.7 856.3v11.6M748.9 866.3h11.6M754.7 860.5v11.6M727.5 939.0h11.6M733.3 933.2v11.6M785.8 943.6h11.6M791.6 937.8v11.6M747.2 969.0h11.6M753.0 963.2v11.6M804.3 871.6h11.6M810.1 865.8v11.6M858.4 790.5h11.6M864.2 784.7v11.6M978.1 719.3h11.6M983.9 713.5v11.6M967.2 747.6h11.6M973.0 741.8v11.6"/>
<path class="ax" d="M445.4 683.0V1135.0H1023.4M445.4 1135.0v-4.6M445.4 1135.0h4.6M561.0 1135.0v-4.6M445.4 1044.6h4.6M676.6 1135.0v-4.6M445.4 954.2h4.6M792.2 1135.0v-4.6M445.4 863.8h4.6M907.8 1135.0v-4.6M445.4 773.4h4.6M1023.4 1135.0v-4.6M445.4 683.0h4.6"/>
<line class="ln" x1="445.4" y1="1135.0" x2="1023.4" y2="683.0"/>
<text class="t tk" text-anchor="middle" x="445.4" y="1165.2">0</text>
<text class="t tk" text-anchor="end" x="435.2" y="1144.2">0</text>
<text class="t tk" text-anchor="middle" x="561.0" y="1165.2">0.2</text>
<text class="t tk" text-anchor="end" x="435.2" y="1053.8">0.2</text>
<text class="t tk" text-anchor="middle" x="676.6" y="1165.2">0.4</text>
<text class="t tk" text-anchor="end" x="435.2" y="963.4">0.4</text>
<text class="t tk" text-anchor="middle" x="792.2" y="1165.2">0.6</text>
<text class="t tk" text-anchor="end" x="435.2" y="873.0">0.6</text>
<text class="t tk" text-anchor="middle" x="907.8" y="1165.2">0.8</text>
<text class="t tk" text-anchor="end" x="435.2" y="782.6">0.8</text>
<text class="t tk" text-anchor="middle" x="1023.4" y="1165.2">1</text>
<text class="t tk" text-anchor="end" x="435.2" y="692.2">1</text>
<text class="t lb" text-anchor="middle" textLength="165" lengthAdjust="spacingAndGlyphs" x="733.9" y="1196.3">Predicted Value</text>
<text class="t lb" text-anchor="middle" textLength="116" lengthAdjust="spacingAndGlyphs" style="font-size:24.5px" transform="translate(395.1 910.0) rotate(-90)">True Value</text>
<text class="r" textLength="129.5" lengthAdjust="spacingAndGlyphs" x="502.3" y="920.9">r=0.97744</text>
<text class="cap" text-anchor="middle" textLength="39.5" lengthAdjust="spacingAndGlyphs" x="714.5" y="1261.8">(c)</text>
</g>
</svg>
</body></html>
